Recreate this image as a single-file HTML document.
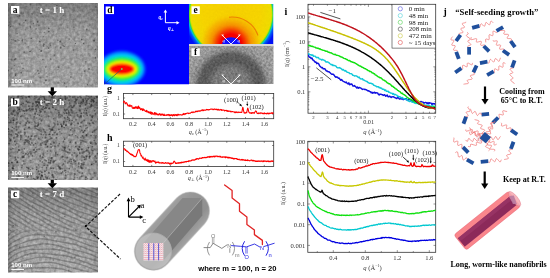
<!DOCTYPE html>
<html><head><meta charset="utf-8"><title>figure</title>
<style>html,body{margin:0;padding:0;background:#fff;width:550px;height:278px;overflow:hidden;}svg{display:block;}</style>
</head><body>
<svg width="550" height="278" viewBox="0 0 550 278" style="filter:blur(0.3px)">
<rect width="550" height="278" fill="#fff"/>
<defs>
<filter id="temA" x="0" y="0" width="100%" height="100%" color-interpolation-filters="sRGB">
 <feTurbulence type="fractalNoise" baseFrequency="0.33" numOctaves="2" seed="4"/>
 <feColorMatrix type="matrix" values="0.34 0 0 0 0.455  0.34 0 0 0 0.455  0.34 0 0 0 0.455  0 0 0 0 1"/>
</filter>
<filter id="temB" x="0" y="0" width="100%" height="100%" color-interpolation-filters="sRGB">
 <feTurbulence type="fractalNoise" baseFrequency="0.33" numOctaves="2" seed="9"/>
 <feColorMatrix type="matrix" values="0.36 0 0 0 0.42  0.36 0 0 0 0.42  0.36 0 0 0 0.42  0 0 0 0 1"/>
</filter>
<filter id="temC" x="0" y="0" width="100%" height="100%" color-interpolation-filters="sRGB">
 <feTurbulence type="fractalNoise" baseFrequency="0.33" numOctaves="2" seed="13"/>
 <feColorMatrix type="matrix" values="0.32 0 0 0 0.49  0.32 0 0 0 0.49  0.32 0 0 0 0.49  0 0 0 0 1"/>
</filter>
<filter id="temF" x="0" y="0" width="100%" height="100%" color-interpolation-filters="sRGB">
 <feTurbulence type="fractalNoise" baseFrequency="0.45" numOctaves="2" seed="21"/>
 <feColorMatrix type="matrix" values="0.35 0 0 0 0.43  0.35 0 0 0 0.43  0.35 0 0 0 0.43  0 0 0 0 1"/>
</filter>
<filter id="blur1"><feGaussianBlur stdDeviation="1.2"/></filter>
<filter id="blur2"><feGaussianBlur stdDeviation="2.5"/></filter>
<filter id="blurH" x="-20%" y="-20%" width="140%" height="140%"><feGaussianBlur stdDeviation="1.1"/></filter>
<filter id="dotblur" x="-5%" y="-5%" width="110%" height="110%"><feGaussianBlur stdDeviation="0.35"/></filter>
<filter id="blur05"><feGaussianBlur stdDeviation="0.5"/></filter>
<clipPath id="cA"><rect x="8" y="3" width="90" height="84.5"/></clipPath>
<clipPath id="cB"><rect x="8" y="95.5" width="90" height="84.5"/></clipPath>
<clipPath id="cC"><rect x="8" y="187.5" width="90" height="85"/></clipPath>
<clipPath id="cD"><rect x="104" y="4" width="85" height="80.5"/></clipPath>
<clipPath id="cE"><rect x="189" y="4" width="84.5" height="40"/></clipPath>
<clipPath id="cF"><rect x="189" y="45" width="84.5" height="39"/></clipPath>
<radialGradient id="gHeat" cx="121" cy="68" r="24" gradientUnits="userSpaceOnUse" gradientTransform="translate(121 68) scale(1 0.74) translate(-121 -68)">
 <stop offset="0" stop-color="#ff0000"/>
 <stop offset="0.42" stop-color="#ff1000"/>
 <stop offset="0.52" stop-color="#ff9000"/>
 <stop offset="0.62" stop-color="#f8f000"/>
 <stop offset="0.75" stop-color="#30e030"/>
 <stop offset="0.88" stop-color="#00c8f0"/>
 <stop offset="1" stop-color="#0000ff"/>
</radialGradient>
<radialGradient id="gE" cx="231" cy="14.3" r="47" gradientUnits="userSpaceOnUse">
 <stop offset="0" stop-color="#ffd800"/>
 <stop offset="0.6" stop-color="#ffdc00"/>
 <stop offset="0.855" stop-color="#f8e400"/>
 <stop offset="0.872" stop-color="#c8f000"/>
 <stop offset="0.892" stop-color="#30e050"/>
 <stop offset="0.912" stop-color="#00c0e8"/>
 <stop offset="0.94" stop-color="#0060ff"/>
 <stop offset="1" stop-color="#0010ff"/>
</radialGradient>
<radialGradient id="gE2" cx="231" cy="44" r="32" gradientUnits="userSpaceOnUse" gradientTransform="translate(231 44) scale(1 0.95) translate(-231 -44)">
 <stop offset="0" stop-color="#ff0000"/>
 <stop offset="0.33" stop-color="#ff0000"/>
 <stop offset="0.46" stop-color="#ff3800" stop-opacity="0.95"/>
 <stop offset="0.62" stop-color="#ff8000" stop-opacity="0.75"/>
 <stop offset="0.82" stop-color="#ffa000" stop-opacity="0.42"/>
 <stop offset="0.92" stop-color="#ffb000" stop-opacity="0.12"/>
 <stop offset="1" stop-color="#ffc000" stop-opacity="0"/>
</radialGradient>
<radialGradient id="gF" cx="231" cy="86" r="42" gradientUnits="userSpaceOnUse">
 <stop offset="0" stop-color="#000" stop-opacity="0.18"/>
 <stop offset="0.42" stop-color="#000" stop-opacity="0.22"/>
 <stop offset="0.6" stop-color="#000" stop-opacity="0.42"/>
 <stop offset="0.76" stop-color="#000" stop-opacity="0.4"/>
 <stop offset="0.88" stop-color="#000" stop-opacity="0.1"/>
 <stop offset="1" stop-color="#000" stop-opacity="0"/>
</radialGradient>
<linearGradient id="gSide" x1="0" y1="0" x2="1" y2="0">
 <stop offset="0" stop-color="#000" stop-opacity="0.2"/>
 <stop offset="0.05" stop-color="#000" stop-opacity="0.06"/>
 <stop offset="0.15" stop-color="#000" stop-opacity="0"/>
 <stop offset="0.9" stop-color="#000" stop-opacity="0"/>
 <stop offset="1" stop-color="#000" stop-opacity="0.08"/>
</linearGradient>
<linearGradient id="gAtop" x1="0" y1="0" x2="0" y2="1">
 <stop offset="0" stop-color="#000" stop-opacity="0.22"/>
 <stop offset="0.35" stop-color="#000" stop-opacity="0.05"/>
 <stop offset="1" stop-color="#000" stop-opacity="0"/>
</linearGradient>
</defs>
<g clip-path="url(#cA)">
<rect x="8" y="3" width="90" height="84.5" filter="url(#temA)"/>
<rect x="8" y="3" width="90" height="84.5" fill="url(#gAtop)"/>
<rect x="8" y="3" width="90" height="84.5" fill="url(#gSide)"/>
<g filter="url(#dotblur)">
<circle cx="37.1" cy="15.7" r="0.86" fill="#303030" fill-opacity="0.33"/>
<circle cx="56.2" cy="33.9" r="0.62" fill="#303030" fill-opacity="0.48"/>
<circle cx="11.4" cy="39.6" r="0.63" fill="#303030" fill-opacity="0.33"/>
<circle cx="46.2" cy="72.9" r="0.65" fill="#303030" fill-opacity="0.38"/>
<circle cx="64.5" cy="83.1" r="0.83" fill="#303030" fill-opacity="0.44"/>
<circle cx="95.9" cy="6.9" r="0.94" fill="#303030" fill-opacity="0.40"/>
<circle cx="21.0" cy="13.0" r="0.72" fill="#303030" fill-opacity="0.59"/>
<circle cx="24.3" cy="52.1" r="0.86" fill="#303030" fill-opacity="0.43"/>
<circle cx="57.3" cy="8.3" r="0.62" fill="#303030" fill-opacity="0.37"/>
<circle cx="69.2" cy="39.1" r="0.73" fill="#303030" fill-opacity="0.50"/>
<circle cx="48.8" cy="28.3" r="0.92" fill="#303030" fill-opacity="0.54"/>
<circle cx="30.0" cy="51.5" r="0.81" fill="#303030" fill-opacity="0.61"/>
<circle cx="73.7" cy="27.3" r="0.99" fill="#303030" fill-opacity="0.34"/>
<circle cx="45.6" cy="67.0" r="0.66" fill="#303030" fill-opacity="0.47"/>
<circle cx="11.5" cy="59.5" r="0.91" fill="#303030" fill-opacity="0.50"/>
<circle cx="86.8" cy="29.5" r="0.88" fill="#303030" fill-opacity="0.51"/>
<circle cx="60.2" cy="41.5" r="0.94" fill="#303030" fill-opacity="0.63"/>
<circle cx="50.7" cy="59.1" r="0.62" fill="#303030" fill-opacity="0.55"/>
<circle cx="66.2" cy="86.9" r="0.93" fill="#303030" fill-opacity="0.40"/>
<circle cx="42.7" cy="59.5" r="0.61" fill="#303030" fill-opacity="0.46"/>
<circle cx="23.1" cy="12.9" r="0.62" fill="#303030" fill-opacity="0.57"/>
<circle cx="19.6" cy="23.9" r="0.76" fill="#303030" fill-opacity="0.60"/>
<circle cx="15.3" cy="41.0" r="0.82" fill="#303030" fill-opacity="0.61"/>
<circle cx="81.7" cy="76.0" r="0.71" fill="#303030" fill-opacity="0.45"/>
<circle cx="40.3" cy="77.7" r="0.98" fill="#303030" fill-opacity="0.35"/>
<circle cx="23.9" cy="22.6" r="0.69" fill="#303030" fill-opacity="0.47"/>
<circle cx="61.0" cy="25.2" r="0.60" fill="#303030" fill-opacity="0.45"/>
<circle cx="41.2" cy="50.9" r="0.98" fill="#303030" fill-opacity="0.54"/>
<circle cx="54.4" cy="55.2" r="0.87" fill="#303030" fill-opacity="0.32"/>
<circle cx="89.0" cy="68.9" r="0.95" fill="#303030" fill-opacity="0.58"/>
<circle cx="43.3" cy="36.7" r="0.64" fill="#303030" fill-opacity="0.52"/>
<circle cx="13.6" cy="8.7" r="0.68" fill="#303030" fill-opacity="0.36"/>
<circle cx="38.6" cy="7.4" r="0.60" fill="#303030" fill-opacity="0.35"/>
<circle cx="17.1" cy="33.7" r="0.61" fill="#303030" fill-opacity="0.61"/>
<circle cx="63.3" cy="15.6" r="0.70" fill="#303030" fill-opacity="0.42"/>
<circle cx="40.8" cy="13.4" r="0.94" fill="#303030" fill-opacity="0.65"/>
<circle cx="49.9" cy="43.9" r="0.63" fill="#303030" fill-opacity="0.34"/>
<circle cx="38.8" cy="25.4" r="0.93" fill="#303030" fill-opacity="0.36"/>
<circle cx="10.1" cy="83.4" r="0.81" fill="#303030" fill-opacity="0.35"/>
<circle cx="56.9" cy="5.3" r="0.81" fill="#303030" fill-opacity="0.64"/>
<circle cx="85.7" cy="61.8" r="0.70" fill="#303030" fill-opacity="0.43"/>
<circle cx="23.0" cy="68.2" r="0.81" fill="#303030" fill-opacity="0.57"/>
<circle cx="37.7" cy="21.8" r="0.92" fill="#303030" fill-opacity="0.64"/>
<circle cx="84.7" cy="71.1" r="0.93" fill="#303030" fill-opacity="0.56"/>
<circle cx="28.4" cy="46.7" r="0.74" fill="#303030" fill-opacity="0.31"/>
<circle cx="10.5" cy="26.6" r="0.70" fill="#303030" fill-opacity="0.54"/>
<circle cx="94.1" cy="40.8" r="0.97" fill="#303030" fill-opacity="0.65"/>
<circle cx="94.0" cy="33.8" r="0.69" fill="#303030" fill-opacity="0.38"/>
<circle cx="25.7" cy="20.3" r="0.85" fill="#303030" fill-opacity="0.62"/>
<circle cx="83.6" cy="43.5" r="0.86" fill="#303030" fill-opacity="0.58"/>
<circle cx="15.6" cy="58.8" r="0.96" fill="#303030" fill-opacity="0.57"/>
<circle cx="75.5" cy="43.4" r="0.67" fill="#303030" fill-opacity="0.58"/>
<circle cx="37.9" cy="70.7" r="0.99" fill="#303030" fill-opacity="0.44"/>
<circle cx="44.1" cy="83.0" r="0.89" fill="#303030" fill-opacity="0.36"/>
<circle cx="19.4" cy="15.8" r="0.96" fill="#303030" fill-opacity="0.58"/>
<circle cx="21.2" cy="72.8" r="0.99" fill="#303030" fill-opacity="0.53"/>
<circle cx="39.5" cy="49.4" r="0.65" fill="#303030" fill-opacity="0.30"/>
<circle cx="95.4" cy="57.9" r="0.81" fill="#303030" fill-opacity="0.63"/>
<circle cx="47.0" cy="76.7" r="0.93" fill="#303030" fill-opacity="0.37"/>
<circle cx="30.7" cy="27.8" r="0.70" fill="#303030" fill-opacity="0.51"/>
<circle cx="31.3" cy="38.4" r="0.65" fill="#303030" fill-opacity="0.62"/>
<circle cx="39.8" cy="41.7" r="0.83" fill="#303030" fill-opacity="0.62"/>
<circle cx="45.9" cy="80.5" r="0.80" fill="#303030" fill-opacity="0.49"/>
<circle cx="55.1" cy="4.6" r="0.78" fill="#303030" fill-opacity="0.36"/>
<circle cx="8.4" cy="70.5" r="0.67" fill="#303030" fill-opacity="0.47"/>
<circle cx="73.3" cy="50.0" r="0.73" fill="#303030" fill-opacity="0.48"/>
<circle cx="58.0" cy="69.3" r="0.64" fill="#303030" fill-opacity="0.50"/>
<circle cx="30.4" cy="26.4" r="0.91" fill="#303030" fill-opacity="0.48"/>
<circle cx="58.6" cy="67.2" r="0.96" fill="#303030" fill-opacity="0.46"/>
<circle cx="63.1" cy="45.7" r="0.80" fill="#303030" fill-opacity="0.54"/>
<circle cx="48.7" cy="48.1" r="0.79" fill="#303030" fill-opacity="0.63"/>
<circle cx="70.9" cy="77.1" r="0.98" fill="#303030" fill-opacity="0.39"/>
<circle cx="58.4" cy="82.7" r="0.94" fill="#303030" fill-opacity="0.35"/>
<circle cx="18.9" cy="40.4" r="0.63" fill="#303030" fill-opacity="0.38"/>
<circle cx="14.6" cy="59.6" r="0.91" fill="#303030" fill-opacity="0.61"/>
<circle cx="21.9" cy="63.5" r="0.86" fill="#303030" fill-opacity="0.35"/>
<circle cx="87.5" cy="84.8" r="0.69" fill="#303030" fill-opacity="0.63"/>
<circle cx="43.8" cy="44.2" r="1.00" fill="#303030" fill-opacity="0.59"/>
<circle cx="22.5" cy="39.5" r="0.81" fill="#303030" fill-opacity="0.42"/>
<circle cx="25.6" cy="29.9" r="0.89" fill="#303030" fill-opacity="0.31"/>
<circle cx="57.9" cy="40.2" r="0.61" fill="#303030" fill-opacity="0.42"/>
<circle cx="64.2" cy="46.3" r="0.63" fill="#303030" fill-opacity="0.64"/>
<circle cx="79.0" cy="85.1" r="0.64" fill="#303030" fill-opacity="0.39"/>
<circle cx="11.6" cy="68.8" r="0.71" fill="#303030" fill-opacity="0.35"/>
<circle cx="46.0" cy="80.0" r="0.93" fill="#303030" fill-opacity="0.39"/>
<circle cx="21.4" cy="80.7" r="0.83" fill="#303030" fill-opacity="0.55"/>
<circle cx="16.1" cy="7.9" r="0.88" fill="#303030" fill-opacity="0.45"/>
<circle cx="14.5" cy="82.3" r="0.85" fill="#303030" fill-opacity="0.58"/>
<circle cx="15.5" cy="75.4" r="0.63" fill="#303030" fill-opacity="0.60"/>
<circle cx="48.8" cy="31.7" r="0.82" fill="#303030" fill-opacity="0.62"/>
<circle cx="32.1" cy="13.9" r="0.81" fill="#303030" fill-opacity="0.38"/>
<circle cx="17.9" cy="16.6" r="0.62" fill="#303030" fill-opacity="0.37"/>
<circle cx="36.1" cy="28.8" r="0.90" fill="#303030" fill-opacity="0.40"/>
<circle cx="53.0" cy="18.0" r="0.74" fill="#303030" fill-opacity="0.31"/>
<circle cx="30.5" cy="4.3" r="0.89" fill="#303030" fill-opacity="0.49"/>
<circle cx="25.1" cy="43.1" r="0.97" fill="#303030" fill-opacity="0.34"/>
<circle cx="81.7" cy="39.5" r="0.80" fill="#303030" fill-opacity="0.59"/>
<circle cx="43.4" cy="45.8" r="0.88" fill="#303030" fill-opacity="0.64"/>
<circle cx="38.8" cy="73.3" r="0.88" fill="#303030" fill-opacity="0.52"/>
<circle cx="44.4" cy="32.4" r="0.62" fill="#303030" fill-opacity="0.35"/>
<circle cx="14.4" cy="65.6" r="0.70" fill="#303030" fill-opacity="0.36"/>
<circle cx="15.6" cy="74.1" r="0.95" fill="#303030" fill-opacity="0.53"/>
<circle cx="33.4" cy="23.5" r="0.72" fill="#303030" fill-opacity="0.46"/>
<circle cx="22.2" cy="40.7" r="0.71" fill="#303030" fill-opacity="0.64"/>
<circle cx="95.5" cy="49.2" r="0.70" fill="#303030" fill-opacity="0.64"/>
<circle cx="35.9" cy="33.1" r="0.60" fill="#303030" fill-opacity="0.43"/>
<circle cx="50.7" cy="45.5" r="0.68" fill="#303030" fill-opacity="0.48"/>
<circle cx="8.4" cy="25.3" r="0.64" fill="#303030" fill-opacity="0.44"/>
<circle cx="11.8" cy="4.9" r="0.72" fill="#303030" fill-opacity="0.38"/>
<circle cx="60.7" cy="47.7" r="0.90" fill="#303030" fill-opacity="0.53"/>
</g>
</g>
<g clip-path="url(#cB)">
<rect x="8" y="95.5" width="90" height="84.5" filter="url(#temB)"/>
<rect x="8" y="95.5" width="90" height="84.5" fill="url(#gAtop)"/>
<rect x="8" y="95.5" width="90" height="84.5" fill="url(#gSide)"/>
<g filter="url(#dotblur)">
<circle cx="72.4" cy="167.0" r="0.84" fill="#262626" fill-opacity="0.41"/>
<circle cx="96.6" cy="102.6" r="0.95" fill="#262626" fill-opacity="0.53"/>
<circle cx="11.9" cy="162.4" r="1.01" fill="#262626" fill-opacity="0.52"/>
<circle cx="74.0" cy="160.0" r="0.75" fill="#262626" fill-opacity="0.48"/>
<circle cx="53.4" cy="162.3" r="0.98" fill="#262626" fill-opacity="0.59"/>
<circle cx="60.6" cy="168.4" r="0.94" fill="#262626" fill-opacity="0.54"/>
<circle cx="28.7" cy="96.4" r="0.75" fill="#262626" fill-opacity="0.43"/>
<circle cx="17.4" cy="162.4" r="0.90" fill="#262626" fill-opacity="0.52"/>
<circle cx="64.4" cy="146.7" r="0.87" fill="#262626" fill-opacity="0.30"/>
<circle cx="79.8" cy="153.5" r="0.88" fill="#262626" fill-opacity="0.49"/>
<circle cx="67.3" cy="98.0" r="0.96" fill="#262626" fill-opacity="0.39"/>
<circle cx="14.7" cy="110.6" r="0.96" fill="#262626" fill-opacity="0.37"/>
<circle cx="74.6" cy="177.3" r="0.87" fill="#262626" fill-opacity="0.43"/>
<circle cx="51.1" cy="147.0" r="0.97" fill="#262626" fill-opacity="0.52"/>
<circle cx="65.8" cy="98.5" r="0.75" fill="#262626" fill-opacity="0.39"/>
<circle cx="74.9" cy="113.5" r="0.90" fill="#262626" fill-opacity="0.30"/>
<circle cx="13.5" cy="110.8" r="0.94" fill="#262626" fill-opacity="0.54"/>
<circle cx="68.8" cy="112.5" r="0.88" fill="#262626" fill-opacity="0.46"/>
<circle cx="50.0" cy="100.8" r="1.01" fill="#262626" fill-opacity="0.37"/>
<circle cx="96.0" cy="173.1" r="0.71" fill="#262626" fill-opacity="0.46"/>
<circle cx="81.8" cy="176.5" r="0.86" fill="#262626" fill-opacity="0.39"/>
<circle cx="26.9" cy="174.1" r="0.77" fill="#262626" fill-opacity="0.50"/>
<circle cx="20.8" cy="132.0" r="1.03" fill="#262626" fill-opacity="0.35"/>
<circle cx="81.8" cy="130.6" r="1.01" fill="#262626" fill-opacity="0.55"/>
<circle cx="28.8" cy="168.9" r="0.87" fill="#262626" fill-opacity="0.31"/>
<circle cx="8.3" cy="129.1" r="0.86" fill="#262626" fill-opacity="0.41"/>
<circle cx="20.7" cy="116.6" r="0.81" fill="#262626" fill-opacity="0.59"/>
<circle cx="8.2" cy="153.7" r="0.99" fill="#262626" fill-opacity="0.34"/>
<circle cx="91.4" cy="149.9" r="1.02" fill="#262626" fill-opacity="0.40"/>
<circle cx="41.5" cy="120.6" r="1.05" fill="#262626" fill-opacity="0.51"/>
<circle cx="40.5" cy="123.5" r="0.80" fill="#262626" fill-opacity="0.32"/>
<circle cx="17.2" cy="162.3" r="0.80" fill="#262626" fill-opacity="0.63"/>
<circle cx="30.4" cy="110.6" r="0.88" fill="#262626" fill-opacity="0.37"/>
<circle cx="41.6" cy="175.2" r="1.01" fill="#262626" fill-opacity="0.58"/>
<circle cx="64.8" cy="170.6" r="1.03" fill="#262626" fill-opacity="0.49"/>
<circle cx="72.8" cy="97.2" r="0.96" fill="#262626" fill-opacity="0.46"/>
<circle cx="75.7" cy="143.2" r="0.80" fill="#262626" fill-opacity="0.32"/>
<circle cx="91.4" cy="101.3" r="0.87" fill="#262626" fill-opacity="0.42"/>
<circle cx="34.8" cy="152.5" r="1.04" fill="#262626" fill-opacity="0.39"/>
<circle cx="67.0" cy="113.2" r="0.90" fill="#262626" fill-opacity="0.44"/>
<circle cx="23.1" cy="103.4" r="0.77" fill="#262626" fill-opacity="0.62"/>
<circle cx="52.7" cy="107.3" r="1.02" fill="#262626" fill-opacity="0.65"/>
<circle cx="48.5" cy="102.0" r="0.77" fill="#262626" fill-opacity="0.33"/>
<circle cx="38.8" cy="99.3" r="0.78" fill="#262626" fill-opacity="0.39"/>
<circle cx="59.3" cy="167.8" r="0.96" fill="#262626" fill-opacity="0.44"/>
<circle cx="45.2" cy="132.0" r="0.83" fill="#262626" fill-opacity="0.42"/>
<circle cx="13.6" cy="111.5" r="1.04" fill="#262626" fill-opacity="0.34"/>
<circle cx="53.3" cy="141.8" r="1.00" fill="#262626" fill-opacity="0.38"/>
<circle cx="32.4" cy="109.3" r="0.84" fill="#262626" fill-opacity="0.46"/>
<circle cx="93.9" cy="163.8" r="1.01" fill="#262626" fill-opacity="0.31"/>
<circle cx="10.9" cy="149.6" r="1.01" fill="#262626" fill-opacity="0.47"/>
<circle cx="60.8" cy="95.5" r="0.84" fill="#262626" fill-opacity="0.62"/>
<circle cx="82.3" cy="164.5" r="1.04" fill="#262626" fill-opacity="0.39"/>
<circle cx="17.8" cy="102.9" r="0.88" fill="#262626" fill-opacity="0.54"/>
<circle cx="92.7" cy="150.8" r="0.93" fill="#262626" fill-opacity="0.57"/>
<circle cx="49.2" cy="134.5" r="0.71" fill="#262626" fill-opacity="0.57"/>
<circle cx="28.9" cy="171.3" r="0.93" fill="#262626" fill-opacity="0.41"/>
<circle cx="19.5" cy="109.6" r="0.92" fill="#262626" fill-opacity="0.54"/>
<circle cx="18.1" cy="98.2" r="0.88" fill="#262626" fill-opacity="0.50"/>
<circle cx="42.9" cy="107.6" r="0.91" fill="#262626" fill-opacity="0.30"/>
<circle cx="35.1" cy="126.4" r="1.04" fill="#262626" fill-opacity="0.53"/>
<circle cx="87.5" cy="127.6" r="0.78" fill="#262626" fill-opacity="0.39"/>
<circle cx="94.5" cy="149.1" r="0.81" fill="#262626" fill-opacity="0.31"/>
<circle cx="52.8" cy="146.1" r="0.85" fill="#262626" fill-opacity="0.39"/>
<circle cx="68.1" cy="171.9" r="0.78" fill="#262626" fill-opacity="0.31"/>
<circle cx="38.4" cy="122.9" r="0.94" fill="#262626" fill-opacity="0.37"/>
<circle cx="79.7" cy="152.5" r="0.88" fill="#262626" fill-opacity="0.37"/>
<circle cx="95.3" cy="114.1" r="0.99" fill="#262626" fill-opacity="0.38"/>
<circle cx="27.9" cy="154.7" r="0.80" fill="#262626" fill-opacity="0.63"/>
<circle cx="52.6" cy="105.1" r="0.78" fill="#262626" fill-opacity="0.45"/>
<circle cx="67.9" cy="174.4" r="0.75" fill="#262626" fill-opacity="0.44"/>
<circle cx="27.2" cy="177.2" r="0.75" fill="#262626" fill-opacity="0.32"/>
<circle cx="13.4" cy="120.6" r="1.01" fill="#262626" fill-opacity="0.61"/>
<circle cx="73.9" cy="179.7" r="1.03" fill="#262626" fill-opacity="0.42"/>
<circle cx="24.7" cy="173.0" r="0.96" fill="#262626" fill-opacity="0.31"/>
<circle cx="67.8" cy="119.4" r="0.83" fill="#262626" fill-opacity="0.42"/>
<circle cx="23.2" cy="95.5" r="0.80" fill="#262626" fill-opacity="0.42"/>
<circle cx="94.0" cy="101.1" r="1.04" fill="#262626" fill-opacity="0.37"/>
<circle cx="40.1" cy="160.9" r="0.99" fill="#262626" fill-opacity="0.45"/>
<circle cx="12.4" cy="127.5" r="0.83" fill="#262626" fill-opacity="0.62"/>
<circle cx="25.4" cy="118.2" r="1.01" fill="#262626" fill-opacity="0.31"/>
<circle cx="45.0" cy="159.9" r="0.97" fill="#262626" fill-opacity="0.31"/>
<circle cx="11.1" cy="97.8" r="1.02" fill="#262626" fill-opacity="0.39"/>
<circle cx="75.3" cy="169.0" r="0.82" fill="#262626" fill-opacity="0.40"/>
<circle cx="94.2" cy="140.6" r="0.79" fill="#262626" fill-opacity="0.55"/>
<circle cx="36.5" cy="111.3" r="0.70" fill="#262626" fill-opacity="0.56"/>
<circle cx="90.5" cy="142.2" r="1.03" fill="#262626" fill-opacity="0.31"/>
<circle cx="29.0" cy="127.6" r="1.03" fill="#262626" fill-opacity="0.63"/>
<circle cx="42.8" cy="109.5" r="0.85" fill="#262626" fill-opacity="0.47"/>
<circle cx="91.5" cy="104.8" r="0.98" fill="#262626" fill-opacity="0.56"/>
<circle cx="82.0" cy="155.9" r="0.91" fill="#262626" fill-opacity="0.41"/>
<circle cx="36.8" cy="118.0" r="0.97" fill="#262626" fill-opacity="0.33"/>
<circle cx="25.8" cy="153.9" r="0.79" fill="#262626" fill-opacity="0.32"/>
<circle cx="11.0" cy="134.6" r="0.81" fill="#262626" fill-opacity="0.64"/>
<circle cx="87.5" cy="178.7" r="0.79" fill="#262626" fill-opacity="0.33"/>
<circle cx="16.7" cy="129.7" r="0.95" fill="#262626" fill-opacity="0.46"/>
<circle cx="29.1" cy="122.6" r="0.92" fill="#262626" fill-opacity="0.54"/>
<circle cx="75.3" cy="163.6" r="0.93" fill="#262626" fill-opacity="0.34"/>
<circle cx="83.7" cy="112.7" r="0.90" fill="#262626" fill-opacity="0.43"/>
<circle cx="74.4" cy="105.9" r="0.79" fill="#262626" fill-opacity="0.39"/>
<circle cx="21.8" cy="167.5" r="0.90" fill="#262626" fill-opacity="0.41"/>
<circle cx="43.6" cy="179.2" r="0.88" fill="#262626" fill-opacity="0.38"/>
<circle cx="80.8" cy="144.1" r="1.05" fill="#262626" fill-opacity="0.34"/>
<circle cx="50.7" cy="160.7" r="0.99" fill="#262626" fill-opacity="0.62"/>
<circle cx="11.6" cy="112.7" r="0.74" fill="#262626" fill-opacity="0.37"/>
<circle cx="95.6" cy="137.4" r="1.03" fill="#262626" fill-opacity="0.43"/>
<circle cx="86.0" cy="125.3" r="0.79" fill="#262626" fill-opacity="0.57"/>
<circle cx="93.1" cy="100.1" r="0.91" fill="#262626" fill-opacity="0.52"/>
<circle cx="27.6" cy="118.6" r="0.75" fill="#262626" fill-opacity="0.37"/>
<circle cx="30.9" cy="138.9" r="0.93" fill="#262626" fill-opacity="0.37"/>
<circle cx="9.0" cy="115.3" r="0.94" fill="#262626" fill-opacity="0.36"/>
<circle cx="36.1" cy="106.2" r="0.98" fill="#262626" fill-opacity="0.49"/>
<circle cx="13.7" cy="99.8" r="0.84" fill="#262626" fill-opacity="0.49"/>
<circle cx="65.5" cy="99.3" r="0.76" fill="#262626" fill-opacity="0.54"/>
<circle cx="44.9" cy="111.9" r="0.81" fill="#262626" fill-opacity="0.63"/>
<circle cx="36.1" cy="135.9" r="0.83" fill="#262626" fill-opacity="0.45"/>
<circle cx="85.8" cy="179.6" r="0.83" fill="#262626" fill-opacity="0.37"/>
<circle cx="73.5" cy="106.2" r="0.70" fill="#262626" fill-opacity="0.62"/>
<circle cx="46.1" cy="160.8" r="0.84" fill="#262626" fill-opacity="0.61"/>
<circle cx="49.5" cy="103.5" r="0.71" fill="#262626" fill-opacity="0.49"/>
<circle cx="65.7" cy="170.2" r="0.73" fill="#262626" fill-opacity="0.52"/>
<circle cx="41.4" cy="130.2" r="0.75" fill="#262626" fill-opacity="0.40"/>
<circle cx="54.9" cy="171.9" r="0.74" fill="#262626" fill-opacity="0.47"/>
<circle cx="80.4" cy="176.4" r="0.77" fill="#262626" fill-opacity="0.34"/>
<circle cx="92.9" cy="177.3" r="0.87" fill="#262626" fill-opacity="0.32"/>
<circle cx="91.4" cy="120.2" r="1.02" fill="#262626" fill-opacity="0.52"/>
<circle cx="82.2" cy="103.3" r="0.98" fill="#262626" fill-opacity="0.38"/>
<circle cx="44.4" cy="163.5" r="0.99" fill="#262626" fill-opacity="0.36"/>
<circle cx="27.6" cy="121.2" r="0.88" fill="#262626" fill-opacity="0.43"/>
<circle cx="19.1" cy="109.2" r="0.95" fill="#262626" fill-opacity="0.61"/>
<circle cx="11.7" cy="135.5" r="0.97" fill="#262626" fill-opacity="0.31"/>
<circle cx="83.4" cy="100.7" r="0.91" fill="#262626" fill-opacity="0.49"/>
<circle cx="64.4" cy="113.6" r="0.85" fill="#262626" fill-opacity="0.50"/>
<circle cx="46.3" cy="144.6" r="0.86" fill="#262626" fill-opacity="0.45"/>
<circle cx="10.1" cy="140.8" r="0.87" fill="#262626" fill-opacity="0.38"/>
<circle cx="76.7" cy="156.7" r="0.86" fill="#262626" fill-opacity="0.36"/>
<circle cx="50.6" cy="100.1" r="0.74" fill="#262626" fill-opacity="0.45"/>
<circle cx="16.3" cy="124.7" r="0.88" fill="#262626" fill-opacity="0.31"/>
<circle cx="65.3" cy="98.8" r="0.96" fill="#262626" fill-opacity="0.57"/>
<circle cx="54.0" cy="97.4" r="0.88" fill="#262626" fill-opacity="0.43"/>
<circle cx="93.6" cy="101.8" r="1.00" fill="#262626" fill-opacity="0.65"/>
<circle cx="73.9" cy="160.3" r="0.77" fill="#262626" fill-opacity="0.64"/>
<circle cx="52.3" cy="175.3" r="1.02" fill="#262626" fill-opacity="0.36"/>
<circle cx="79.0" cy="172.5" r="0.72" fill="#262626" fill-opacity="0.42"/>
<circle cx="76.1" cy="103.2" r="1.01" fill="#262626" fill-opacity="0.40"/>
<circle cx="81.4" cy="102.3" r="0.88" fill="#262626" fill-opacity="0.62"/>
<circle cx="26.7" cy="110.4" r="0.88" fill="#262626" fill-opacity="0.41"/>
<circle cx="11.3" cy="104.7" r="0.76" fill="#262626" fill-opacity="0.63"/>
<circle cx="69.2" cy="168.7" r="0.76" fill="#262626" fill-opacity="0.57"/>
<circle cx="18.4" cy="132.6" r="0.92" fill="#262626" fill-opacity="0.43"/>
<circle cx="86.6" cy="134.8" r="0.90" fill="#262626" fill-opacity="0.61"/>
<circle cx="17.4" cy="179.2" r="0.92" fill="#262626" fill-opacity="0.44"/>
<circle cx="79.8" cy="110.5" r="1.05" fill="#262626" fill-opacity="0.50"/>
<circle cx="40.4" cy="155.1" r="0.85" fill="#262626" fill-opacity="0.36"/>
<circle cx="74.9" cy="97.1" r="0.99" fill="#262626" fill-opacity="0.39"/>
<circle cx="65.5" cy="178.3" r="0.91" fill="#262626" fill-opacity="0.53"/>
<circle cx="36.1" cy="95.5" r="0.71" fill="#262626" fill-opacity="0.35"/>
<circle cx="63.4" cy="123.9" r="0.88" fill="#262626" fill-opacity="0.61"/>
<circle cx="19.9" cy="107.8" r="0.93" fill="#262626" fill-opacity="0.31"/>
<circle cx="8.2" cy="117.5" r="0.74" fill="#262626" fill-opacity="0.43"/>
<circle cx="28.2" cy="137.5" r="0.91" fill="#262626" fill-opacity="0.37"/>
<circle cx="64.2" cy="127.6" r="0.75" fill="#262626" fill-opacity="0.63"/>
<circle cx="29.9" cy="102.6" r="0.73" fill="#262626" fill-opacity="0.52"/>
<circle cx="86.4" cy="156.9" r="0.84" fill="#262626" fill-opacity="0.39"/>
<circle cx="9.0" cy="143.3" r="0.90" fill="#262626" fill-opacity="0.42"/>
<circle cx="66.1" cy="124.9" r="1.03" fill="#262626" fill-opacity="0.56"/>
<circle cx="30.4" cy="169.6" r="0.72" fill="#262626" fill-opacity="0.49"/>
<circle cx="44.5" cy="108.6" r="0.72" fill="#262626" fill-opacity="0.57"/>
<circle cx="9.1" cy="134.4" r="1.03" fill="#262626" fill-opacity="0.35"/>
<circle cx="26.0" cy="139.8" r="0.88" fill="#262626" fill-opacity="0.52"/>
<circle cx="81.2" cy="104.2" r="0.81" fill="#262626" fill-opacity="0.41"/>
<circle cx="12.4" cy="168.1" r="0.97" fill="#262626" fill-opacity="0.55"/>
<circle cx="8.6" cy="163.3" r="0.96" fill="#262626" fill-opacity="0.46"/>
<circle cx="74.8" cy="125.6" r="0.78" fill="#262626" fill-opacity="0.34"/>
<circle cx="28.9" cy="96.7" r="0.82" fill="#262626" fill-opacity="0.56"/>
<circle cx="70.6" cy="163.4" r="0.95" fill="#262626" fill-opacity="0.39"/>
<circle cx="57.8" cy="124.2" r="0.98" fill="#262626" fill-opacity="0.48"/>
<circle cx="31.9" cy="143.0" r="1.04" fill="#262626" fill-opacity="0.38"/>
<circle cx="87.2" cy="95.9" r="0.79" fill="#262626" fill-opacity="0.38"/>
<circle cx="74.9" cy="174.0" r="0.96" fill="#262626" fill-opacity="0.41"/>
<circle cx="87.2" cy="115.4" r="0.78" fill="#262626" fill-opacity="0.62"/>
<circle cx="64.8" cy="147.9" r="0.93" fill="#262626" fill-opacity="0.64"/>
<circle cx="50.3" cy="162.8" r="0.94" fill="#262626" fill-opacity="0.60"/>
<circle cx="47.3" cy="151.1" r="0.90" fill="#262626" fill-opacity="0.41"/>
<circle cx="27.1" cy="141.1" r="0.73" fill="#262626" fill-opacity="0.62"/>
<circle cx="21.0" cy="96.3" r="0.74" fill="#262626" fill-opacity="0.63"/>
<circle cx="39.0" cy="102.2" r="0.71" fill="#262626" fill-opacity="0.31"/>
<circle cx="70.3" cy="142.2" r="0.94" fill="#262626" fill-opacity="0.56"/>
<circle cx="13.9" cy="138.1" r="0.83" fill="#262626" fill-opacity="0.59"/>
<circle cx="81.8" cy="168.3" r="0.72" fill="#262626" fill-opacity="0.60"/>
<circle cx="90.3" cy="173.9" r="0.74" fill="#262626" fill-opacity="0.37"/>
<circle cx="18.1" cy="96.6" r="1.00" fill="#262626" fill-opacity="0.58"/>
<circle cx="65.1" cy="161.3" r="0.92" fill="#262626" fill-opacity="0.40"/>
<circle cx="17.0" cy="99.6" r="0.97" fill="#262626" fill-opacity="0.37"/>
<circle cx="36.7" cy="123.2" r="0.71" fill="#262626" fill-opacity="0.39"/>
<circle cx="33.4" cy="150.2" r="0.83" fill="#262626" fill-opacity="0.41"/>
<circle cx="94.8" cy="130.2" r="1.00" fill="#262626" fill-opacity="0.52"/>
<circle cx="10.8" cy="122.3" r="0.85" fill="#262626" fill-opacity="0.57"/>
<circle cx="39.2" cy="149.1" r="0.89" fill="#262626" fill-opacity="0.38"/>
<circle cx="85.6" cy="99.2" r="0.99" fill="#262626" fill-opacity="0.36"/>
<circle cx="8.1" cy="106.1" r="0.97" fill="#262626" fill-opacity="0.64"/>
<circle cx="8.4" cy="129.0" r="0.87" fill="#262626" fill-opacity="0.58"/>
<circle cx="24.6" cy="129.3" r="0.82" fill="#262626" fill-opacity="0.59"/>
<circle cx="31.5" cy="173.9" r="0.80" fill="#262626" fill-opacity="0.38"/>
<circle cx="71.0" cy="129.7" r="0.74" fill="#262626" fill-opacity="0.52"/>
<circle cx="15.3" cy="157.5" r="0.94" fill="#262626" fill-opacity="0.58"/>
<circle cx="64.5" cy="117.5" r="0.84" fill="#262626" fill-opacity="0.44"/>
<circle cx="88.1" cy="99.0" r="1.01" fill="#262626" fill-opacity="0.31"/>
<circle cx="26.6" cy="110.4" r="1.02" fill="#262626" fill-opacity="0.48"/>
<circle cx="42.1" cy="167.5" r="0.78" fill="#262626" fill-opacity="0.46"/>
<circle cx="55.8" cy="154.1" r="0.96" fill="#262626" fill-opacity="0.53"/>
<circle cx="39.4" cy="115.2" r="0.75" fill="#262626" fill-opacity="0.60"/>
<circle cx="67.6" cy="152.8" r="0.76" fill="#262626" fill-opacity="0.45"/>
<circle cx="77.6" cy="137.0" r="0.74" fill="#262626" fill-opacity="0.46"/>
<circle cx="87.7" cy="108.6" r="0.77" fill="#262626" fill-opacity="0.41"/>
<circle cx="71.3" cy="163.2" r="0.75" fill="#262626" fill-opacity="0.35"/>
<circle cx="30.3" cy="115.2" r="0.88" fill="#262626" fill-opacity="0.36"/>
<circle cx="37.5" cy="105.2" r="1.04" fill="#262626" fill-opacity="0.56"/>
<circle cx="17.2" cy="175.9" r="0.74" fill="#262626" fill-opacity="0.43"/>
<circle cx="96.5" cy="158.2" r="0.96" fill="#262626" fill-opacity="0.45"/>
<circle cx="25.7" cy="142.6" r="0.74" fill="#262626" fill-opacity="0.37"/>
<circle cx="43.0" cy="96.5" r="0.84" fill="#262626" fill-opacity="0.58"/>
<circle cx="70.4" cy="129.9" r="0.92" fill="#262626" fill-opacity="0.46"/>
<circle cx="20.8" cy="139.3" r="0.84" fill="#262626" fill-opacity="0.56"/>
<circle cx="89.7" cy="123.7" r="0.90" fill="#262626" fill-opacity="0.56"/>
<circle cx="45.9" cy="107.9" r="0.95" fill="#262626" fill-opacity="0.61"/>
<circle cx="77.7" cy="148.7" r="1.00" fill="#262626" fill-opacity="0.54"/>
<circle cx="65.7" cy="125.8" r="0.81" fill="#262626" fill-opacity="0.52"/>
<circle cx="16.8" cy="122.8" r="0.97" fill="#262626" fill-opacity="0.55"/>
<circle cx="64.7" cy="109.4" r="0.85" fill="#262626" fill-opacity="0.46"/>
<circle cx="63.9" cy="122.0" r="0.94" fill="#262626" fill-opacity="0.63"/>
<circle cx="24.5" cy="144.2" r="0.97" fill="#262626" fill-opacity="0.44"/>
<circle cx="52.1" cy="177.2" r="0.71" fill="#262626" fill-opacity="0.49"/>
<circle cx="22.5" cy="156.9" r="1.03" fill="#262626" fill-opacity="0.48"/>
<circle cx="17.1" cy="136.6" r="0.89" fill="#262626" fill-opacity="0.55"/>
<circle cx="54.1" cy="142.7" r="0.99" fill="#262626" fill-opacity="0.48"/>
<circle cx="44.9" cy="174.3" r="0.77" fill="#262626" fill-opacity="0.54"/>
<circle cx="43.3" cy="154.9" r="0.74" fill="#262626" fill-opacity="0.64"/>
<circle cx="40.0" cy="97.5" r="0.80" fill="#262626" fill-opacity="0.44"/>
<circle cx="9.2" cy="122.7" r="0.85" fill="#262626" fill-opacity="0.54"/>
<circle cx="39.7" cy="110.5" r="0.78" fill="#262626" fill-opacity="0.56"/>
<circle cx="92.6" cy="132.3" r="0.78" fill="#262626" fill-opacity="0.58"/>
<circle cx="43.3" cy="106.7" r="0.75" fill="#262626" fill-opacity="0.57"/>
<circle cx="80.9" cy="142.3" r="0.86" fill="#262626" fill-opacity="0.50"/>
<circle cx="28.3" cy="176.1" r="0.82" fill="#262626" fill-opacity="0.52"/>
<circle cx="81.7" cy="160.4" r="0.86" fill="#262626" fill-opacity="0.40"/>
<circle cx="57.3" cy="101.2" r="0.99" fill="#262626" fill-opacity="0.42"/>
<circle cx="84.6" cy="110.7" r="0.83" fill="#262626" fill-opacity="0.39"/>
<circle cx="46.3" cy="105.0" r="0.70" fill="#262626" fill-opacity="0.55"/>
<circle cx="33.3" cy="109.1" r="0.81" fill="#262626" fill-opacity="0.47"/>
<circle cx="46.6" cy="142.5" r="0.93" fill="#262626" fill-opacity="0.43"/>
<circle cx="91.6" cy="164.4" r="0.72" fill="#262626" fill-opacity="0.59"/>
<circle cx="89.5" cy="157.1" r="0.75" fill="#262626" fill-opacity="0.59"/>
<circle cx="65.0" cy="95.9" r="0.70" fill="#262626" fill-opacity="0.63"/>
<circle cx="67.0" cy="109.4" r="0.74" fill="#262626" fill-opacity="0.35"/>
<circle cx="29.0" cy="156.3" r="0.82" fill="#262626" fill-opacity="0.35"/>
<circle cx="89.4" cy="157.9" r="0.76" fill="#262626" fill-opacity="0.61"/>
<circle cx="62.8" cy="156.8" r="0.93" fill="#262626" fill-opacity="0.61"/>
<circle cx="78.9" cy="162.7" r="0.77" fill="#262626" fill-opacity="0.54"/>
<circle cx="55.8" cy="152.8" r="0.85" fill="#262626" fill-opacity="0.61"/>
<circle cx="58.0" cy="110.5" r="0.78" fill="#262626" fill-opacity="0.35"/>
<circle cx="52.4" cy="97.6" r="0.86" fill="#262626" fill-opacity="0.35"/>
<circle cx="52.2" cy="129.7" r="0.89" fill="#262626" fill-opacity="0.60"/>
<circle cx="8.6" cy="162.9" r="0.86" fill="#262626" fill-opacity="0.50"/>
<circle cx="67.9" cy="162.9" r="0.83" fill="#262626" fill-opacity="0.45"/>
<circle cx="94.5" cy="98.4" r="0.92" fill="#262626" fill-opacity="0.52"/>
<circle cx="10.6" cy="139.9" r="0.94" fill="#262626" fill-opacity="0.63"/>
<circle cx="37.7" cy="178.0" r="0.88" fill="#262626" fill-opacity="0.47"/>
<circle cx="88.8" cy="96.5" r="0.95" fill="#262626" fill-opacity="0.52"/>
<circle cx="38.5" cy="165.1" r="0.83" fill="#262626" fill-opacity="0.47"/>
<circle cx="55.3" cy="155.7" r="0.77" fill="#262626" fill-opacity="0.45"/>
<circle cx="46.0" cy="134.7" r="0.99" fill="#262626" fill-opacity="0.40"/>
<circle cx="82.5" cy="121.5" r="0.88" fill="#262626" fill-opacity="0.40"/>
<circle cx="53.6" cy="177.3" r="0.93" fill="#262626" fill-opacity="0.58"/>
<circle cx="37.8" cy="114.5" r="0.80" fill="#262626" fill-opacity="0.51"/>
<circle cx="65.1" cy="157.1" r="0.71" fill="#262626" fill-opacity="0.55"/>
<circle cx="87.7" cy="133.9" r="0.72" fill="#262626" fill-opacity="0.41"/>
<circle cx="8.6" cy="105.3" r="1.02" fill="#262626" fill-opacity="0.51"/>
<circle cx="67.2" cy="157.6" r="1.02" fill="#262626" fill-opacity="0.51"/>
<circle cx="63.5" cy="141.5" r="0.94" fill="#262626" fill-opacity="0.51"/>
<circle cx="69.3" cy="106.8" r="0.93" fill="#262626" fill-opacity="0.46"/>
<circle cx="76.6" cy="99.8" r="0.76" fill="#262626" fill-opacity="0.31"/>
<circle cx="77.7" cy="170.7" r="0.93" fill="#262626" fill-opacity="0.43"/>
<circle cx="82.0" cy="157.3" r="0.90" fill="#262626" fill-opacity="0.39"/>
<circle cx="35.2" cy="123.0" r="0.81" fill="#262626" fill-opacity="0.45"/>
<circle cx="65.8" cy="172.8" r="0.72" fill="#262626" fill-opacity="0.50"/>
<circle cx="11.5" cy="100.8" r="0.98" fill="#262626" fill-opacity="0.50"/>
<circle cx="90.7" cy="125.1" r="0.70" fill="#262626" fill-opacity="0.44"/>
<circle cx="61.3" cy="173.2" r="1.04" fill="#262626" fill-opacity="0.47"/>
<circle cx="45.1" cy="99.8" r="0.93" fill="#262626" fill-opacity="0.37"/>
<circle cx="21.7" cy="95.9" r="0.70" fill="#262626" fill-opacity="0.54"/>
<circle cx="19.0" cy="176.3" r="0.73" fill="#262626" fill-opacity="0.60"/>
<circle cx="19.6" cy="95.9" r="0.95" fill="#262626" fill-opacity="0.38"/>
<circle cx="74.0" cy="105.1" r="0.72" fill="#262626" fill-opacity="0.57"/>
<circle cx="72.2" cy="164.5" r="0.96" fill="#262626" fill-opacity="0.33"/>
<circle cx="64.6" cy="149.6" r="0.86" fill="#262626" fill-opacity="0.63"/>
<circle cx="30.9" cy="176.1" r="0.95" fill="#262626" fill-opacity="0.30"/>
<circle cx="9.3" cy="143.8" r="0.99" fill="#262626" fill-opacity="0.33"/>
<circle cx="36.0" cy="151.6" r="0.76" fill="#262626" fill-opacity="0.60"/>
<circle cx="51.8" cy="97.7" r="0.83" fill="#262626" fill-opacity="0.50"/>
<circle cx="47.5" cy="146.4" r="0.75" fill="#262626" fill-opacity="0.58"/>
<circle cx="40.7" cy="143.3" r="0.92" fill="#262626" fill-opacity="0.45"/>
<circle cx="42.7" cy="157.3" r="1.03" fill="#262626" fill-opacity="0.57"/>
<circle cx="59.0" cy="112.6" r="0.72" fill="#262626" fill-opacity="0.64"/>
<circle cx="71.3" cy="161.6" r="0.82" fill="#262626" fill-opacity="0.51"/>
<circle cx="96.0" cy="162.0" r="0.91" fill="#262626" fill-opacity="0.41"/>
<circle cx="46.6" cy="167.9" r="0.83" fill="#262626" fill-opacity="0.54"/>
<circle cx="62.2" cy="168.8" r="0.98" fill="#262626" fill-opacity="0.40"/>
<circle cx="8.2" cy="110.4" r="0.85" fill="#262626" fill-opacity="0.51"/>
<circle cx="81.4" cy="167.8" r="0.71" fill="#262626" fill-opacity="0.59"/>
<circle cx="81.1" cy="165.7" r="0.90" fill="#262626" fill-opacity="0.40"/>
<circle cx="84.6" cy="159.4" r="0.94" fill="#262626" fill-opacity="0.62"/>
<circle cx="39.2" cy="98.9" r="0.89" fill="#262626" fill-opacity="0.58"/>
<circle cx="26.0" cy="153.7" r="1.03" fill="#262626" fill-opacity="0.38"/>
<circle cx="62.6" cy="146.5" r="0.86" fill="#262626" fill-opacity="0.37"/>
<circle cx="30.9" cy="153.7" r="0.98" fill="#262626" fill-opacity="0.46"/>
<circle cx="15.9" cy="159.4" r="0.97" fill="#262626" fill-opacity="0.38"/>
<circle cx="60.2" cy="168.9" r="1.01" fill="#262626" fill-opacity="0.48"/>
<circle cx="50.9" cy="138.0" r="0.77" fill="#262626" fill-opacity="0.37"/>
<circle cx="24.3" cy="148.8" r="0.83" fill="#262626" fill-opacity="0.50"/>
<circle cx="44.2" cy="131.4" r="0.75" fill="#262626" fill-opacity="0.32"/>
<circle cx="97.7" cy="119.0" r="0.74" fill="#262626" fill-opacity="0.52"/>
<circle cx="78.9" cy="103.1" r="0.91" fill="#262626" fill-opacity="0.42"/>
<circle cx="54.8" cy="96.0" r="0.71" fill="#262626" fill-opacity="0.65"/>
<circle cx="85.9" cy="128.6" r="0.90" fill="#262626" fill-opacity="0.39"/>
<circle cx="78.1" cy="123.4" r="1.03" fill="#262626" fill-opacity="0.57"/>
<circle cx="81.7" cy="176.0" r="0.79" fill="#262626" fill-opacity="0.31"/>
<circle cx="26.1" cy="104.6" r="0.73" fill="#262626" fill-opacity="0.32"/>
<circle cx="58.2" cy="166.1" r="0.86" fill="#262626" fill-opacity="0.63"/>
<circle cx="89.9" cy="97.9" r="0.91" fill="#262626" fill-opacity="0.44"/>
<circle cx="18.8" cy="175.6" r="0.79" fill="#262626" fill-opacity="0.50"/>
<circle cx="65.7" cy="175.2" r="0.93" fill="#262626" fill-opacity="0.44"/>
<circle cx="48.4" cy="103.3" r="1.04" fill="#262626" fill-opacity="0.65"/>
<circle cx="28.0" cy="96.7" r="0.79" fill="#262626" fill-opacity="0.42"/>
<circle cx="89.2" cy="169.7" r="0.99" fill="#262626" fill-opacity="0.32"/>
<circle cx="78.8" cy="149.6" r="0.93" fill="#262626" fill-opacity="0.64"/>
<circle cx="13.0" cy="102.4" r="0.96" fill="#262626" fill-opacity="0.63"/>
<circle cx="68.9" cy="113.1" r="0.91" fill="#262626" fill-opacity="0.57"/>
<circle cx="17.5" cy="115.0" r="0.79" fill="#262626" fill-opacity="0.34"/>
<circle cx="51.3" cy="103.9" r="0.78" fill="#262626" fill-opacity="0.35"/>
<circle cx="69.0" cy="95.8" r="0.95" fill="#262626" fill-opacity="0.37"/>
<circle cx="11.2" cy="172.1" r="0.78" fill="#262626" fill-opacity="0.63"/>
<circle cx="86.0" cy="168.0" r="0.75" fill="#262626" fill-opacity="0.46"/>
<circle cx="16.7" cy="172.3" r="0.99" fill="#262626" fill-opacity="0.52"/>
<circle cx="48.7" cy="116.3" r="0.99" fill="#262626" fill-opacity="0.47"/>
<circle cx="64.5" cy="102.2" r="0.78" fill="#262626" fill-opacity="0.32"/>
<circle cx="72.2" cy="134.7" r="0.75" fill="#262626" fill-opacity="0.60"/>
<circle cx="32.0" cy="122.2" r="0.75" fill="#262626" fill-opacity="0.39"/>
<circle cx="83.6" cy="115.9" r="0.76" fill="#262626" fill-opacity="0.47"/>
<circle cx="36.6" cy="169.5" r="0.74" fill="#262626" fill-opacity="0.64"/>
<circle cx="13.1" cy="168.7" r="0.93" fill="#262626" fill-opacity="0.37"/>
<circle cx="51.0" cy="112.1" r="0.79" fill="#262626" fill-opacity="0.37"/>
<circle cx="40.8" cy="179.0" r="1.05" fill="#262626" fill-opacity="0.62"/>
<circle cx="16.8" cy="112.4" r="1.01" fill="#262626" fill-opacity="0.32"/>
<circle cx="73.4" cy="112.7" r="1.04" fill="#262626" fill-opacity="0.31"/>
<circle cx="80.6" cy="116.4" r="0.75" fill="#262626" fill-opacity="0.30"/>
<circle cx="82.9" cy="132.2" r="0.77" fill="#262626" fill-opacity="0.45"/>
<circle cx="90.1" cy="107.2" r="0.90" fill="#262626" fill-opacity="0.35"/>
<circle cx="24.2" cy="155.7" r="0.95" fill="#262626" fill-opacity="0.37"/>
<circle cx="15.1" cy="99.1" r="0.91" fill="#262626" fill-opacity="0.47"/>
<circle cx="32.6" cy="106.3" r="0.91" fill="#262626" fill-opacity="0.55"/>
<circle cx="81.0" cy="137.4" r="0.77" fill="#262626" fill-opacity="0.32"/>
<circle cx="73.9" cy="121.9" r="0.95" fill="#262626" fill-opacity="0.32"/>
<circle cx="81.0" cy="115.9" r="0.99" fill="#262626" fill-opacity="0.60"/>
<circle cx="52.4" cy="95.9" r="1.02" fill="#262626" fill-opacity="0.47"/>
<circle cx="86.5" cy="110.6" r="0.77" fill="#262626" fill-opacity="0.59"/>
<circle cx="41.0" cy="103.5" r="0.83" fill="#262626" fill-opacity="0.51"/>
<circle cx="8.4" cy="131.6" r="0.86" fill="#262626" fill-opacity="0.48"/>
<circle cx="18.9" cy="150.1" r="0.99" fill="#262626" fill-opacity="0.60"/>
<circle cx="36.9" cy="149.8" r="0.83" fill="#262626" fill-opacity="0.56"/>
<circle cx="13.5" cy="166.3" r="1.03" fill="#262626" fill-opacity="0.47"/>
<circle cx="54.2" cy="132.6" r="0.89" fill="#262626" fill-opacity="0.31"/>
<circle cx="95.1" cy="107.6" r="0.76" fill="#262626" fill-opacity="0.34"/>
<circle cx="30.5" cy="160.5" r="0.71" fill="#262626" fill-opacity="0.33"/>
<circle cx="70.9" cy="105.6" r="0.71" fill="#262626" fill-opacity="0.51"/>
<circle cx="59.9" cy="131.9" r="0.95" fill="#262626" fill-opacity="0.34"/>
<circle cx="86.3" cy="150.3" r="0.72" fill="#262626" fill-opacity="0.34"/>
<circle cx="52.4" cy="129.9" r="0.80" fill="#262626" fill-opacity="0.34"/>
<circle cx="44.5" cy="101.9" r="0.91" fill="#262626" fill-opacity="0.60"/>
<circle cx="21.2" cy="136.5" r="0.96" fill="#262626" fill-opacity="0.36"/>
<circle cx="82.3" cy="173.2" r="0.84" fill="#262626" fill-opacity="0.45"/>
<circle cx="83.6" cy="132.1" r="0.84" fill="#262626" fill-opacity="0.63"/>
<circle cx="77.9" cy="116.2" r="0.78" fill="#262626" fill-opacity="0.42"/>
<circle cx="47.2" cy="177.9" r="0.98" fill="#262626" fill-opacity="0.62"/>
<circle cx="81.4" cy="163.7" r="0.72" fill="#262626" fill-opacity="0.48"/>
<circle cx="94.2" cy="172.9" r="0.79" fill="#262626" fill-opacity="0.45"/>
<circle cx="64.9" cy="118.2" r="0.89" fill="#262626" fill-opacity="0.32"/>
<circle cx="47.0" cy="130.2" r="0.71" fill="#262626" fill-opacity="0.35"/>
<circle cx="95.3" cy="156.3" r="1.03" fill="#262626" fill-opacity="0.52"/>
<circle cx="80.8" cy="167.5" r="1.01" fill="#262626" fill-opacity="0.31"/>
<circle cx="65.7" cy="110.6" r="0.94" fill="#262626" fill-opacity="0.40"/>
<circle cx="56.8" cy="171.8" r="0.92" fill="#262626" fill-opacity="0.39"/>
<circle cx="54.8" cy="124.0" r="1.03" fill="#262626" fill-opacity="0.40"/>
<circle cx="35.5" cy="143.5" r="0.74" fill="#262626" fill-opacity="0.51"/>
<circle cx="94.0" cy="131.1" r="0.79" fill="#262626" fill-opacity="0.46"/>
<circle cx="56.0" cy="102.6" r="0.74" fill="#262626" fill-opacity="0.35"/>
<circle cx="34.4" cy="121.7" r="0.80" fill="#262626" fill-opacity="0.39"/>
<circle cx="15.9" cy="134.0" r="0.99" fill="#262626" fill-opacity="0.51"/>
<circle cx="59.3" cy="143.8" r="0.77" fill="#262626" fill-opacity="0.55"/>
<circle cx="49.5" cy="134.2" r="0.91" fill="#262626" fill-opacity="0.46"/>
<circle cx="35.9" cy="108.9" r="0.78" fill="#262626" fill-opacity="0.48"/>
<circle cx="42.5" cy="137.7" r="0.70" fill="#262626" fill-opacity="0.42"/>
<circle cx="85.6" cy="108.6" r="0.89" fill="#262626" fill-opacity="0.47"/>
<circle cx="33.6" cy="178.6" r="0.80" fill="#262626" fill-opacity="0.57"/>
<circle cx="22.3" cy="98.0" r="1.00" fill="#262626" fill-opacity="0.45"/>
<circle cx="13.6" cy="120.2" r="0.85" fill="#262626" fill-opacity="0.56"/>
<circle cx="17.8" cy="107.7" r="1.04" fill="#262626" fill-opacity="0.56"/>
<circle cx="21.9" cy="116.0" r="0.82" fill="#262626" fill-opacity="0.54"/>
<circle cx="63.5" cy="163.9" r="0.99" fill="#262626" fill-opacity="0.48"/>
<circle cx="74.5" cy="153.0" r="0.97" fill="#262626" fill-opacity="0.47"/>
<circle cx="78.6" cy="149.5" r="1.02" fill="#262626" fill-opacity="0.34"/>
<circle cx="86.4" cy="95.6" r="0.97" fill="#262626" fill-opacity="0.51"/>
<circle cx="52.8" cy="175.9" r="0.90" fill="#262626" fill-opacity="0.45"/>
<circle cx="78.5" cy="166.3" r="0.91" fill="#262626" fill-opacity="0.43"/>
<circle cx="48.7" cy="126.1" r="0.95" fill="#262626" fill-opacity="0.40"/>
<circle cx="43.2" cy="134.8" r="0.83" fill="#262626" fill-opacity="0.41"/>
<circle cx="78.8" cy="163.9" r="0.87" fill="#262626" fill-opacity="0.46"/>
<circle cx="24.6" cy="113.5" r="0.75" fill="#262626" fill-opacity="0.50"/>
<circle cx="60.3" cy="99.1" r="1.02" fill="#262626" fill-opacity="0.41"/>
<circle cx="83.9" cy="162.7" r="1.04" fill="#262626" fill-opacity="0.37"/>
<circle cx="46.4" cy="170.3" r="0.70" fill="#262626" fill-opacity="0.32"/>
<circle cx="58.8" cy="129.6" r="1.02" fill="#262626" fill-opacity="0.57"/>
<circle cx="56.5" cy="179.8" r="0.88" fill="#262626" fill-opacity="0.48"/>
<circle cx="69.7" cy="120.3" r="0.83" fill="#262626" fill-opacity="0.51"/>
<circle cx="39.6" cy="174.3" r="0.94" fill="#262626" fill-opacity="0.48"/>
<circle cx="16.9" cy="119.1" r="0.84" fill="#262626" fill-opacity="0.50"/>
<circle cx="59.7" cy="167.0" r="1.04" fill="#262626" fill-opacity="0.47"/>
<circle cx="47.6" cy="141.3" r="1.05" fill="#262626" fill-opacity="0.42"/>
<circle cx="55.7" cy="160.4" r="0.76" fill="#262626" fill-opacity="0.41"/>
<circle cx="96.1" cy="161.4" r="0.88" fill="#262626" fill-opacity="0.34"/>
<circle cx="88.5" cy="147.7" r="0.99" fill="#262626" fill-opacity="0.65"/>
<circle cx="87.9" cy="122.9" r="0.75" fill="#262626" fill-opacity="0.40"/>
<circle cx="54.0" cy="130.3" r="0.77" fill="#262626" fill-opacity="0.36"/>
<circle cx="64.7" cy="139.3" r="0.82" fill="#262626" fill-opacity="0.65"/>
<circle cx="65.3" cy="96.9" r="0.84" fill="#262626" fill-opacity="0.58"/>
<circle cx="35.6" cy="147.7" r="0.70" fill="#262626" fill-opacity="0.41"/>
<circle cx="83.8" cy="137.7" r="0.93" fill="#262626" fill-opacity="0.37"/>
<circle cx="52.8" cy="134.6" r="0.79" fill="#262626" fill-opacity="0.53"/>
<circle cx="55.8" cy="179.7" r="0.90" fill="#262626" fill-opacity="0.44"/>
<circle cx="18.9" cy="103.1" r="0.97" fill="#262626" fill-opacity="0.34"/>
<circle cx="17.0" cy="104.0" r="0.88" fill="#262626" fill-opacity="0.59"/>
<circle cx="63.2" cy="159.4" r="0.72" fill="#262626" fill-opacity="0.30"/>
<circle cx="77.4" cy="114.9" r="0.95" fill="#262626" fill-opacity="0.42"/>
<circle cx="23.2" cy="110.7" r="0.73" fill="#262626" fill-opacity="0.62"/>
<circle cx="60.4" cy="117.0" r="0.86" fill="#262626" fill-opacity="0.43"/>
<circle cx="12.9" cy="168.2" r="0.90" fill="#262626" fill-opacity="0.64"/>
<circle cx="47.6" cy="140.9" r="0.79" fill="#262626" fill-opacity="0.32"/>
<circle cx="91.8" cy="164.4" r="0.81" fill="#262626" fill-opacity="0.61"/>
<circle cx="81.4" cy="113.4" r="0.91" fill="#262626" fill-opacity="0.64"/>
<circle cx="52.6" cy="174.5" r="0.79" fill="#262626" fill-opacity="0.44"/>
<circle cx="72.7" cy="107.4" r="0.81" fill="#262626" fill-opacity="0.61"/>
<circle cx="51.6" cy="158.0" r="0.79" fill="#262626" fill-opacity="0.36"/>
<circle cx="40.3" cy="105.0" r="1.04" fill="#262626" fill-opacity="0.40"/>
<circle cx="58.5" cy="100.6" r="0.89" fill="#262626" fill-opacity="0.43"/>
<circle cx="44.3" cy="97.9" r="0.74" fill="#262626" fill-opacity="0.59"/>
<circle cx="39.6" cy="109.1" r="0.77" fill="#262626" fill-opacity="0.40"/>
<circle cx="29.3" cy="96.6" r="0.93" fill="#262626" fill-opacity="0.42"/>
<circle cx="22.0" cy="149.2" r="0.73" fill="#262626" fill-opacity="0.39"/>
<circle cx="83.2" cy="101.3" r="0.86" fill="#262626" fill-opacity="0.59"/>
<circle cx="80.4" cy="103.3" r="0.82" fill="#262626" fill-opacity="0.55"/>
<circle cx="41.9" cy="175.5" r="0.77" fill="#262626" fill-opacity="0.63"/>
<circle cx="53.4" cy="107.8" r="0.86" fill="#262626" fill-opacity="0.35"/>
<circle cx="71.6" cy="110.2" r="1.01" fill="#262626" fill-opacity="0.51"/>
<circle cx="41.1" cy="109.2" r="0.91" fill="#262626" fill-opacity="0.37"/>
<circle cx="86.5" cy="101.0" r="0.88" fill="#262626" fill-opacity="0.49"/>
<circle cx="32.3" cy="155.8" r="0.83" fill="#262626" fill-opacity="0.53"/>
<circle cx="59.1" cy="114.0" r="0.84" fill="#262626" fill-opacity="0.33"/>
<circle cx="23.9" cy="164.0" r="0.81" fill="#262626" fill-opacity="0.53"/>
<circle cx="17.8" cy="135.4" r="0.83" fill="#262626" fill-opacity="0.48"/>
<circle cx="34.7" cy="98.0" r="0.81" fill="#262626" fill-opacity="0.38"/>
<circle cx="19.4" cy="150.3" r="0.80" fill="#262626" fill-opacity="0.44"/>
<circle cx="89.8" cy="156.2" r="1.01" fill="#262626" fill-opacity="0.60"/>
<circle cx="19.9" cy="111.4" r="0.71" fill="#262626" fill-opacity="0.54"/>
<circle cx="67.7" cy="117.2" r="0.84" fill="#262626" fill-opacity="0.53"/>
<circle cx="70.9" cy="109.3" r="1.00" fill="#262626" fill-opacity="0.42"/>
<circle cx="64.6" cy="104.7" r="0.74" fill="#262626" fill-opacity="0.62"/>
<circle cx="74.1" cy="149.9" r="0.71" fill="#262626" fill-opacity="0.31"/>
<circle cx="22.6" cy="105.8" r="0.81" fill="#262626" fill-opacity="0.43"/>
<circle cx="11.5" cy="114.0" r="0.92" fill="#262626" fill-opacity="0.36"/>
<circle cx="83.6" cy="136.2" r="0.95" fill="#262626" fill-opacity="0.39"/>
<circle cx="47.1" cy="147.1" r="0.82" fill="#262626" fill-opacity="0.30"/>
<circle cx="83.1" cy="156.3" r="0.80" fill="#262626" fill-opacity="0.32"/>
<circle cx="84.9" cy="139.7" r="0.72" fill="#262626" fill-opacity="0.39"/>
<circle cx="18.0" cy="157.8" r="0.77" fill="#262626" fill-opacity="0.62"/>
<circle cx="75.5" cy="99.0" r="0.94" fill="#262626" fill-opacity="0.44"/>
<circle cx="75.3" cy="161.7" r="0.80" fill="#262626" fill-opacity="0.33"/>
<circle cx="93.2" cy="123.2" r="1.03" fill="#262626" fill-opacity="0.54"/>
<circle cx="74.5" cy="161.8" r="0.92" fill="#262626" fill-opacity="0.46"/>
<circle cx="12.9" cy="148.5" r="0.85" fill="#262626" fill-opacity="0.48"/>
<circle cx="91.5" cy="101.3" r="0.97" fill="#262626" fill-opacity="0.32"/>
<circle cx="71.2" cy="159.3" r="0.79" fill="#262626" fill-opacity="0.49"/>
<circle cx="95.2" cy="142.6" r="0.89" fill="#262626" fill-opacity="0.39"/>
<circle cx="13.3" cy="117.7" r="0.84" fill="#262626" fill-opacity="0.37"/>
<circle cx="35.9" cy="101.8" r="0.95" fill="#262626" fill-opacity="0.53"/>
<circle cx="29.4" cy="108.8" r="0.88" fill="#262626" fill-opacity="0.46"/>
<circle cx="92.2" cy="117.2" r="0.80" fill="#262626" fill-opacity="0.61"/>
<circle cx="20.8" cy="135.6" r="0.82" fill="#262626" fill-opacity="0.59"/>
<circle cx="57.3" cy="154.7" r="0.76" fill="#262626" fill-opacity="0.53"/>
<circle cx="61.9" cy="126.4" r="0.97" fill="#262626" fill-opacity="0.59"/>
<circle cx="18.3" cy="112.4" r="0.83" fill="#262626" fill-opacity="0.37"/>
<circle cx="13.4" cy="111.7" r="0.77" fill="#262626" fill-opacity="0.55"/>
<circle cx="48.3" cy="100.5" r="0.81" fill="#262626" fill-opacity="0.46"/>
<circle cx="40.7" cy="103.8" r="0.73" fill="#262626" fill-opacity="0.30"/>
<circle cx="97.3" cy="153.7" r="0.73" fill="#262626" fill-opacity="0.55"/>
<circle cx="96.2" cy="135.6" r="0.74" fill="#262626" fill-opacity="0.47"/>
<circle cx="47.1" cy="105.2" r="0.89" fill="#262626" fill-opacity="0.30"/>
<circle cx="90.8" cy="143.2" r="0.92" fill="#262626" fill-opacity="0.63"/>
<circle cx="66.7" cy="109.5" r="0.79" fill="#262626" fill-opacity="0.35"/>
<circle cx="10.5" cy="156.1" r="0.99" fill="#262626" fill-opacity="0.40"/>
<circle cx="24.7" cy="142.6" r="1.00" fill="#262626" fill-opacity="0.62"/>
<circle cx="23.2" cy="157.1" r="0.99" fill="#262626" fill-opacity="0.56"/>
<circle cx="37.4" cy="104.9" r="0.99" fill="#262626" fill-opacity="0.41"/>
<circle cx="41.2" cy="134.4" r="0.83" fill="#262626" fill-opacity="0.59"/>
<circle cx="29.5" cy="96.8" r="0.90" fill="#262626" fill-opacity="0.52"/>
<circle cx="81.8" cy="149.2" r="1.02" fill="#262626" fill-opacity="0.63"/>
<circle cx="52.5" cy="129.8" r="0.76" fill="#262626" fill-opacity="0.40"/>
<circle cx="60.3" cy="98.7" r="0.94" fill="#262626" fill-opacity="0.36"/>
<circle cx="47.9" cy="176.7" r="0.73" fill="#262626" fill-opacity="0.31"/>
<circle cx="47.6" cy="105.3" r="0.95" fill="#262626" fill-opacity="0.30"/>
<circle cx="83.7" cy="164.5" r="0.98" fill="#262626" fill-opacity="0.45"/>
<circle cx="33.5" cy="144.9" r="0.88" fill="#262626" fill-opacity="0.45"/>
<circle cx="38.5" cy="124.5" r="0.93" fill="#262626" fill-opacity="0.59"/>
<circle cx="89.4" cy="103.6" r="0.80" fill="#262626" fill-opacity="0.46"/>
<circle cx="58.7" cy="116.9" r="0.77" fill="#262626" fill-opacity="0.33"/>
<circle cx="37.1" cy="126.3" r="1.04" fill="#262626" fill-opacity="0.62"/>
<circle cx="85.9" cy="177.2" r="1.04" fill="#262626" fill-opacity="0.52"/>
<circle cx="81.0" cy="97.7" r="0.94" fill="#262626" fill-opacity="0.51"/>
<circle cx="34.7" cy="136.3" r="1.03" fill="#262626" fill-opacity="0.47"/>
<circle cx="66.3" cy="113.1" r="0.82" fill="#262626" fill-opacity="0.61"/>
<circle cx="10.5" cy="105.2" r="0.94" fill="#262626" fill-opacity="0.46"/>
<circle cx="15.7" cy="144.8" r="0.83" fill="#262626" fill-opacity="0.50"/>
<circle cx="45.5" cy="132.5" r="0.90" fill="#262626" fill-opacity="0.44"/>
<circle cx="18.3" cy="104.6" r="1.01" fill="#262626" fill-opacity="0.49"/>
<circle cx="18.1" cy="165.2" r="0.79" fill="#262626" fill-opacity="0.33"/>
<circle cx="55.8" cy="109.5" r="0.87" fill="#262626" fill-opacity="0.49"/>
<circle cx="28.4" cy="136.4" r="0.74" fill="#262626" fill-opacity="0.48"/>
<circle cx="61.0" cy="98.7" r="0.84" fill="#262626" fill-opacity="0.33"/>
<circle cx="47.6" cy="165.3" r="0.89" fill="#262626" fill-opacity="0.55"/>
<circle cx="76.1" cy="100.6" r="1.05" fill="#262626" fill-opacity="0.55"/>
<circle cx="17.2" cy="161.8" r="0.84" fill="#262626" fill-opacity="0.36"/>
<circle cx="94.4" cy="135.5" r="0.97" fill="#262626" fill-opacity="0.35"/>
<circle cx="77.9" cy="97.6" r="0.78" fill="#262626" fill-opacity="0.43"/>
<circle cx="9.4" cy="138.5" r="0.77" fill="#262626" fill-opacity="0.40"/>
<circle cx="71.7" cy="123.4" r="1.01" fill="#262626" fill-opacity="0.52"/>
<circle cx="86.5" cy="135.5" r="1.02" fill="#262626" fill-opacity="0.60"/>
<circle cx="23.1" cy="153.2" r="0.82" fill="#262626" fill-opacity="0.57"/>
<circle cx="69.2" cy="161.4" r="0.74" fill="#262626" fill-opacity="0.43"/>
<circle cx="74.4" cy="174.3" r="0.95" fill="#262626" fill-opacity="0.32"/>
<circle cx="62.3" cy="99.7" r="0.89" fill="#262626" fill-opacity="0.58"/>
<circle cx="18.2" cy="171.9" r="0.94" fill="#262626" fill-opacity="0.39"/>
<circle cx="25.4" cy="125.1" r="0.99" fill="#262626" fill-opacity="0.50"/>
<circle cx="18.2" cy="96.1" r="0.74" fill="#262626" fill-opacity="0.58"/>
<circle cx="24.7" cy="134.7" r="0.80" fill="#262626" fill-opacity="0.54"/>
<circle cx="42.3" cy="102.3" r="1.01" fill="#262626" fill-opacity="0.49"/>
<circle cx="70.1" cy="159.6" r="1.03" fill="#262626" fill-opacity="0.30"/>
<circle cx="38.8" cy="102.7" r="0.88" fill="#262626" fill-opacity="0.61"/>
<circle cx="80.0" cy="96.6" r="0.76" fill="#262626" fill-opacity="0.59"/>
<circle cx="69.2" cy="120.6" r="0.87" fill="#262626" fill-opacity="0.36"/>
<circle cx="84.1" cy="120.6" r="1.01" fill="#262626" fill-opacity="0.51"/>
<circle cx="14.8" cy="115.4" r="0.78" fill="#262626" fill-opacity="0.61"/>
<circle cx="61.0" cy="96.9" r="0.76" fill="#262626" fill-opacity="0.43"/>
<circle cx="50.1" cy="136.8" r="0.84" fill="#262626" fill-opacity="0.42"/>
<circle cx="8.5" cy="137.0" r="0.82" fill="#262626" fill-opacity="0.31"/>
<circle cx="49.3" cy="178.5" r="0.72" fill="#262626" fill-opacity="0.35"/>
<circle cx="68.4" cy="111.1" r="0.80" fill="#262626" fill-opacity="0.48"/>
<circle cx="31.6" cy="136.1" r="0.88" fill="#262626" fill-opacity="0.63"/>
<circle cx="97.3" cy="96.5" r="0.90" fill="#262626" fill-opacity="0.57"/>
<circle cx="86.5" cy="156.1" r="0.92" fill="#262626" fill-opacity="0.52"/>
<circle cx="40.7" cy="111.8" r="0.98" fill="#262626" fill-opacity="0.61"/>
<circle cx="92.5" cy="146.8" r="0.81" fill="#262626" fill-opacity="0.57"/>
<circle cx="74.6" cy="130.6" r="0.92" fill="#262626" fill-opacity="0.42"/>
<circle cx="57.6" cy="121.7" r="0.72" fill="#262626" fill-opacity="0.42"/>
<circle cx="37.1" cy="178.7" r="0.87" fill="#262626" fill-opacity="0.43"/>
<circle cx="29.9" cy="108.3" r="0.82" fill="#262626" fill-opacity="0.35"/>
<circle cx="8.7" cy="166.1" r="0.86" fill="#262626" fill-opacity="0.46"/>
<circle cx="59.2" cy="113.3" r="0.76" fill="#262626" fill-opacity="0.32"/>
<circle cx="35.1" cy="113.8" r="0.95" fill="#262626" fill-opacity="0.49"/>
<circle cx="92.4" cy="116.3" r="1.02" fill="#262626" fill-opacity="0.50"/>
<circle cx="15.2" cy="104.5" r="0.90" fill="#262626" fill-opacity="0.65"/>
<circle cx="40.1" cy="156.1" r="0.85" fill="#262626" fill-opacity="0.60"/>
<circle cx="14.1" cy="128.4" r="1.01" fill="#262626" fill-opacity="0.40"/>
<circle cx="31.2" cy="96.1" r="0.76" fill="#262626" fill-opacity="0.39"/>
<circle cx="71.4" cy="107.2" r="0.84" fill="#262626" fill-opacity="0.37"/>
<circle cx="62.3" cy="165.4" r="0.93" fill="#262626" fill-opacity="0.37"/>
<circle cx="74.1" cy="176.0" r="0.91" fill="#262626" fill-opacity="0.33"/>
<circle cx="80.9" cy="166.6" r="0.82" fill="#262626" fill-opacity="0.35"/>
<circle cx="24.9" cy="133.1" r="1.01" fill="#262626" fill-opacity="0.52"/>
<circle cx="91.1" cy="106.8" r="0.81" fill="#262626" fill-opacity="0.56"/>
<circle cx="66.4" cy="121.6" r="0.94" fill="#262626" fill-opacity="0.42"/>
<circle cx="13.2" cy="122.4" r="0.72" fill="#262626" fill-opacity="0.52"/>
<circle cx="38.1" cy="129.3" r="0.91" fill="#262626" fill-opacity="0.39"/>
<circle cx="49.7" cy="95.8" r="1.02" fill="#262626" fill-opacity="0.50"/>
<circle cx="96.9" cy="97.5" r="0.91" fill="#262626" fill-opacity="0.55"/>
<circle cx="37.6" cy="99.4" r="0.75" fill="#262626" fill-opacity="0.35"/>
<circle cx="77.0" cy="99.2" r="0.98" fill="#262626" fill-opacity="0.45"/>
<circle cx="56.5" cy="137.9" r="0.89" fill="#262626" fill-opacity="0.53"/>
<circle cx="62.1" cy="115.6" r="0.96" fill="#262626" fill-opacity="0.39"/>
<circle cx="72.0" cy="155.0" r="0.97" fill="#262626" fill-opacity="0.41"/>
<circle cx="77.5" cy="177.5" r="0.86" fill="#262626" fill-opacity="0.40"/>
<circle cx="55.1" cy="173.6" r="0.75" fill="#262626" fill-opacity="0.30"/>
<circle cx="50.8" cy="144.3" r="0.97" fill="#262626" fill-opacity="0.43"/>
<circle cx="97.1" cy="107.9" r="0.96" fill="#262626" fill-opacity="0.33"/>
<circle cx="10.5" cy="101.7" r="0.72" fill="#262626" fill-opacity="0.48"/>
<circle cx="58.0" cy="104.7" r="1.03" fill="#262626" fill-opacity="0.43"/>
<circle cx="21.4" cy="104.4" r="0.96" fill="#262626" fill-opacity="0.62"/>
<circle cx="22.6" cy="96.3" r="0.97" fill="#262626" fill-opacity="0.38"/>
<circle cx="96.4" cy="129.7" r="0.92" fill="#262626" fill-opacity="0.42"/>
<circle cx="80.0" cy="126.3" r="0.81" fill="#262626" fill-opacity="0.62"/>
<circle cx="17.7" cy="152.0" r="0.72" fill="#262626" fill-opacity="0.53"/>
<circle cx="44.2" cy="165.4" r="0.72" fill="#262626" fill-opacity="0.50"/>
<circle cx="44.9" cy="171.2" r="1.03" fill="#262626" fill-opacity="0.52"/>
<circle cx="28.2" cy="109.6" r="0.79" fill="#262626" fill-opacity="0.45"/>
<circle cx="28.8" cy="106.1" r="0.97" fill="#262626" fill-opacity="0.52"/>
<circle cx="34.9" cy="179.4" r="0.78" fill="#262626" fill-opacity="0.50"/>
<circle cx="22.1" cy="165.3" r="1.00" fill="#262626" fill-opacity="0.39"/>
<circle cx="75.6" cy="161.1" r="0.80" fill="#262626" fill-opacity="0.42"/>
<circle cx="51.7" cy="168.2" r="0.76" fill="#262626" fill-opacity="0.54"/>
<circle cx="61.8" cy="125.7" r="0.90" fill="#262626" fill-opacity="0.61"/>
<circle cx="26.9" cy="167.4" r="0.83" fill="#262626" fill-opacity="0.57"/>
<circle cx="85.7" cy="104.7" r="1.00" fill="#262626" fill-opacity="0.65"/>
<circle cx="34.8" cy="96.2" r="0.74" fill="#262626" fill-opacity="0.64"/>
<circle cx="8.8" cy="170.4" r="0.75" fill="#262626" fill-opacity="0.56"/>
<circle cx="16.8" cy="103.9" r="0.94" fill="#262626" fill-opacity="0.33"/>
<circle cx="38.6" cy="171.2" r="0.95" fill="#262626" fill-opacity="0.61"/>
<circle cx="96.2" cy="96.5" r="0.78" fill="#262626" fill-opacity="0.58"/>
<circle cx="70.1" cy="96.7" r="0.88" fill="#262626" fill-opacity="0.38"/>
<circle cx="46.7" cy="100.0" r="0.71" fill="#262626" fill-opacity="0.65"/>
<circle cx="36.5" cy="166.9" r="0.74" fill="#262626" fill-opacity="0.47"/>
<circle cx="20.2" cy="123.6" r="0.76" fill="#262626" fill-opacity="0.54"/>
<circle cx="21.3" cy="152.4" r="0.88" fill="#262626" fill-opacity="0.34"/>
<circle cx="39.8" cy="129.5" r="1.02" fill="#262626" fill-opacity="0.42"/>
<circle cx="27.4" cy="176.4" r="1.01" fill="#262626" fill-opacity="0.56"/>
<circle cx="32.6" cy="104.4" r="0.79" fill="#262626" fill-opacity="0.32"/>
<circle cx="11.9" cy="130.6" r="0.84" fill="#262626" fill-opacity="0.49"/>
<circle cx="40.6" cy="95.7" r="0.94" fill="#262626" fill-opacity="0.53"/>
<circle cx="57.0" cy="134.2" r="0.94" fill="#262626" fill-opacity="0.64"/>
<circle cx="86.7" cy="150.4" r="0.84" fill="#262626" fill-opacity="0.41"/>
<circle cx="45.7" cy="177.0" r="0.84" fill="#262626" fill-opacity="0.43"/>
<circle cx="44.9" cy="102.2" r="1.05" fill="#262626" fill-opacity="0.30"/>
<circle cx="62.7" cy="172.0" r="0.79" fill="#262626" fill-opacity="0.51"/>
<circle cx="41.9" cy="108.8" r="0.77" fill="#262626" fill-opacity="0.34"/>
<circle cx="83.9" cy="157.1" r="1.02" fill="#262626" fill-opacity="0.32"/>
<circle cx="70.5" cy="115.1" r="0.93" fill="#262626" fill-opacity="0.49"/>
<circle cx="36.4" cy="176.9" r="0.70" fill="#262626" fill-opacity="0.56"/>
<circle cx="84.8" cy="130.7" r="0.91" fill="#262626" fill-opacity="0.65"/>
<circle cx="29.1" cy="141.8" r="0.96" fill="#262626" fill-opacity="0.43"/>
<circle cx="72.1" cy="120.6" r="0.88" fill="#262626" fill-opacity="0.51"/>
<circle cx="68.9" cy="114.9" r="0.92" fill="#262626" fill-opacity="0.49"/>
<circle cx="28.1" cy="140.2" r="0.79" fill="#262626" fill-opacity="0.62"/>
<circle cx="50.6" cy="150.8" r="0.88" fill="#262626" fill-opacity="0.47"/>
<circle cx="27.9" cy="102.2" r="1.02" fill="#262626" fill-opacity="0.49"/>
<circle cx="55.2" cy="132.3" r="0.98" fill="#262626" fill-opacity="0.38"/>
<circle cx="23.5" cy="161.0" r="0.86" fill="#262626" fill-opacity="0.52"/>
<circle cx="82.5" cy="168.5" r="1.00" fill="#262626" fill-opacity="0.32"/>
<circle cx="42.3" cy="162.0" r="0.99" fill="#262626" fill-opacity="0.34"/>
<circle cx="21.8" cy="109.5" r="0.74" fill="#262626" fill-opacity="0.42"/>
<circle cx="80.3" cy="131.7" r="0.86" fill="#262626" fill-opacity="0.33"/>
<circle cx="43.6" cy="179.7" r="0.94" fill="#262626" fill-opacity="0.46"/>
<circle cx="51.1" cy="158.5" r="0.97" fill="#262626" fill-opacity="0.35"/>
<circle cx="69.2" cy="118.5" r="0.88" fill="#262626" fill-opacity="0.38"/>
<circle cx="41.4" cy="116.3" r="0.83" fill="#262626" fill-opacity="0.31"/>
<circle cx="26.1" cy="136.2" r="0.72" fill="#262626" fill-opacity="0.36"/>
<circle cx="72.6" cy="111.2" r="0.81" fill="#262626" fill-opacity="0.38"/>
<circle cx="83.1" cy="99.3" r="0.92" fill="#262626" fill-opacity="0.60"/>
<circle cx="26.2" cy="123.1" r="0.98" fill="#262626" fill-opacity="0.52"/>
<circle cx="41.4" cy="97.0" r="0.85" fill="#262626" fill-opacity="0.43"/>
<circle cx="72.1" cy="112.8" r="0.84" fill="#262626" fill-opacity="0.53"/>
<circle cx="81.0" cy="117.3" r="0.83" fill="#262626" fill-opacity="0.50"/>
<circle cx="91.2" cy="105.4" r="1.04" fill="#262626" fill-opacity="0.55"/>
<circle cx="41.5" cy="145.3" r="0.82" fill="#262626" fill-opacity="0.32"/>
<circle cx="76.0" cy="119.5" r="0.88" fill="#262626" fill-opacity="0.47"/>
<circle cx="89.1" cy="154.3" r="0.71" fill="#262626" fill-opacity="0.51"/>
<circle cx="49.6" cy="126.5" r="0.99" fill="#262626" fill-opacity="0.45"/>
<circle cx="50.6" cy="168.2" r="0.85" fill="#262626" fill-opacity="0.47"/>
<circle cx="54.1" cy="161.3" r="0.93" fill="#262626" fill-opacity="0.56"/>
<circle cx="44.2" cy="96.8" r="0.94" fill="#262626" fill-opacity="0.49"/>
<circle cx="77.2" cy="155.6" r="0.74" fill="#262626" fill-opacity="0.38"/>
<circle cx="14.9" cy="160.5" r="0.74" fill="#262626" fill-opacity="0.33"/>
<circle cx="75.8" cy="135.7" r="0.72" fill="#262626" fill-opacity="0.54"/>
<circle cx="72.0" cy="128.3" r="0.72" fill="#262626" fill-opacity="0.54"/>
<circle cx="45.6" cy="137.5" r="1.05" fill="#262626" fill-opacity="0.59"/>
<circle cx="86.5" cy="102.4" r="0.82" fill="#262626" fill-opacity="0.48"/>
<circle cx="8.5" cy="178.8" r="0.80" fill="#262626" fill-opacity="0.39"/>
<circle cx="36.2" cy="109.8" r="1.00" fill="#262626" fill-opacity="0.49"/>
<circle cx="54.0" cy="122.9" r="0.72" fill="#262626" fill-opacity="0.41"/>
<circle cx="86.0" cy="158.9" r="1.00" fill="#262626" fill-opacity="0.39"/>
<circle cx="26.2" cy="97.3" r="0.89" fill="#262626" fill-opacity="0.43"/>
<circle cx="49.8" cy="128.8" r="0.90" fill="#262626" fill-opacity="0.43"/>
<circle cx="80.1" cy="105.9" r="1.02" fill="#262626" fill-opacity="0.49"/>
<circle cx="12.6" cy="114.3" r="0.89" fill="#262626" fill-opacity="0.44"/>
<circle cx="58.8" cy="115.0" r="0.80" fill="#262626" fill-opacity="0.58"/>
<circle cx="34.2" cy="149.7" r="0.98" fill="#262626" fill-opacity="0.51"/>
<circle cx="48.9" cy="172.9" r="0.86" fill="#262626" fill-opacity="0.61"/>
<circle cx="13.2" cy="124.0" r="0.92" fill="#262626" fill-opacity="0.32"/>
<circle cx="85.6" cy="98.3" r="0.91" fill="#262626" fill-opacity="0.36"/>
<circle cx="91.0" cy="135.4" r="0.98" fill="#262626" fill-opacity="0.47"/>
<circle cx="68.6" cy="146.2" r="0.80" fill="#262626" fill-opacity="0.37"/>
<circle cx="83.4" cy="102.4" r="1.02" fill="#262626" fill-opacity="0.37"/>
<circle cx="17.1" cy="99.5" r="0.97" fill="#262626" fill-opacity="0.63"/>
<circle cx="45.3" cy="144.6" r="0.79" fill="#262626" fill-opacity="0.62"/>
<circle cx="69.7" cy="103.0" r="0.72" fill="#262626" fill-opacity="0.54"/>
<circle cx="11.8" cy="162.5" r="0.80" fill="#262626" fill-opacity="0.38"/>
<circle cx="60.4" cy="114.6" r="0.90" fill="#262626" fill-opacity="0.35"/>
<circle cx="90.1" cy="115.1" r="0.99" fill="#262626" fill-opacity="0.35"/>
<circle cx="79.9" cy="177.8" r="0.84" fill="#262626" fill-opacity="0.31"/>
<circle cx="42.2" cy="142.9" r="0.78" fill="#262626" fill-opacity="0.49"/>
<circle cx="16.4" cy="126.7" r="0.95" fill="#262626" fill-opacity="0.45"/>
<circle cx="69.1" cy="100.5" r="0.99" fill="#262626" fill-opacity="0.34"/>
<circle cx="91.1" cy="179.6" r="1.03" fill="#262626" fill-opacity="0.48"/>
<circle cx="34.2" cy="116.9" r="0.96" fill="#262626" fill-opacity="0.47"/>
<circle cx="91.7" cy="99.4" r="0.87" fill="#262626" fill-opacity="0.60"/>
<circle cx="61.8" cy="133.5" r="0.73" fill="#262626" fill-opacity="0.35"/>
<circle cx="32.4" cy="168.4" r="1.00" fill="#262626" fill-opacity="0.38"/>
<circle cx="91.2" cy="96.5" r="0.91" fill="#262626" fill-opacity="0.64"/>
<circle cx="39.0" cy="173.9" r="0.93" fill="#262626" fill-opacity="0.32"/>
<circle cx="38.0" cy="125.4" r="0.79" fill="#262626" fill-opacity="0.56"/>
<circle cx="24.1" cy="157.5" r="0.80" fill="#262626" fill-opacity="0.32"/>
<circle cx="58.3" cy="99.5" r="0.89" fill="#262626" fill-opacity="0.58"/>
<circle cx="61.6" cy="126.4" r="0.71" fill="#262626" fill-opacity="0.48"/>
<circle cx="16.8" cy="143.5" r="0.75" fill="#262626" fill-opacity="0.50"/>
<circle cx="39.8" cy="119.1" r="0.93" fill="#262626" fill-opacity="0.36"/>
<circle cx="23.3" cy="173.6" r="0.82" fill="#262626" fill-opacity="0.59"/>
<circle cx="86.6" cy="128.1" r="0.75" fill="#262626" fill-opacity="0.33"/>
<circle cx="87.1" cy="100.7" r="0.87" fill="#262626" fill-opacity="0.49"/>
<circle cx="18.6" cy="127.0" r="0.76" fill="#262626" fill-opacity="0.49"/>
<circle cx="53.6" cy="118.4" r="0.77" fill="#262626" fill-opacity="0.44"/>
<circle cx="26.3" cy="101.3" r="0.78" fill="#262626" fill-opacity="0.61"/>
<circle cx="53.2" cy="168.2" r="0.71" fill="#262626" fill-opacity="0.63"/>
<circle cx="52.0" cy="157.8" r="0.90" fill="#262626" fill-opacity="0.54"/>
<circle cx="28.6" cy="153.6" r="0.75" fill="#262626" fill-opacity="0.39"/>
<circle cx="10.8" cy="120.6" r="0.88" fill="#262626" fill-opacity="0.40"/>
<circle cx="88.1" cy="98.9" r="0.90" fill="#262626" fill-opacity="0.38"/>
<circle cx="61.6" cy="157.1" r="0.95" fill="#262626" fill-opacity="0.32"/>
<circle cx="30.1" cy="138.9" r="1.04" fill="#262626" fill-opacity="0.31"/>
<circle cx="63.6" cy="147.8" r="0.99" fill="#262626" fill-opacity="0.42"/>
<circle cx="80.9" cy="126.4" r="1.02" fill="#262626" fill-opacity="0.30"/>
<circle cx="92.6" cy="122.2" r="0.84" fill="#262626" fill-opacity="0.33"/>
<circle cx="30.0" cy="152.0" r="0.94" fill="#262626" fill-opacity="0.35"/>
<circle cx="39.0" cy="102.1" r="0.77" fill="#262626" fill-opacity="0.38"/>
<circle cx="37.8" cy="177.4" r="1.05" fill="#262626" fill-opacity="0.58"/>
<circle cx="51.2" cy="129.6" r="0.97" fill="#262626" fill-opacity="0.62"/>
<circle cx="75.6" cy="142.5" r="0.77" fill="#262626" fill-opacity="0.52"/>
<circle cx="84.1" cy="157.4" r="0.73" fill="#262626" fill-opacity="0.55"/>
<circle cx="39.4" cy="103.4" r="1.04" fill="#262626" fill-opacity="0.54"/>
<circle cx="75.1" cy="101.8" r="0.99" fill="#262626" fill-opacity="0.63"/>
<circle cx="89.4" cy="153.1" r="0.99" fill="#262626" fill-opacity="0.58"/>
<circle cx="61.1" cy="124.2" r="0.99" fill="#262626" fill-opacity="0.57"/>
<circle cx="86.4" cy="113.1" r="1.04" fill="#262626" fill-opacity="0.49"/>
<circle cx="93.1" cy="100.6" r="1.04" fill="#262626" fill-opacity="0.58"/>
<circle cx="30.7" cy="162.7" r="0.78" fill="#262626" fill-opacity="0.37"/>
<circle cx="49.2" cy="108.5" r="0.87" fill="#262626" fill-opacity="0.62"/>
<circle cx="69.7" cy="149.7" r="0.84" fill="#262626" fill-opacity="0.57"/>
<circle cx="79.4" cy="147.0" r="1.03" fill="#262626" fill-opacity="0.59"/>
<circle cx="44.6" cy="99.0" r="0.93" fill="#262626" fill-opacity="0.59"/>
<circle cx="38.6" cy="138.5" r="0.99" fill="#262626" fill-opacity="0.58"/>
<circle cx="8.4" cy="128.8" r="0.71" fill="#262626" fill-opacity="0.34"/>
<circle cx="81.1" cy="122.7" r="0.91" fill="#262626" fill-opacity="0.46"/>
<circle cx="38.2" cy="106.9" r="0.82" fill="#262626" fill-opacity="0.60"/>
<circle cx="63.7" cy="112.6" r="0.73" fill="#262626" fill-opacity="0.39"/>
<circle cx="71.1" cy="124.7" r="0.93" fill="#262626" fill-opacity="0.58"/>
<circle cx="18.9" cy="147.0" r="0.71" fill="#262626" fill-opacity="0.59"/>
<circle cx="24.6" cy="111.0" r="1.04" fill="#262626" fill-opacity="0.43"/>
<circle cx="28.2" cy="168.1" r="0.91" fill="#262626" fill-opacity="0.61"/>
<circle cx="43.5" cy="129.8" r="1.03" fill="#262626" fill-opacity="0.48"/>
<circle cx="97.0" cy="105.2" r="0.99" fill="#262626" fill-opacity="0.36"/>
<circle cx="55.4" cy="95.5" r="0.76" fill="#262626" fill-opacity="0.63"/>
<circle cx="48.9" cy="159.7" r="0.79" fill="#262626" fill-opacity="0.42"/>
<circle cx="17.1" cy="134.6" r="1.00" fill="#262626" fill-opacity="0.48"/>
<circle cx="41.9" cy="172.2" r="1.01" fill="#262626" fill-opacity="0.53"/>
<circle cx="14.8" cy="141.3" r="0.86" fill="#262626" fill-opacity="0.64"/>
<circle cx="40.6" cy="144.8" r="0.92" fill="#262626" fill-opacity="0.43"/>
<circle cx="55.0" cy="146.3" r="1.02" fill="#262626" fill-opacity="0.47"/>
<circle cx="40.7" cy="177.4" r="0.72" fill="#262626" fill-opacity="0.59"/>
<circle cx="69.5" cy="135.0" r="0.86" fill="#262626" fill-opacity="0.56"/>
<circle cx="88.2" cy="151.5" r="0.96" fill="#262626" fill-opacity="0.31"/>
<circle cx="37.3" cy="101.9" r="1.03" fill="#262626" fill-opacity="0.61"/>
<circle cx="21.0" cy="137.8" r="0.90" fill="#262626" fill-opacity="0.32"/>
<circle cx="43.3" cy="153.4" r="0.92" fill="#262626" fill-opacity="0.40"/>
<circle cx="76.6" cy="112.5" r="0.89" fill="#262626" fill-opacity="0.45"/>
<circle cx="96.0" cy="143.7" r="0.98" fill="#262626" fill-opacity="0.54"/>
<circle cx="42.2" cy="176.0" r="0.95" fill="#262626" fill-opacity="0.54"/>
<circle cx="33.0" cy="103.4" r="0.90" fill="#262626" fill-opacity="0.59"/>
<circle cx="79.4" cy="116.9" r="0.75" fill="#262626" fill-opacity="0.48"/>
<circle cx="87.0" cy="103.4" r="0.96" fill="#262626" fill-opacity="0.36"/>
<circle cx="36.1" cy="97.4" r="0.80" fill="#262626" fill-opacity="0.43"/>
<circle cx="95.0" cy="175.9" r="0.77" fill="#262626" fill-opacity="0.41"/>
<circle cx="92.9" cy="105.7" r="0.81" fill="#262626" fill-opacity="0.45"/>
<circle cx="17.8" cy="110.2" r="0.84" fill="#262626" fill-opacity="0.43"/>
<circle cx="94.7" cy="110.7" r="0.77" fill="#262626" fill-opacity="0.62"/>
<circle cx="48.5" cy="162.6" r="0.92" fill="#262626" fill-opacity="0.57"/>
<circle cx="36.3" cy="102.8" r="0.96" fill="#262626" fill-opacity="0.46"/>
<circle cx="58.3" cy="145.8" r="0.96" fill="#262626" fill-opacity="0.40"/>
<circle cx="40.6" cy="171.1" r="0.89" fill="#262626" fill-opacity="0.40"/>
<circle cx="64.7" cy="110.1" r="0.97" fill="#262626" fill-opacity="0.31"/>
<circle cx="82.4" cy="135.9" r="0.82" fill="#262626" fill-opacity="0.63"/>
<circle cx="31.9" cy="109.0" r="0.72" fill="#262626" fill-opacity="0.49"/>
<circle cx="75.8" cy="146.5" r="0.84" fill="#262626" fill-opacity="0.58"/>
<circle cx="18.0" cy="113.7" r="0.93" fill="#262626" fill-opacity="0.64"/>
<circle cx="65.1" cy="147.9" r="0.97" fill="#262626" fill-opacity="0.44"/>
<circle cx="92.6" cy="152.9" r="0.82" fill="#262626" fill-opacity="0.44"/>
</g>
</g>
<g clip-path="url(#cB)" stroke="#404040" stroke-opacity="0.55" stroke-linecap="round" stroke-width="1.4" fill="none">
<line x1="35" y1="128" x2="42" y2="132"/>
<line x1="44" y1="142" x2="52" y2="138"/>
<line x1="50" y1="132" x2="55" y2="125"/>
<line x1="80" y1="140" x2="86" y2="142"/>
<line x1="82" y1="153" x2="88" y2="150"/>
<line x1="62" y1="150" x2="70" y2="153"/>
<line x1="25" y1="140" x2="31" y2="145"/>
</g>
<g clip-path="url(#cC)">
<rect x="8" y="187.5" width="90" height="85" filter="url(#temC)"/>
<rect x="8" y="187.5" width="90" height="85" fill="url(#gAtop)"/>
<rect x="8" y="187.5" width="90" height="85" fill="url(#gSide)"/>
<g filter="url(#dotblur)">
<circle cx="80.5" cy="217.2" r="0.57" fill="#404040" fill-opacity="0.61"/>
<circle cx="55.9" cy="231.8" r="0.77" fill="#404040" fill-opacity="0.62"/>
<circle cx="20.0" cy="216.3" r="0.53" fill="#404040" fill-opacity="0.44"/>
<circle cx="53.2" cy="259.9" r="0.77" fill="#404040" fill-opacity="0.50"/>
<circle cx="44.3" cy="236.3" r="0.61" fill="#404040" fill-opacity="0.60"/>
<circle cx="79.0" cy="258.8" r="0.56" fill="#404040" fill-opacity="0.54"/>
<circle cx="75.9" cy="230.0" r="0.86" fill="#404040" fill-opacity="0.61"/>
<circle cx="74.9" cy="257.3" r="0.76" fill="#404040" fill-opacity="0.61"/>
<circle cx="19.8" cy="247.3" r="0.78" fill="#404040" fill-opacity="0.51"/>
<circle cx="32.8" cy="193.2" r="0.74" fill="#404040" fill-opacity="0.59"/>
<circle cx="32.6" cy="205.6" r="0.59" fill="#404040" fill-opacity="0.33"/>
<circle cx="68.8" cy="270.4" r="0.82" fill="#404040" fill-opacity="0.43"/>
<circle cx="70.9" cy="193.6" r="0.84" fill="#404040" fill-opacity="0.41"/>
<circle cx="8.3" cy="241.0" r="0.56" fill="#404040" fill-opacity="0.40"/>
<circle cx="13.3" cy="225.4" r="0.72" fill="#404040" fill-opacity="0.58"/>
<circle cx="11.6" cy="257.8" r="0.54" fill="#404040" fill-opacity="0.38"/>
<circle cx="64.7" cy="216.4" r="0.63" fill="#404040" fill-opacity="0.50"/>
<circle cx="27.6" cy="254.9" r="0.58" fill="#404040" fill-opacity="0.59"/>
<circle cx="80.8" cy="233.2" r="0.51" fill="#404040" fill-opacity="0.57"/>
<circle cx="10.6" cy="230.4" r="0.67" fill="#404040" fill-opacity="0.32"/>
</g>
</g>
<defs><linearGradient id="gmU" x1="0" y1="187" x2="0" y2="273" gradientUnits="userSpaceOnUse"><stop offset="0.4" stop-color="#fff"/><stop offset="0.6" stop-color="#000"/></linearGradient><linearGradient id="gmL" x1="0" y1="187" x2="0" y2="273" gradientUnits="userSpaceOnUse"><stop offset="0.4" stop-color="#000"/><stop offset="0.6" stop-color="#fff"/></linearGradient><mask id="mU" maskUnits="userSpaceOnUse" x="0" y="180" width="110" height="100"><rect x="0" y="180" width="110" height="100" fill="url(#gmU)"/></mask><mask id="mL" maskUnits="userSpaceOnUse" x="0" y="180" width="110" height="100"><rect x="0" y="180" width="110" height="100" fill="url(#gmL)"/></mask></defs>
<g clip-path="url(#cC)"><g mask="url(#mU)" stroke="#2a2a2a" stroke-opacity="0.3" stroke-width="1.4" fill="none">
<path d="M8 120.3 L10 121.7 L12 123.1 L14 124.4 L16 125.6 L18 126.8 L20 127.9 L22 129 L24 130.1 L26 131.1 L28 132.2 L30 133.2 L32 134.4 L34 135.5 L36 136.7 L38 138 L40 139.2 L42 140.5 L44 141.7 L46 142.9 L48 144.1 L50 145.2 L52 146.2 L54 147.2 L56 148.1 L58 149 L60 149.8 L62 150.6 L64 151.4 L66 152.2 L68 153 L70 153.9 L72 154.8 L74 155.7 L76 156.7 L78 157.7 L80 158.7 L82 159.7 L84 160.7 L86 161.6 L88 162.4 L90 163.2 L92 163.9 L94 164.5 L96 165.1 L98 165.7 L100 166.2"/>
<path d="M8 124.4 L10 125.8 L12 127.3 L14 128.7 L16 130.2 L18 131.6 L20 132.9 L22 134.2 L24 135.4 L26 136.5 L28 137.6 L30 138.7 L32 139.7 L34 140.6 L36 141.6 L38 142.6 L40 143.7 L42 144.8 L44 145.9 L46 147 L48 148.2 L50 149.4 L52 150.6 L54 151.8 L56 152.9 L58 154 L60 155 L62 155.9 L64 156.8 L66 157.6 L68 158.4 L70 159.2 L72 159.9 L74 160.6 L76 161.4 L78 162.2 L80 163 L82 163.9 L84 164.8 L86 165.7 L88 166.6 L90 167.6 L92 168.5 L94 169.4 L96 170.2 L98 170.9 L100 171.6"/>
<path d="M8 129.3 L10 130.5 L12 131.7 L14 133 L16 134.4 L18 135.7 L20 137.1 L22 138.5 L24 139.9 L26 141.3 L28 142.6 L30 143.8 L32 145 L34 146.1 L36 147.1 L38 148.1 L40 149.1 L42 150 L44 150.9 L46 151.9 L48 152.8 L50 153.8 L52 154.9 L54 156 L56 157.1 L58 158.2 L60 159.4 L62 160.5 L64 161.6 L66 162.6 L68 163.6 L70 164.5 L72 165.3 L74 166.1 L76 166.8 L78 167.5 L80 168.2 L82 168.9 L84 169.6 L86 170.3 L88 171 L90 171.8 L92 172.7 L94 173.5 L96 174.4 L98 175.3 L100 176.2"/>
<path d="M8 134.7 L10 135.9 L12 137 L14 138.1 L16 139.2 L18 140.4 L20 141.6 L22 142.8 L24 144 L26 145.3 L28 146.6 L30 148 L32 149.3 L34 150.6 L36 151.9 L38 153.1 L40 154.2 L42 155.3 L44 156.3 L46 157.3 L48 158.2 L50 159.1 L52 160 L54 160.8 L56 161.7 L58 162.6 L60 163.6 L62 164.6 L64 165.6 L66 166.7 L68 167.8 L70 168.8 L72 169.9 L74 170.9 L76 171.8 L78 172.7 L80 173.6 L82 174.3 L84 175 L86 175.6 L88 176.3 L90 176.9 L92 177.5 L94 178.1 L96 178.8 L98 179.5 L100 180.2"/>
<path d="M8 139.4 L10 140.8 L12 142.1 L14 143.4 L16 144.6 L18 145.8 L20 146.9 L22 147.9 L24 149 L26 150 L28 151.1 L30 152.2 L32 153.4 L34 154.6 L36 155.8 L38 157 L40 158.3 L42 159.6 L44 160.8 L46 162 L48 163.1 L50 164.2 L52 165.2 L54 166.2 L56 167.1 L58 167.9 L60 168.7 L62 169.5 L64 170.3 L66 171.1 L68 172 L70 172.9 L72 173.8 L74 174.8 L76 175.8 L78 176.8 L80 177.8 L82 178.8 L84 179.7 L86 180.6 L88 181.4 L90 182.2 L92 182.9 L94 183.5 L96 184.1 L98 184.6 L100 185.1"/>
<path d="M8 143.4 L10 144.8 L12 146.3 L14 147.7 L16 149.1 L18 150.5 L20 151.9 L22 153.1 L24 154.3 L26 155.4 L28 156.5 L30 157.5 L32 158.5 L34 159.5 L36 160.5 L38 161.5 L40 162.6 L42 163.7 L44 164.8 L46 166 L48 167.2 L50 168.4 L52 169.6 L54 170.7 L56 171.9 L58 172.9 L60 173.9 L62 174.9 L64 175.7 L66 176.5 L68 177.3 L70 178 L72 178.8 L74 179.5 L76 180.3 L78 181.1 L80 181.9 L82 182.8 L84 183.7 L86 184.7 L88 185.6 L90 186.5 L92 187.5 L94 188.3 L96 189.1 L98 189.8 L100 190.5"/>
<path d="M8 148.1 L10 149.3 L12 150.6 L14 151.9 L16 153.2 L18 154.6 L20 156 L22 157.4 L24 158.8 L26 160.1 L28 161.4 L30 162.6 L32 163.8 L34 164.9 L36 166 L38 167 L40 167.9 L42 168.8 L44 169.8 L46 170.7 L48 171.7 L50 172.7 L52 173.7 L54 174.8 L56 175.9 L58 177.1 L60 178.2 L62 179.3 L64 180.4 L66 181.5 L68 182.4 L70 183.3 L72 184.2 L74 185 L76 185.7 L78 186.4 L80 187.1 L82 187.7 L84 188.4 L86 189.1 L88 189.9 L90 190.7 L92 191.5 L94 192.4 L96 193.3 L98 194.1 L100 195"/>
<path d="M8 153.4 L10 154.6 L12 155.7 L14 156.9 L16 158 L18 159.1 L20 160.2 L22 161.4 L24 162.6 L26 163.9 L28 165.2 L30 166.5 L32 167.8 L34 169.1 L36 170.4 L38 171.7 L40 172.9 L42 174 L44 175 L46 176 L48 176.9 L50 177.8 L52 178.7 L54 179.5 L56 180.4 L58 181.3 L60 182.2 L62 183.2 L64 184.2 L66 185.2 L68 186.3 L70 187.4 L72 188.4 L74 189.5 L76 190.4 L78 191.4 L80 192.2 L82 193 L84 193.7 L86 194.4 L88 195 L90 195.6 L92 196.2 L94 196.8 L96 197.5 L98 198.1 L100 198.8"/>
<path d="M8 158.3 L10 159.7 L12 161 L14 162.3 L16 163.5 L18 164.6 L20 165.7 L22 166.8 L24 167.9 L26 168.9 L28 170 L30 171.1 L32 172.3 L34 173.5 L36 174.7 L38 176 L40 177.2 L42 178.5 L44 179.7 L46 180.9 L48 182.1 L50 183.1 L52 184.1 L54 185.1 L56 186 L58 186.8 L60 187.6 L62 188.4 L64 189.2 L66 190 L68 190.9 L70 191.8 L72 192.8 L74 193.7 L76 194.7 L78 195.8 L80 196.8 L82 197.7 L84 198.7 L86 199.5 L88 200.3 L90 201.1 L92 201.7 L94 202.4 L96 202.9 L98 203.5 L100 204"/>
<path d="M8 162.7 L10 164.2 L12 165.6 L14 167.1 L16 168.5 L18 169.8 L20 171.1 L22 172.3 L24 173.4 L26 174.5 L28 175.6 L30 176.6 L32 177.6 L34 178.6 L36 179.6 L38 180.7 L40 181.8 L42 183 L44 184.1 L46 185.4 L48 186.6 L50 187.8 L52 189 L54 190.1 L56 191.2 L58 192.2 L60 193.1 L62 194 L64 194.8 L66 195.6 L68 196.3 L70 197.1 L72 197.8 L74 198.6 L76 199.4 L78 200.3 L80 201.2 L82 202.1 L84 203.1 L86 204 L88 205 L90 205.9 L92 206.8 L94 207.6 L96 208.3 L98 209 L100 209.6"/>
<path d="M8 167.3 L10 168.6 L12 170 L14 171.3 L16 172.7 L18 174.1 L20 175.6 L22 176.9 L24 178.3 L26 179.6 L28 180.8 L30 182 L32 183.1 L34 184.1 L36 185.1 L38 186.1 L40 187 L42 188 L44 188.9 L46 189.9 L48 191 L50 192.1 L52 193.2 L54 194.3 L56 195.5 L58 196.7 L60 197.8 L62 198.9 L64 199.9 L66 200.9 L68 201.8 L70 202.6 L72 203.4 L74 204.1 L76 204.8 L78 205.5 L80 206.2 L82 206.9 L84 207.6 L86 208.4 L88 209.3 L90 210.2 L92 211 L94 211.9 L96 212.8 L98 213.7 L100 214.5"/>
<path d="M8 172.8 L10 173.9 L12 175.1 L14 176.3 L16 177.5 L18 178.7 L20 180 L22 181.3 L24 182.7 L26 184 L28 185.4 L30 186.7 L32 188 L34 189.3 L36 190.4 L38 191.5 L40 192.6 L42 193.5 L44 194.5 L46 195.4 L48 196.3 L50 197.2 L52 198.1 L54 199 L56 200 L58 201.1 L60 202.2 L62 203.2 L64 204.4 L66 205.5 L68 206.5 L70 207.6 L72 208.5 L74 209.4 L76 210.3 L78 211 L80 211.8 L82 212.4 L84 213.1 L86 213.7 L88 214.4 L90 215 L92 215.7 L94 216.5 L96 217.3 L98 218.1 L100 218.9"/>
<path d="M8 177.9 L10 179.2 L12 180.4 L14 181.6 L16 182.7 L18 183.8 L20 184.9 L22 186 L24 187.1 L26 188.2 L28 189.4 L30 190.6 L32 191.9 L34 193.1 L36 194.4 L38 195.7 L40 197 L42 198.2 L44 199.4 L46 200.5 L48 201.5 L50 202.5 L52 203.4 L54 204.3 L56 205.1 L58 206 L60 206.8 L62 207.6 L64 208.5 L66 209.4 L68 210.4 L70 211.4 L72 212.4 L74 213.5 L76 214.5 L78 215.5 L80 216.5 L82 217.4 L84 218.2 L86 219 L88 219.7 L90 220.3 L92 220.9 L94 221.5 L96 222.1 L98 222.7 L100 223.3"/>
<path d="M8 182.4 L10 183.9 L12 185.3 L14 186.7 L16 188 L18 189.3 L20 190.5 L22 191.6 L24 192.6 L26 193.7 L28 194.7 L30 195.7 L32 196.8 L34 197.9 L36 199 L38 200.2 L40 201.4 L42 202.6 L44 203.9 L46 205.1 L48 206.3 L50 207.5 L52 208.6 L54 209.6 L56 210.6 L58 211.5 L60 212.4 L62 213.2 L64 214 L66 214.7 L68 215.5 L70 216.3 L72 217.2 L74 218 L76 218.9 L78 219.9 L80 220.9 L82 221.9 L84 222.8 L86 223.8 L88 224.7 L90 225.5 L92 226.3 L94 227 L96 227.7 L98 228.3 L100 228.8"/>
<path d="M8 186.3 L10 187.6 L12 189 L14 190.4 L16 191.8 L18 193.2 L20 194.6 L22 196 L24 197.3 L26 198.6 L28 199.8 L30 201 L32 202 L34 203.1 L36 204 L38 205 L40 205.9 L42 206.9 L44 207.9 L46 208.9 L48 210 L50 211.1 L52 212.3 L54 213.4 L56 214.6 L58 215.7 L60 216.9 L62 217.9 L64 218.9 L66 219.9 L68 220.7 L70 221.5 L72 222.3 L74 223 L76 223.7 L78 224.4 L80 225.1 L82 225.9 L84 226.7 L86 227.5 L88 228.3 L90 229.2 L92 230.1 L94 231 L96 231.9 L98 232.8 L100 233.6"/>
<path d="M8 191.6 L10 192.7 L12 193.9 L14 195 L16 196.2 L18 197.4 L20 198.7 L22 200 L24 201.3 L26 202.7 L28 204 L30 205.4 L32 206.7 L34 207.9 L36 209.1 L38 210.3 L40 211.3 L42 212.3 L44 213.3 L46 214.2 L48 215.1 L50 215.9 L52 216.9 L54 217.8 L56 218.8 L58 219.8 L60 220.8 L62 221.9 L64 223 L66 224.1 L68 225.2 L70 226.2 L72 227.2 L74 228.1 L76 229 L78 229.8 L80 230.5 L82 231.2 L84 231.9 L86 232.5 L88 233.1 L90 233.8 L92 234.5 L94 235.2 L96 235.9 L98 236.8 L100 237.6"/>
<path d="M8 196.4 L10 197.8 L12 199.1 L14 200.3 L16 201.4 L18 202.5 L20 203.6 L22 204.7 L24 205.8 L26 206.9 L28 208 L30 209.2 L32 210.4 L34 211.6 L36 212.9 L38 214.2 L40 215.5 L42 216.7 L44 217.9 L46 219.1 L48 220.2 L50 221.2 L52 222.1 L54 223 L56 223.9 L58 224.7 L60 225.5 L62 226.3 L64 227.2 L66 228 L68 229 L70 229.9 L72 230.9 L74 232 L76 233 L78 234 L80 235 L82 235.9 L84 236.8 L86 237.6 L88 238.4 L90 239 L92 239.7 L94 240.3 L96 240.8 L98 241.4 L100 241.9"/>
<path d="M8 200.4 L10 201.9 L12 203.4 L14 204.8 L16 206.2 L18 207.6 L20 208.8 L22 210 L24 211.2 L26 212.2 L28 213.3 L30 214.3 L32 215.3 L34 216.3 L36 217.3 L38 218.4 L40 219.5 L42 220.7 L44 221.9 L46 223.1 L48 224.3 L50 225.5 L52 226.7 L54 227.8 L56 228.9 L58 229.9 L60 230.8 L62 231.7 L64 232.5 L66 233.3 L68 234 L70 234.8 L72 235.6 L74 236.3 L76 237.2 L78 238 L80 238.9 L82 239.9 L84 240.8 L86 241.8 L88 242.7 L90 243.7 L92 244.5 L94 245.3 L96 246.1 L98 246.7 L100 247.3"/>
<path d="M8 205 L10 206.3 L12 207.6 L14 209 L16 210.4 L18 211.8 L20 213.2 L22 214.6 L24 215.9 L26 217.2 L28 218.5 L30 219.6 L32 220.7 L34 221.8 L36 222.8 L38 223.7 L40 224.7 L42 225.6 L44 226.6 L46 227.6 L48 228.6 L50 229.7 L52 230.8 L54 232 L56 233.1 L58 234.3 L60 235.4 L62 236.5 L64 237.5 L66 238.5 L68 239.4 L70 240.3 L72 241 L74 241.8 L76 242.5 L78 243.2 L80 243.8 L82 244.6 L84 245.3 L86 246.1 L88 246.9 L90 247.8 L92 248.7 L94 249.6 L96 250.5 L98 251.3 L100 252.2"/>
<path d="M8 210.4 L10 211.5 L12 212.7 L14 213.8 L16 215 L18 216.2 L20 217.5 L22 218.8 L24 220.1 L26 221.4 L28 222.8 L30 224.1 L32 225.4 L34 226.7 L36 227.9 L38 229.1 L40 230.1 L42 231.1 L44 232.1 L46 233 L48 233.9 L50 234.8 L52 235.7 L54 236.6 L56 237.5 L58 238.6 L60 239.6 L62 240.7 L64 241.8 L66 242.9 L68 243.9 L70 245 L72 246 L74 246.9 L76 247.8 L78 248.6 L80 249.3 L82 250 L84 250.7 L86 251.3 L88 251.9 L90 252.6 L92 253.3 L94 254 L96 254.7 L98 255.5 L100 256.3"/>
<path d="M8 215.4 L10 216.8 L12 218 L14 219.2 L16 220.4 L18 221.5 L20 222.5 L22 223.6 L24 224.7 L26 225.8 L28 227 L30 228.2 L32 229.4 L34 230.7 L36 232 L38 233.2 L40 234.5 L42 235.8 L44 236.9 L46 238.1 L48 239.1 L50 240.1 L52 241.1 L54 241.9 L56 242.8 L58 243.6 L60 244.4 L62 245.2 L64 246.1 L66 247 L68 248 L70 248.9 L72 250 L74 251 L76 252 L78 253 L80 254 L82 254.9 L84 255.8 L86 256.6 L88 257.3 L90 258 L92 258.6 L94 259.2 L96 259.7 L98 260.3 L100 260.9"/>
<path d="M8 219.4 L10 220.9 L12 222.3 L14 223.8 L16 225.1 L18 226.5 L20 227.7 L22 228.9 L24 230.1 L26 231.1 L28 232.2 L30 233.2 L32 234.2 L34 235.2 L36 236.2 L38 237.3 L40 238.5 L42 239.6 L44 240.8 L46 242 L48 243.3 L50 244.5 L52 245.6 L54 246.8 L56 247.8 L58 248.8 L60 249.7 L62 250.6 L64 251.4 L66 252.2 L68 252.9 L70 253.7 L72 254.4 L74 255.2 L76 256.1 L78 257 L80 257.9 L82 258.8 L84 259.8 L86 260.7 L88 261.7 L90 262.6 L92 263.4 L94 264.2 L96 265 L98 265.6 L100 266.2"/>
<path d="M8 223.6 L10 224.9 L12 226.2 L14 227.5 L16 228.9 L18 230.3 L20 231.7 L22 233.1 L24 234.5 L26 235.8 L28 237.1 L30 238.3 L32 239.4 L34 240.5 L36 241.5 L38 242.5 L40 243.4 L42 244.4 L44 245.3 L46 246.3 L48 247.3 L50 248.3 L52 249.4 L54 250.5 L56 251.6 L58 252.8 L60 253.9 L62 255 L64 256.1 L66 257.1 L68 258.1 L70 258.9 L72 259.7 L74 260.5 L76 261.2 L78 261.9 L80 262.6 L82 263.3 L84 264 L86 264.7 L88 265.5 L90 266.3 L92 267.2 L94 268.1 L96 269 L98 269.9 L100 270.7"/>
<path d="M8 229 L10 230.2 L12 231.3 L14 232.4 L16 233.6 L18 234.7 L20 235.9 L22 237.1 L24 238.4 L26 239.7 L28 241 L30 242.4 L32 243.7 L34 245 L36 246.3 L38 247.5 L40 248.6 L42 249.7 L44 250.7 L46 251.6 L48 252.5 L50 253.4 L52 254.3 L54 255.1 L56 256 L58 257 L60 257.9 L62 259 L64 260 L66 261.1 L68 262.2 L70 263.2 L72 264.3 L74 265.3 L76 266.2 L78 267.1 L80 267.9 L82 268.6 L84 269.3 L86 269.9 L88 270.6 L90 271.2 L92 271.8 L94 272.4 L96 273.1 L98 273.9 L100 274.6"/>
<path d="M8 233.6 L10 235.1 L12 236.4 L14 237.7 L16 238.9 L18 240 L20 241.1 L22 242.2 L24 243.2 L26 244.3 L28 245.4 L30 246.5 L32 247.6 L34 248.8 L36 250.1 L38 251.3 L40 252.6 L42 253.9 L44 255.1 L46 256.3 L48 257.4 L50 258.5 L52 259.5 L54 260.5 L56 261.3 L58 262.2 L60 263 L62 263.8 L64 264.6 L66 265.4 L68 266.3 L70 267.2 L72 268.1 L74 269.1 L76 270.1 L78 271.1 L80 272.1 L82 273.1 L84 274 L86 274.9 L88 275.7 L90 276.4 L92 277.1 L94 277.7 L96 278.3 L98 278.9 L100 279.4"/>
<path d="M8 237.4 L10 238.8 L12 240.3 L14 241.7 L16 243.2 L18 244.6 L20 245.9 L22 247.2 L24 248.4 L26 249.6 L28 250.7 L30 251.7 L32 252.7 L34 253.7 L36 254.7 L38 255.7 L40 256.7 L42 257.8 L44 258.9 L46 260 L48 261.2 L50 262.4 L52 263.6 L54 264.8 L56 265.9 L58 267 L60 268 L62 269 L64 269.9 L66 270.7 L68 271.5 L70 272.2 L72 272.9 L74 273.7 L76 274.4 L78 275.2 L80 276 L82 276.9 L84 277.8 L86 278.7 L88 279.6 L90 280.6 L92 281.5 L94 282.4 L96 283.2 L98 283.9 L100 284.6"/>
<path d="M8 242.3 L10 243.5 L12 244.8 L14 246.1 L16 247.4 L18 248.7 L20 250.1 L22 251.5 L24 252.9 L26 254.3 L28 255.6 L30 256.8 L32 258 L34 259.1 L36 260.2 L38 261.2 L40 262.1 L42 263.1 L44 264 L46 264.9 L48 265.9 L50 266.9 L52 267.9 L54 269 L56 270.1 L58 271.2 L60 272.4 L62 273.5 L64 274.6 L66 275.6 L68 276.6 L70 277.5 L72 278.4 L74 279.2 L76 279.9 L78 280.6 L80 281.3 L82 281.9 L84 282.6 L86 283.3 L88 284.1 L90 284.9 L92 285.7 L94 286.5 L96 287.4 L98 288.3 L100 289.2"/>
<path d="M8 247.7 L10 248.9 L12 250 L14 251.2 L16 252.3 L18 253.4 L20 254.6 L22 255.8 L24 257 L26 258.3 L28 259.6 L30 260.9 L32 262.2 L34 263.5 L36 264.8 L38 266.1 L40 267.2 L42 268.3 L44 269.4 L46 270.3 L48 271.3 L50 272.1 L52 273 L54 273.9 L56 274.7 L58 275.6 L60 276.6 L62 277.6 L64 278.6 L66 279.6 L68 280.7 L70 281.8 L72 282.8 L74 283.8 L76 284.8 L78 285.7 L80 286.6 L82 287.3 L84 288 L86 288.7 L88 289.3 L90 289.9 L92 290.5 L94 291.1 L96 291.8 L98 292.5 L100 293.2"/>
<path d="M8 252.3 L10 253.8 L12 255.1 L14 256.4 L16 257.6 L18 258.8 L20 259.9 L22 261 L24 262 L26 263.1 L28 264.2 L30 265.2 L32 266.4 L34 267.6 L36 268.8 L38 270 L40 271.3 L42 272.5 L44 273.8 L46 275 L48 276.1 L50 277.2 L52 278.3 L54 279.2 L56 280.1 L58 281 L60 281.8 L62 282.6 L64 283.4 L66 284.2 L68 285 L70 285.9 L72 286.8 L74 287.8 L76 288.8 L78 289.8 L80 290.8 L82 291.8 L84 292.7 L86 293.6 L88 294.4 L90 295.2 L92 295.9 L94 296.5 L96 297.1 L98 297.7 L100 298.2"/>
<path d="M8 256.1 L10 257.5 L12 259 L14 260.4 L16 261.8 L18 263.2 L20 264.6 L22 265.9 L24 267.2 L26 268.3 L28 269.4 L30 270.5 L32 271.5 L34 272.5 L36 273.5 L38 274.5 L40 275.5 L42 276.5 L44 277.6 L46 278.7 L48 279.9 L50 281.1 L52 282.3 L54 283.5 L56 284.6 L58 285.7 L60 286.7 L62 287.7 L64 288.6 L66 289.5 L68 290.3 L70 291 L72 291.7 L74 292.5 L76 293.2 L78 293.9 L80 294.7 L82 295.6 L84 296.5 L86 297.4 L88 298.3 L90 299.2 L92 300.2 L94 301 L96 301.9 L98 302.7 L100 303.4"/>
<path d="M8 261.1 L10 262.3 L12 263.5 L14 264.8 L16 266.1 L18 267.4 L20 268.8 L22 270.2 L24 271.5 L26 272.9 L28 274.2 L30 275.5 L32 276.7 L34 277.9 L36 278.9 L38 279.9 L40 280.9 L42 281.8 L44 282.8 L46 283.7 L48 284.6 L50 285.6 L52 286.6 L54 287.7 L56 288.8 L58 289.9 L60 291 L62 292.1 L64 293.2 L66 294.3 L68 295.3 L70 296.2 L72 297.1 L74 297.9 L76 298.7 L78 299.4 L80 300 L82 300.7 L84 301.4 L86 302.1 L88 302.8 L90 303.6 L92 304.4 L94 305.2 L96 306.1 L98 306.9 L100 307.8"/>
</g><g mask="url(#mL)" stroke="#2a2a2a" stroke-opacity="0.3" stroke-width="1.4" fill="none">
<path d="M8 211.5 L10 209.4 L12 208.1 L14 207 L16 206.1 L18 205.4 L20 204.8 L22 204.2 L24 203.7 L26 203.2 L28 202.7 L30 202.2 L32 201.8 L34 201.4 L36 201 L38 200.7 L40 200.5 L42 200.3 L44 200.2 L46 200.3 L48 200.4 L50 200.7 L52 201 L54 201.4 L56 201.9 L58 202.4 L60 202.9 L62 203.4 L64 203.9 L66 204.4 L68 204.8 L70 205.3 L72 205.7 L74 206.1 L76 206.5 L78 206.9 L80 207.4 L82 208 L84 208.6 L86 209.3 L88 210.1 L90 210.9 L92 211.7 L94 212.5 L96 213.4 L98 214.2 L100 214.9"/>
<path d="M8 216.7 L10 214.4 L12 212.8 L14 211.5 L16 210.4 L18 209.4 L20 208.6 L22 208 L24 207.5 L26 207.1 L28 206.7 L30 206.5 L32 206.3 L34 206.2 L36 206 L38 205.9 L40 205.8 L42 205.6 L44 205.5 L46 205.4 L48 205.4 L50 205.4 L52 205.5 L54 205.7 L56 205.9 L58 206.3 L60 206.7 L62 207.2 L64 207.8 L66 208.5 L68 209.1 L70 209.8 L72 210.5 L74 211.1 L76 211.7 L78 212.2 L80 212.8 L82 213.3 L84 213.7 L86 214.2 L88 214.7 L90 215.3 L92 215.9 L94 216.5 L96 217.2 L98 218 L100 218.7"/>
<path d="M8 221.8 L10 219.7 L12 218.2 L14 217 L16 215.8 L18 214.7 L20 213.7 L22 212.9 L24 212.1 L26 211.5 L28 211 L30 210.6 L32 210.4 L34 210.2 L36 210.2 L38 210.2 L40 210.2 L42 210.3 L44 210.5 L46 210.6 L48 210.7 L50 210.8 L52 210.9 L54 211 L56 211.2 L58 211.4 L60 211.6 L62 211.9 L64 212.2 L66 212.7 L68 213.2 L70 213.8 L72 214.5 L74 215.2 L76 216 L78 216.8 L80 217.5 L82 218.2 L84 218.9 L86 219.6 L88 220.2 L90 220.7 L92 221.2 L94 221.7 L96 222.3 L98 222.8 L100 223.3"/>
<path d="M8 226.1 L10 224.1 L12 222.9 L14 221.8 L16 220.9 L18 220 L20 219.2 L22 218.4 L24 217.6 L26 216.9 L28 216.3 L30 215.7 L32 215.2 L34 214.8 L36 214.6 L38 214.4 L40 214.4 L42 214.5 L44 214.7 L46 214.9 L48 215.2 L50 215.5 L52 215.8 L54 216.2 L56 216.5 L58 216.8 L60 217.1 L62 217.3 L64 217.6 L66 217.9 L68 218.3 L70 218.7 L72 219.1 L74 219.7 L76 220.3 L78 220.9 L80 221.7 L82 222.5 L84 223.3 L86 224.1 L88 224.9 L90 225.7 L92 226.4 L94 227.1 L96 227.7 L98 228.3 L100 228.8"/>
<path d="M8 230.6 L10 228.5 L12 227.3 L14 226.2 L16 225.4 L18 224.6 L20 224 L22 223.4 L24 222.8 L26 222.3 L28 221.8 L30 221.3 L32 220.8 L34 220.4 L36 220 L38 219.7 L40 219.5 L42 219.3 L44 219.3 L46 219.4 L48 219.6 L50 219.9 L52 220.2 L54 220.7 L56 221.1 L58 221.6 L60 222.1 L62 222.6 L64 223 L66 223.4 L68 223.9 L70 224.2 L72 224.6 L74 225 L76 225.5 L78 226 L80 226.5 L82 227.1 L84 227.8 L86 228.5 L88 229.3 L90 230.1 L92 230.9 L94 231.7 L96 232.6 L98 233.3 L100 234.1"/>
<path d="M8 235.8 L10 233.5 L12 232 L14 230.8 L16 229.7 L18 228.9 L20 228.2 L22 227.6 L24 227.1 L26 226.7 L28 226.4 L30 226.1 L32 225.9 L34 225.6 L36 225.4 L38 225.2 L40 225 L42 224.8 L44 224.6 L46 224.6 L48 224.5 L50 224.6 L52 224.8 L54 225 L56 225.4 L58 225.8 L60 226.3 L62 226.9 L64 227.5 L66 228.1 L68 228.7 L70 229.3 L72 229.9 L74 230.5 L76 231 L78 231.5 L80 231.9 L82 232.4 L84 232.9 L86 233.4 L88 234 L90 234.6 L92 235.2 L94 236 L96 236.8 L98 237.6 L100 238.4"/>
<path d="M8 241.3 L10 239.1 L12 237.6 L14 236.2 L16 235 L18 234 L20 233.1 L22 232.3 L24 231.6 L26 231.1 L28 230.8 L30 230.5 L32 230.3 L34 230.2 L36 230.1 L38 230.1 L40 230.1 L42 230.1 L44 230.1 L46 230.1 L48 230.1 L50 230.1 L52 230.2 L54 230.3 L56 230.4 L58 230.7 L60 231 L62 231.4 L64 231.9 L66 232.5 L68 233.1 L70 233.8 L72 234.5 L74 235.2 L76 235.9 L78 236.6 L80 237.3 L82 237.9 L84 238.4 L86 239 L88 239.5 L90 240 L92 240.5 L94 241 L96 241.6 L98 242.2 L100 242.9"/>
<path d="M8 246.2 L10 244.2 L12 242.9 L14 241.7 L16 240.6 L18 239.6 L20 238.6 L22 237.7 L24 236.9 L26 236.2 L28 235.6 L30 235.2 L32 234.8 L34 234.6 L36 234.5 L38 234.5 L40 234.5 L42 234.7 L44 234.8 L46 235 L48 235.3 L50 235.5 L52 235.6 L54 235.8 L56 236 L58 236.2 L60 236.4 L62 236.7 L64 237 L66 237.3 L68 237.8 L70 238.3 L72 238.9 L74 239.6 L76 240.3 L78 241.1 L80 241.9 L82 242.6 L84 243.4 L86 244.1 L88 244.8 L90 245.5 L92 246 L94 246.6 L96 247.1 L98 247.6 L100 248.1"/>
<path d="M8 250.4 L10 248.4 L12 247.2 L14 246.2 L16 245.3 L18 244.5 L20 243.8 L22 243.1 L24 242.4 L26 241.7 L28 241.1 L30 240.5 L32 240 L34 239.6 L36 239.3 L38 239.1 L40 238.9 L42 238.9 L44 239 L46 239.2 L48 239.5 L50 239.8 L52 240.2 L54 240.6 L56 241 L58 241.4 L60 241.8 L62 242.1 L64 242.5 L66 242.8 L68 243.1 L70 243.5 L72 243.9 L74 244.3 L76 244.9 L78 245.4 L80 246.1 L82 246.8 L84 247.6 L86 248.4 L88 249.2 L90 250 L92 250.9 L94 251.6 L96 252.3 L98 253 L100 253.6"/>
<path d="M8 255.1 L10 252.9 L12 251.5 L14 250.4 L16 249.5 L18 248.7 L20 248.1 L22 247.5 L24 247 L26 246.6 L28 246.2 L30 245.8 L32 245.5 L34 245.1 L36 244.8 L38 244.5 L40 244.2 L42 244 L44 243.9 L46 243.9 L48 244 L50 244.1 L52 244.4 L54 244.8 L56 245.2 L58 245.7 L60 246.3 L62 246.8 L64 247.4 L66 247.9 L68 248.4 L70 248.9 L72 249.4 L74 249.8 L76 250.2 L78 250.7 L80 251.2 L82 251.7 L84 252.2 L86 252.8 L88 253.5 L90 254.2 L92 255 L94 255.8 L96 256.7 L98 257.5 L100 258.3"/>
<path d="M8 260.3 L10 258.1 L12 256.5 L14 255.2 L16 254 L18 253 L20 252.1 L22 251.3 L24 250.7 L26 250.2 L28 249.9 L30 249.6 L32 249.5 L34 249.4 L36 249.3 L38 249.2 L40 249.2 L42 249.2 L44 249.1 L46 249.1 L48 249.1 L50 249.1 L52 249.1 L54 249.2 L56 249.4 L58 249.7 L60 250 L62 250.5 L64 251 L66 251.6 L68 252.3 L70 253 L72 253.7 L74 254.4 L76 255.1 L78 255.7 L80 256.3 L82 256.9 L84 257.4 L86 257.9 L88 258.4 L90 258.9 L92 259.5 L94 260 L96 260.6 L98 261.3 L100 262"/>
<path d="M8 264.8 L10 262.8 L12 261.5 L14 260.3 L16 259.2 L18 258.3 L20 257.3 L22 256.5 L24 255.7 L26 254.9 L28 254.3 L30 253.8 L32 253.4 L34 253.2 L36 253 L38 253 L40 253.1 L42 253.2 L44 253.4 L46 253.6 L48 253.8 L50 254.1 L52 254.3 L54 254.5 L56 254.7 L58 254.9 L60 255.1 L62 255.4 L64 255.7 L66 256 L68 256.4 L70 256.9 L72 257.5 L74 258.1 L76 258.8 L78 259.6 L80 260.4 L82 261.2 L84 262 L86 262.7 L88 263.4 L90 264.1 L92 264.7 L94 265.3 L96 265.8 L98 266.3 L100 266.8"/>
<path d="M8 268.4 L10 266.4 L12 265.1 L14 264.1 L16 263.2 L18 262.5 L20 261.8 L22 261.2 L24 260.6 L26 260.1 L28 259.5 L30 259 L32 258.6 L34 258.1 L36 257.7 L38 257.4 L40 257.2 L42 257.1 L44 257.1 L46 257.2 L48 257.4 L50 257.7 L52 258.1 L54 258.5 L56 259 L58 259.5 L60 259.9 L62 260.4 L64 260.8 L66 261.2 L68 261.6 L70 262 L72 262.4 L74 262.8 L76 263.2 L78 263.7 L80 264.3 L82 264.9 L84 265.6 L86 266.3 L88 267.1 L90 267.9 L92 268.8 L94 269.6 L96 270.4 L98 271.2 L100 271.9"/>
<path d="M8 273.6 L10 271.3 L12 269.8 L14 268.6 L16 267.6 L18 266.8 L20 266.1 L22 265.5 L24 265.1 L26 264.7 L28 264.3 L30 264 L32 263.8 L34 263.5 L36 263.2 L38 263 L40 262.8 L42 262.6 L44 262.4 L46 262.4 L48 262.4 L50 262.4 L52 262.6 L54 262.9 L56 263.3 L58 263.7 L60 264.3 L62 264.8 L64 265.4 L66 266.1 L68 266.7 L70 267.2 L72 267.8 L74 268.3 L76 268.8 L78 269.2 L80 269.7 L82 270.2 L84 270.7 L86 271.2 L88 271.8 L90 272.4 L92 273.1 L94 273.9 L96 274.7 L98 275.5 L100 276.4"/>
<path d="M8 279.1 L10 276.8 L12 275.3 L14 273.9 L16 272.8 L18 271.7 L20 270.8 L22 270 L24 269.4 L26 268.9 L28 268.5 L30 268.2 L32 268.1 L34 268 L36 267.9 L38 267.9 L40 267.9 L42 267.9 L44 267.8 L46 267.8 L48 267.8 L50 267.9 L52 267.9 L54 268 L56 268.2 L58 268.4 L60 268.7 L62 269.1 L64 269.6 L66 270.2 L68 270.9 L70 271.6 L72 272.3 L74 273 L76 273.7 L78 274.4 L80 275 L82 275.6 L84 276.2 L86 276.7 L88 277.2 L90 277.7 L92 278.2 L94 278.7 L96 279.3 L98 280 L100 280.6"/>
<path d="M8 283.8 L10 281.7 L12 280.4 L14 279.2 L16 278.2 L18 277.2 L20 276.2 L22 275.3 L24 274.6 L26 273.8 L28 273.2 L30 272.8 L32 272.4 L34 272.1 L36 272 L38 272 L40 272 L42 272.2 L44 272.4 L46 272.6 L48 272.8 L50 273 L52 273.2 L54 273.4 L56 273.6 L58 273.8 L60 274 L62 274.3 L64 274.6 L66 274.9 L68 275.4 L70 275.9 L72 276.4 L74 277.1 L76 277.8 L78 278.6 L80 279.3 L82 280.1 L84 280.9 L86 281.7 L88 282.4 L90 283 L92 283.6 L94 284.2 L96 284.7 L98 285.2 L100 285.7"/>
<path d="M8 287.6 L10 285.6 L12 284.3 L14 283.3 L16 282.4 L18 281.7 L20 281 L22 280.3 L24 279.7 L26 279.1 L28 278.6 L30 278 L32 277.5 L34 277.1 L36 276.7 L38 276.4 L40 276.3 L42 276.2 L44 276.2 L46 276.4 L48 276.6 L50 276.9 L52 277.3 L54 277.7 L56 278.2 L58 278.6 L60 279.1 L62 279.5 L64 279.9 L66 280.2 L68 280.6 L70 281 L72 281.4 L74 281.8 L76 282.2 L78 282.8 L80 283.3 L82 284 L84 284.7 L86 285.5 L88 286.3 L90 287.1 L92 288 L94 288.8 L96 289.6 L98 290.3 L100 291"/>
<path d="M8 292.4 L10 290.1 L12 288.6 L14 287.4 L16 286.4 L18 285.6 L20 284.9 L22 284.3 L24 283.8 L26 283.4 L28 283.1 L30 282.8 L32 282.5 L34 282.3 L36 282 L38 281.8 L40 281.6 L42 281.4 L44 281.2 L46 281.2 L48 281.2 L50 281.2 L52 281.4 L54 281.7 L56 282 L58 282.5 L60 283 L62 283.6 L64 284.2 L66 284.8 L68 285.4 L70 286 L72 286.6 L74 287.1 L76 287.6 L78 288.1 L80 288.5 L82 289 L84 289.5 L86 290 L88 290.6 L90 291.2 L92 291.9 L94 292.7 L96 293.5 L98 294.3 L100 295.1"/>
<path d="M8 297.6 L10 295.4 L12 293.9 L14 292.6 L16 291.4 L18 290.3 L20 289.4 L22 288.5 L24 287.8 L26 287.3 L28 286.8 L30 286.5 L32 286.3 L34 286.2 L36 286.2 L38 286.2 L40 286.2 L42 286.3 L44 286.3 L46 286.4 L48 286.4 L50 286.5 L52 286.6 L54 286.6 L56 286.8 L58 287 L60 287.2 L62 287.6 L64 288 L66 288.6 L68 289.1 L70 289.8 L72 290.5 L74 291.3 L76 292 L78 292.7 L80 293.4 L82 294.1 L84 294.7 L86 295.3 L88 295.8 L90 296.3 L92 296.8 L94 297.4 L96 297.9 L98 298.5 L100 299.1"/>
</g></g>
<rect x="11" y="6" width="8.3" height="7.8" fill="#fff"/>
<text x="15.2" y="12.8" font-family="'Liberation Serif', 'DejaVu Serif', serif" font-weight="bold" font-size="9.5" text-anchor="middle" fill="#000">a</text>
<text x="52" y="12.6" font-family="'Liberation Serif', 'DejaVu Serif', serif" font-weight="bold" font-size="9" text-anchor="middle" fill="#fff">t = 1 h</text>
<text x="11.2" y="82.8" font-family="'Liberation Sans', 'DejaVu Sans', sans-serif" font-weight="bold" font-size="6.1" fill="#fff">100 nm</text>
<rect x="11.3" y="84.5" width="12.7" height="1" fill="#fff" fill-opacity="0.9"/>
<rect x="11" y="98.5" width="8.3" height="7.8" fill="#fff"/>
<text x="15.2" y="105.3" font-family="'Liberation Serif', 'DejaVu Serif', serif" font-weight="bold" font-size="9.5" text-anchor="middle" fill="#000">b</text>
<text x="52" y="105.1" font-family="'Liberation Serif', 'DejaVu Serif', serif" font-weight="bold" font-size="9" text-anchor="middle" fill="#fff">t = 2 h</text>
<text x="11.2" y="175.3" font-family="'Liberation Sans', 'DejaVu Sans', sans-serif" font-weight="bold" font-size="6.1" fill="#fff">100 nm</text>
<rect x="11.3" y="177" width="12.7" height="1" fill="#fff" fill-opacity="0.9"/>
<rect x="11" y="190.5" width="8.3" height="7.8" fill="#fff"/>
<text x="15.2" y="197.3" font-family="'Liberation Serif', 'DejaVu Serif', serif" font-weight="bold" font-size="9.5" text-anchor="middle" fill="#000">c</text>
<text x="52" y="197.1" font-family="'Liberation Serif', 'DejaVu Serif', serif" font-weight="bold" font-size="9" text-anchor="middle" fill="#fff">t = 7 d</text>
<text x="11.2" y="267.3" font-family="'Liberation Sans', 'DejaVu Sans', sans-serif" font-weight="bold" font-size="6.1" fill="#fff">100 nm</text>
<rect x="11.3" y="269" width="12.7" height="1" fill="#fff" fill-opacity="0.9"/>
<rect x="50.7" y="87.3" width="3.2" height="4.4" fill="#000"/>
<path d="M47.6 91.2 L57 91.2 L52.3 96.2 Z" fill="#000"/>
<rect x="50.7" y="179.8" width="3.2" height="3.9" fill="#000"/>
<path d="M47.6 183.2 L57 183.2 L52.3 188.2 Z" fill="#000"/>
<g stroke="#111" stroke-width="1.15" stroke-dasharray="3 1.5" fill="none"><path d="M120 194 L85.5 226.5 L120.5 259"/></g>
<circle cx="85.8" cy="226" r="1.1" fill="#000"/>
<g clip-path="url(#cD)">
<rect x="104" y="4" width="85" height="80.5" fill="#0000fe"/>
<g filter="url(#blurH)">
<ellipse cx="121.8" cy="69" rx="24" ry="18.5" fill="#0050ff"/>
<ellipse cx="121.8" cy="69" rx="22" ry="16.5" fill="#0098ff"/>
<ellipse cx="121.8" cy="69" rx="20.5" ry="14.5" fill="#00d0f0"/>
<ellipse cx="121.8" cy="69" rx="19" ry="12.5" fill="#00e890"/>
<ellipse cx="121.8" cy="69" rx="17.5" ry="10.8" fill="#30f020"/>
<ellipse cx="121.8" cy="69" rx="15.8" ry="9.0" fill="#a0f800"/>
<ellipse cx="121.8" cy="69" rx="14.5" ry="7.6" fill="#ffff00"/>
<ellipse cx="121.8" cy="69" rx="13.3" ry="6.4" fill="#ffb000"/>
<ellipse cx="121.8" cy="69" rx="12.2" ry="5.3" fill="#ff2000"/>
<ellipse cx="121.8" cy="69" rx="11.2" ry="4.6" fill="#ff0000"/>
</g>
<line x1="121.8" y1="69" x2="104" y2="84.5" stroke="#206868" stroke-width="0.7"/>
<circle cx="121.8" cy="69" r="0.9" fill="#70d070"/>
</g>
<rect x="105.7" y="6.5" width="8.3" height="7.6" fill="#fff"/>
<text x="109.9" y="13.1" font-family="'Liberation Serif', 'DejaVu Serif', serif" font-weight="bold" font-size="9.5" text-anchor="middle" fill="#000">d</text>
<g stroke="#fff" stroke-width="1" fill="#fff">
<line x1="165.4" y1="12" x2="165.4" y2="22.7"/><line x1="165.4" y1="22.7" x2="177" y2="22.7"/>
<path d="M163.6 12.5 L165.4 9.5 L167.2 12.5 Z" stroke="none"/>
<path d="M176.5 20.9 L179.5 22.7 L176.5 24.5 Z" stroke="none"/>
</g>
<text x="160.5" y="19" font-family="'Liberation Serif', 'DejaVu Serif', serif" font-style="italic" font-weight="bold" font-size="5.5" fill="#fff" text-anchor="middle">q<tspan font-size="3.5" dy="1">z</tspan></text>
<text x="171" y="29.5" font-family="'Liberation Serif', 'DejaVu Serif', serif" font-style="italic" font-weight="bold" font-size="5.5" fill="#fff" text-anchor="middle">q<tspan font-size="3.5" dy="1">⊥</tspan></text>
<g clip-path="url(#cE)">
<rect x="189" y="4" width="84.5" height="40" fill="url(#gE)"/>
<circle cx="231" cy="44" r="32" fill="url(#gE2)"/>
<rect x="189" y="4" width="84.5" height="40" filter="url(#temF)" opacity="0.10" style="mix-blend-mode:multiply"/>
<path d="M229 17.2 A 27.5 27 0 0 1 258 35.5" stroke="#e85000" stroke-opacity="0.6" stroke-width="1.1" fill="none" filter="url(#blur05)"/>
<ellipse cx="231.2" cy="44" rx="9.2" ry="6.8" fill="#1010ff"/>
</g>
<rect x="191.5" y="6.3" width="8.3" height="7.8" fill="#fff"/>
<text x="195.7" y="13.1" font-family="'Liberation Serif', 'DejaVu Serif', serif" font-weight="bold" font-size="9.5" text-anchor="middle" fill="#000">e</text>
<g stroke="#fff" stroke-width="0.9" fill="none"><path d="M222.5 35.5 L231 44 L239.5 35.5"/></g>
<path d="M221.3 34.4 l2.8 0.3 l-1.6 1.6 Z M240.7 34.4 l-2.8 0.3 l1.6 1.6 Z" fill="#fff"/>
<text x="222.6" y="42" font-family="'Liberation Serif', 'DejaVu Serif', serif" font-style="italic" font-size="4.5" fill="#fff">q</text>
<text x="237.6" y="42" font-family="'Liberation Serif', 'DejaVu Serif', serif" font-style="italic" font-size="4.5" fill="#fff">q</text>
<rect x="189" y="44" width="84.5" height="2" fill="#d8d8d8"/>
<g clip-path="url(#cF)">
<rect x="189" y="46" width="84.5" height="38" filter="url(#temF)"/>
<circle cx="231" cy="86" r="42" fill="url(#gF)"/>
</g>
<rect x="191.5" y="48.3" width="8.3" height="7.8" fill="#fff"/>
<text x="195.7" y="55.1" font-family="'Liberation Serif', 'DejaVu Serif', serif" font-weight="bold" font-size="9.5" text-anchor="middle" fill="#000">f</text>
<g stroke="#fff" stroke-width="0.9" fill="none"><path d="M222.5 75.5 L231 84 L239.5 75.5"/></g>
<path d="M221.3 74.4 l2.8 0.3 l-1.6 1.6 Z M240.7 74.4 l-2.8 0.3 l1.6 1.6 Z" fill="#fff"/>
<text x="222.6" y="82" font-family="'Liberation Serif', 'DejaVu Serif', serif" font-style="italic" font-size="4.5" fill="#fff">q</text>
<text x="237.6" y="82" font-family="'Liberation Serif', 'DejaVu Serif', serif" font-style="italic" font-size="4.5" fill="#fff">q</text>
<rect x="123.5" y="93.5" width="150.2" height="25.2" fill="none" stroke="#333" stroke-width="0.8"/>
<text x="132.9" y="126.3" font-family="'Liberation Serif', 'DejaVu Serif', serif" font-size="6.2" text-anchor="middle" fill="#333">0.2</text>
<text x="151.7" y="126.3" font-family="'Liberation Serif', 'DejaVu Serif', serif" font-size="6.2" text-anchor="middle" fill="#333">0.4</text>
<text x="170.4" y="126.3" font-family="'Liberation Serif', 'DejaVu Serif', serif" font-size="6.2" text-anchor="middle" fill="#333">0.6</text>
<text x="189.2" y="126.3" font-family="'Liberation Serif', 'DejaVu Serif', serif" font-size="6.2" text-anchor="middle" fill="#333">0.8</text>
<text x="208" y="126.3" font-family="'Liberation Serif', 'DejaVu Serif', serif" font-size="6.2" text-anchor="middle" fill="#333">1.0</text>
<text x="226.8" y="126.3" font-family="'Liberation Serif', 'DejaVu Serif', serif" font-size="6.2" text-anchor="middle" fill="#333">1.2</text>
<text x="245.5" y="126.3" font-family="'Liberation Serif', 'DejaVu Serif', serif" font-size="6.2" text-anchor="middle" fill="#333">1.4</text>
<text x="264.3" y="126.3" font-family="'Liberation Serif', 'DejaVu Serif', serif" font-size="6.2" text-anchor="middle" fill="#333">1.6</text>
<path d="M132.9 118.7 v-1.6 M132.9 93.5 v1.6 M151.7 118.7 v-1.6 M151.7 93.5 v1.6 M170.4 118.7 v-1.6 M170.4 93.5 v1.6 M189.2 118.7 v-1.6 M189.2 93.5 v1.6 M208 118.7 v-1.6 M208 93.5 v1.6 M226.8 118.7 v-1.6 M226.8 93.5 v1.6 M245.5 118.7 v-1.6 M245.5 93.5 v1.6 M264.3 118.7 v-1.6 M264.3 93.5 v1.6 M123.5 98 h1.6 M273.7 98 h-1.6 M123.5 114 h1.6 M273.7 114 h-1.6" stroke="#333" stroke-width="0.6" fill="none"/>
<text x="119.8" y="99.6" font-family="'Liberation Serif', 'DejaVu Serif', serif" font-size="5.4" text-anchor="end" fill="#333">1</text>
<text x="119.8" y="115.6" font-family="'Liberation Serif', 'DejaVu Serif', serif" font-size="5.4" text-anchor="end" fill="#333">0.1</text>
<text transform="translate(107.3 106.1) rotate(-90)" font-family="'Liberation Serif', 'DejaVu Serif', serif" font-size="5.2" text-anchor="middle" fill="#333">I(<tspan font-style="italic">q</tspan>) (a.u.)</text>
<text x="198.5" y="133.5" font-family="'Liberation Serif', 'DejaVu Serif', serif" font-size="6.2" text-anchor="middle" fill="#333"><tspan font-style="italic">q</tspan><tspan font-size="4" dy="1">z</tspan><tspan dy="-1"> (Å</tspan><tspan font-size="4" dy="-2.5">−1</tspan><tspan dy="2.5">)</tspan></text>
<path d="M123.5 102.8 L123.8 101.4 L124.2 101 L124.5 101.6 L124.9 102.2 L125.2 103.8 L125.6 103.8 L125.9 103.2 L126.3 102.6 L126.6 102.9 L127 103.2 L127.3 105 L127.7 104.5 L128 105.9 L128.4 106 L128.7 106 L129.1 105.4 L129.4 106.4 L129.8 104.9 L130.1 105 L130.5 106.3 L130.8 106.3 L131.2 105.8 L131.5 106 L131.9 105.7 L132.2 108 L132.6 107.7 L132.9 108.4 L133.3 108.5 L133.6 107.3 L134 108.1 L134.3 107.3 L134.7 108.4 L135 108.5 L135.4 106.9 L135.7 106.7 L136.1 107.2 L136.4 108.2 L136.8 107.7 L137.1 106.7 L137.5 108.6 L137.8 108.2 L138.2 107.2 L138.5 106.1 L138.9 108.4 L139.2 107.9 L139.6 107.2 L139.9 108.1 L140.3 109 L140.6 109.8 L141 108.9 L141.3 109.4 L141.7 108.6 L142 108.8 L142.4 110.6 L142.7 109.5 L143.1 108.9 L143.4 110.3 L143.8 109.3 L144.1 109.6 L144.5 110.4 L144.8 110.9 L145.2 111.1 L145.5 111.5 L145.9 111 L146.2 110.2 L146.6 112 L146.9 110.5 L147.3 111.6 L147.6 111.6 L148 112.4 L148.3 112.6 L148.7 111.6 L149 112.7 L149.4 112.9 L149.7 112.5 L150.1 111.8 L150.4 113.8 L150.8 113.1 L151.1 112 L151.5 112.5 L151.8 114.4 L152.2 112.6 L152.5 113.1 L152.9 114.1 L153.2 114.2 L153.6 113.8 L153.9 114.2 L154.3 112.5 L154.6 112.7 L155 114.9 L155.3 114.5 L155.7 112.8 L156 112.9 L156.4 113.6 L156.7 114.7 L157.1 113.7 L157.4 114.4 L157.8 114.9 L158.1 114.5 L158.5 115 L158.8 114 L159.2 113.8 L159.5 113.6 L159.9 114.9 L160.2 113.9 L160.6 115.3 L160.9 114.9 L161.3 114.1 L161.6 115.1 L162 114.1 L162.3 114.7 L162.7 114.1 L163 115.2 L163.4 115.4 L163.7 115.5 L164.1 114 L164.4 115.4 L164.8 115 L165.1 115.4 L165.5 115 L165.8 115.2 L166.2 115.2 L166.5 115.5 L166.9 114.4 L167.2 114.4 L167.6 115.2 L167.9 114.8 L168.3 115 L168.6 114.4 L169 115.6 L169.3 114.5 L169.7 115.8 L170 115.8 L170.4 115.2 L170.7 114.7 L171.1 115.5 L171.4 114.8 L171.8 115.1 L172.1 114.6 L172.5 116 L172.8 115.3 L173.2 114.9 L173.5 114.5 L173.9 115.5 L174.2 115.7 L174.6 115.7 L174.9 114.4 L175.3 114.9 L175.6 114.7 L176 115.5 L176.3 114.5 L176.7 115.2 L177 115.8 L177.4 115.4 L177.7 114.2 L178.1 114.3 L178.4 114.3 L178.8 115.2 L179.1 115 L179.5 114.8 L179.8 114.7 L180.2 114.5 L180.5 114.8 L180.9 114.8 L181.2 115.2 L181.6 114.8 L181.9 114.8 L182.3 115 L182.6 114.8 L183 114.5 L183.3 113.4 L183.7 114.4 L184 114.6 L184.4 113.8 L184.7 114.3 L185.1 113.5 L185.4 114.2 L185.8 113.6 L186.1 113.8 L186.5 113.3 L186.8 113.3 L187.2 113.3 L187.5 113.2 L187.9 112.9 L188.2 113.1 L188.6 113.6 L188.9 113.2 L189.3 113.4 L189.6 113.2 L190 113.2 L190.3 113.3 L190.7 112.9 L191 112.4 L191.4 112.3 L191.7 112.4 L192.1 111.9 L192.4 112 L192.8 112.6 L193.1 112.6 L193.5 111.9 L193.8 112.3 L194.2 112.2 L194.5 112.3 L194.9 112.1 L195.2 111.7 L195.6 111.2 L195.9 111.9 L196.3 111.3 L196.6 111.5 L197 111.2 L197.3 111.3 L197.7 111.7 L198 110.8 L198.4 111.1 L198.7 111.1 L199.1 110.9 L199.4 111.3 L199.8 110.7 L200.1 111.1 L200.5 110.8 L200.8 111 L201.2 110.1 L201.5 110.2 L201.9 110.2 L202.2 110.8 L202.6 109.8 L202.9 110 L203.3 110.4 L203.6 110.7 L204 109.8 L204.3 110 L204.7 110.2 L205 110.2 L205.4 110.2 L205.7 110.2 L206.1 109.6 L206.4 109.6 L206.8 109.3 L207.1 109.9 L207.5 109.4 L207.8 109.4 L208.2 110.1 L208.5 109.7 L208.9 109.6 L209.2 109.7 L209.6 109.6 L209.9 109.7 L210.3 109.3 L210.6 109 L211 109 L211.3 109 L211.7 109.3 L212 109.1 L212.4 109 L212.7 109.4 L213.1 109.8 L213.4 109.5 L213.8 109.1 L214.1 109.6 L214.5 109 L214.8 108.9 L215.2 109.2 L215.5 109.3 L215.9 109.6 L216.2 109.4 L216.6 109.7 L216.9 109.1 L217.3 110 L217.6 109.4 L218 110 L218.3 109.2 L218.7 110 L219 109.4 L219.4 110.1 L219.7 110.1 L220.1 110 L220.4 109.6 L220.8 109.4 L221.1 109.6 L221.5 110.4 L221.8 109.6 L222.2 110.2 L222.5 110.2 L222.9 110.3 L223.2 109.9 L223.6 109.9 L223.9 109.9 L224.3 110.9 L224.6 110.4 L225 110.7 L225.3 110.7 L225.7 110.4 L226 110.3 L226.4 110.3 L226.7 111.2 L227.1 110.5 L227.4 111.4 L227.8 110.9 L228.1 111.3 L228.5 110.8 L228.8 111.5 L229.2 111 L229.5 111.2 L229.9 111.4 L230.2 111.1 L230.6 111.3 L230.9 111.9 L231.3 111.4 L231.6 111.6 L232 112 L232.3 111.5 L232.7 111.5 L233 111.6 L233.4 111.8 L233.7 111.9 L234.1 112.2 L234.4 112.1 L234.8 112.6 L235.1 111.8 L235.5 112.5 L235.8 112.7 L236.2 112.1 L236.5 111.9 L236.9 112.4 L237.2 112.1 L237.6 112.4 L237.9 112.7 L238.3 112.1 L238.6 112.1 L239 112.5 L239.3 112.2 L239.7 112.3 L240 112.5 L240.4 112.2 L240.7 112.2 L241.1 112.5 L241.4 112.5 L241.8 112.5 L242.1 110.8 L242.5 108.4 L242.8 107.2 L243.2 108.5 L243.5 110.3 L243.9 112.2 L244.2 113 L244.6 113.1 L244.9 112.4 L245.3 113.2 L245.6 112.8 L246 112.6 L246.3 112.4 L246.7 112.8 L247 111.2 L247.4 109.3 L247.7 108 L248.1 108.9 L248.4 110.2 L248.8 112.1 L249.1 112.3 L249.5 112.9 L249.8 112.8 L250.2 112.7 L250.5 113.2 L250.9 112.9 L251.2 112.6 L251.6 113.5 L251.9 113 L252.3 112.7 L252.6 112.6 L253 113.2 L253.3 113.1 L253.7 112.6 L254 113 L254.4 113.2 L254.7 112.6 L255.1 111.7 L255.4 111.2 L255.8 110.9 L256.1 111.2 L256.5 111.4 L256.8 112.8 L257.2 113.4 L257.5 113.4 L257.9 113.6 L258.2 113.1 L258.6 113.6 L258.9 112.9 L259.3 113 L259.6 113.4 L260 113.7 L260.3 112.9 L260.7 113 L261 112.8 L261.4 113.3 L261.7 113 L262.1 113 L262.4 113.6 L262.8 113.4 L263.1 113.8 L263.5 113.3 L263.8 113.6 L264.2 112.9 L264.5 113.8 L264.9 113.1 L265.2 113.4 L265.6 113.4 L265.9 113.8 L266.3 113.4 L266.6 113.9 L267 113.5 L267.3 113.1 L267.7 113.7 L268 113.1 L268.4 113.9 L268.7 113.3 L269.1 113.1 L269.4 113.8 L269.8 113.2 L270.1 113.2 L270.5 113.2 L270.8 113.5 L271.2 112.8 L271.5 113.2 L271.9 113 L272.2 113.6 L272.6 112.8 L272.9 113.4 L273.3 113.1 L273.6 113.3" stroke="#f00" stroke-width="1.05" fill="none" stroke-linejoin="round"/>
<text x="107" y="92" font-family="'Liberation Serif', 'DejaVu Serif', serif" font-weight="bold" font-size="10" fill="#000">g</text>
<rect x="123.5" y="141.2" width="150.2" height="25.3" fill="none" stroke="#333" stroke-width="0.8"/>
<text x="132.9" y="174.1" font-family="'Liberation Serif', 'DejaVu Serif', serif" font-size="6.2" text-anchor="middle" fill="#333">0.2</text>
<text x="151.7" y="174.1" font-family="'Liberation Serif', 'DejaVu Serif', serif" font-size="6.2" text-anchor="middle" fill="#333">0.4</text>
<text x="170.4" y="174.1" font-family="'Liberation Serif', 'DejaVu Serif', serif" font-size="6.2" text-anchor="middle" fill="#333">0.6</text>
<text x="189.2" y="174.1" font-family="'Liberation Serif', 'DejaVu Serif', serif" font-size="6.2" text-anchor="middle" fill="#333">0.8</text>
<text x="208" y="174.1" font-family="'Liberation Serif', 'DejaVu Serif', serif" font-size="6.2" text-anchor="middle" fill="#333">1.0</text>
<text x="226.8" y="174.1" font-family="'Liberation Serif', 'DejaVu Serif', serif" font-size="6.2" text-anchor="middle" fill="#333">1.2</text>
<text x="245.5" y="174.1" font-family="'Liberation Serif', 'DejaVu Serif', serif" font-size="6.2" text-anchor="middle" fill="#333">1.4</text>
<text x="264.3" y="174.1" font-family="'Liberation Serif', 'DejaVu Serif', serif" font-size="6.2" text-anchor="middle" fill="#333">1.6</text>
<path d="M132.9 166.5 v-1.6 M132.9 141.2 v1.6 M151.7 166.5 v-1.6 M151.7 141.2 v1.6 M170.4 166.5 v-1.6 M170.4 141.2 v1.6 M189.2 166.5 v-1.6 M189.2 141.2 v1.6 M208 166.5 v-1.6 M208 141.2 v1.6 M226.8 166.5 v-1.6 M226.8 141.2 v1.6 M245.5 166.5 v-1.6 M245.5 141.2 v1.6 M264.3 166.5 v-1.6 M264.3 141.2 v1.6 M123.5 145.5 h1.6 M273.7 145.5 h-1.6 M123.5 161.5 h1.6 M273.7 161.5 h-1.6" stroke="#333" stroke-width="0.6" fill="none"/>
<text x="119.8" y="147.1" font-family="'Liberation Serif', 'DejaVu Serif', serif" font-size="5.4" text-anchor="end" fill="#333">1</text>
<text x="119.8" y="163.1" font-family="'Liberation Serif', 'DejaVu Serif', serif" font-size="5.4" text-anchor="end" fill="#333">0.1</text>
<text transform="translate(107.3 153.8) rotate(-90)" font-family="'Liberation Serif', 'DejaVu Serif', serif" font-size="5.2" text-anchor="middle" fill="#333">I(<tspan font-style="italic">q</tspan>) (a.u.)</text>
<text x="198.5" y="180" font-family="'Liberation Serif', 'DejaVu Serif', serif" font-size="6.2" text-anchor="middle" fill="#333"><tspan font-style="italic">q</tspan><tspan font-size="4" dy="1">⊥</tspan><tspan dy="-1"> (Å</tspan><tspan font-size="4" dy="-2.5">−1</tspan><tspan dy="2.5">)</tspan></text>
<path d="M123.5 148.6 L123.8 149 L124.2 148.6 L124.5 149 L124.9 149.1 L125.2 150.4 L125.6 149.7 L125.9 150 L126.3 150.7 L126.6 151 L127 151.7 L127.3 151 L127.7 151.4 L128 151.6 L128.4 152.4 L128.7 152.5 L129.1 152.7 L129.4 153.5 L129.8 153.5 L130.1 154 L130.5 154.4 L130.8 153.8 L131.2 154.8 L131.5 154.5 L131.9 154.3 L132.2 155.6 L132.6 154.8 L132.9 155 L133.3 155.6 L133.6 155.8 L134 156.8 L134.3 156.7 L134.7 156.3 L135 156.4 L135.4 156.8 L135.7 156.6 L136.1 156.1 L136.4 155.3 L136.8 154 L137.1 153.1 L137.5 152.3 L137.8 150.9 L138.2 150.1 L138.5 149.6 L138.9 149.8 L139.2 149.5 L139.6 150.4 L139.9 152.7 L140.3 153.6 L140.6 153.7 L141 155.9 L141.3 155.3 L141.7 155.9 L142 156.7 L142.4 157.5 L142.7 158.2 L143.1 157 L143.4 159 L143.8 159 L144.1 158.9 L144.5 159.6 L144.8 160.1 L145.2 158.1 L145.5 159.5 L145.9 160.1 L146.2 160.4 L146.6 160.3 L146.9 159.3 L147.3 161.4 L147.6 161.1 L148 159.8 L148.3 160.5 L148.7 162 L149 160.2 L149.4 160.8 L149.7 162.4 L150.1 162.3 L150.4 160.6 L150.8 162 L151.1 161.1 L151.5 161.9 L151.8 162.2 L152.2 160.6 L152.5 160.9 L152.9 161 L153.2 161.2 L153.6 160.6 L153.9 161 L154.3 161.7 L154.6 161.8 L155 161 L155.3 162.3 L155.7 163.3 L156 162.4 L156.4 162.1 L156.7 162.6 L157.1 162.3 L157.4 162 L157.8 162.4 L158.1 161.9 L158.5 162.7 L158.8 162.1 L159.2 162.4 L159.5 163.1 L159.9 162.9 L160.2 163 L160.6 162.8 L160.9 162.8 L161.3 162.9 L161.6 163.3 L162 162.4 L162.3 163.1 L162.7 162.6 L163 162.6 L163.4 163.2 L163.7 163 L164.1 163.3 L164.4 163.4 L164.8 163.1 L165.1 162.7 L165.5 162.5 L165.8 163.1 L166.2 163.4 L166.5 162.9 L166.9 162.8 L167.2 162.7 L167.6 162.9 L167.9 163.6 L168.3 162.8 L168.6 163.1 L169 163.2 L169.3 163.7 L169.7 164.1 L170 163 L170.4 163.2 L170.7 164.1 L171.1 164.1 L171.4 163.1 L171.8 163.3 L172.1 163.5 L172.5 163.2 L172.8 163.2 L173.2 163 L173.5 162.2 L173.9 161.3 L174.2 161.1 L174.6 161.5 L174.9 162.1 L175.3 163.1 L175.6 163.4 L176 162.9 L176.3 163.5 L176.7 163.4 L177 163 L177.4 163.1 L177.7 162.7 L178.1 163.5 L178.4 163.1 L178.8 162.5 L179.1 162.6 L179.5 163.1 L179.8 162.7 L180.2 163 L180.5 162.4 L180.9 163 L181.2 163 L181.6 162.1 L181.9 162.6 L182.3 162.1 L182.6 162.6 L183 162.7 L183.3 162.6 L183.7 161.9 L184 161.7 L184.4 162.3 L184.7 162.1 L185.1 161.6 L185.4 161.6 L185.8 162 L186.1 161.4 L186.5 161.9 L186.8 161.4 L187.2 161.3 L187.5 161.4 L187.9 161.4 L188.2 161.6 L188.6 160.7 L188.9 161.4 L189.3 160.7 L189.6 160.7 L190 161 L190.3 161 L190.7 160.8 L191 161 L191.4 160.1 L191.7 160.2 L192.1 160.5 L192.4 159.9 L192.8 159.7 L193.1 159.7 L193.5 160.2 L193.8 160.2 L194.2 160 L194.5 160.2 L194.9 159.9 L195.2 159.3 L195.6 159.2 L195.9 159.6 L196.3 158.8 L196.6 159.3 L197 158.6 L197.3 158.5 L197.7 158.9 L198 158.5 L198.4 159.2 L198.7 159.1 L199.1 158.6 L199.4 158.2 L199.8 158 L200.1 158.4 L200.5 158.3 L200.8 158.1 L201.2 158.4 L201.5 158.1 L201.9 158.4 L202.2 157.6 L202.6 157.5 L202.9 157.7 L203.3 157.8 L203.6 157.5 L204 157.9 L204.3 157.3 L204.7 157.4 L205 157.5 L205.4 157.7 L205.7 157.7 L206.1 157.2 L206.4 157.2 L206.8 157.7 L207.1 157.6 L207.5 157.2 L207.8 156.6 L208.2 156.9 L208.5 157.1 L208.9 156.7 L209.2 156.4 L209.6 157.4 L209.9 157.3 L210.3 156.4 L210.6 156.8 L211 156.9 L211.3 156.6 L211.7 156.3 L212 157 L212.4 157 L212.7 156.6 L213.1 156.2 L213.4 156.5 L213.8 156.2 L214.1 157.1 L214.5 156.1 L214.8 156.3 L215.2 156.8 L215.5 156.1 L215.9 156.1 L216.2 156 L216.6 156.1 L216.9 156.5 L217.3 156.8 L217.6 156.1 L218 156.1 L218.3 156.8 L218.7 156.4 L219 156.4 L219.4 156.2 L219.7 156.3 L220.1 157.2 L220.4 156.3 L220.8 156.5 L221.1 157 L221.5 157.2 L221.8 157.3 L222.2 156.8 L222.5 157.4 L222.9 157 L223.2 156.7 L223.6 157 L223.9 157.3 L224.3 157.3 L224.6 156.7 L225 156.8 L225.3 157.7 L225.7 156.8 L226 157.6 L226.4 157.1 L226.7 157 L227.1 157.1 L227.4 157.4 L227.8 158 L228.1 157.1 L228.5 158 L228.8 157.4 L229.2 157.3 L229.5 158 L229.9 157.6 L230.2 157.5 L230.6 157.8 L230.9 158.3 L231.3 158.4 L231.6 158.2 L232 157.6 L232.3 158.5 L232.7 158.4 L233 158.8 L233.4 158.9 L233.7 158.3 L234.1 158.9 L234.4 158.9 L234.8 158.4 L235.1 158.5 L235.5 158.6 L235.8 158.6 L236.2 158.7 L236.5 158.5 L236.9 158.7 L237.2 159.5 L237.6 159 L237.9 159.3 L238.3 159.6 L238.6 159.5 L239 159 L239.3 159.8 L239.7 159.7 L240 160 L240.4 159.8 L240.7 159.9 L241.1 160 L241.4 159.4 L241.8 159.9 L242.1 159.6 L242.5 160.1 L242.8 159.4 L243.2 159.9 L243.5 159.7 L243.9 160.2 L244.2 159.7 L244.6 160.3 L244.9 160.4 L245.3 160.4 L245.6 159.7 L246 160.6 L246.3 160.4 L246.7 160.3 L247 160.4 L247.4 159.7 L247.7 160.7 L248.1 160.3 L248.4 160.3 L248.8 160.2 L249.1 160.7 L249.5 160.7 L249.8 160.9 L250.2 160.2 L250.5 160.3 L250.9 160.3 L251.2 160.1 L251.6 160.4 L251.9 160.1 L252.3 161 L252.6 160.4 L253 160.3 L253.3 160.3 L253.7 161.1 L254 160.5 L254.4 160.8 L254.7 160.8 L255.1 161.3 L255.4 161.5 L255.8 160.8 L256.1 161.2 L256.5 161.5 L256.8 161.1 L257.2 161.5 L257.5 161.4 L257.9 160.9 L258.2 161.5 L258.6 161.2 L258.9 160.7 L259.3 161.2 L259.6 161.5 L260 161.2 L260.3 161.1 L260.7 161.1 L261 161.6 L261.4 161.3 L261.7 160.8 L262.1 161 L262.4 161 L262.8 161.7 L263.1 161.4 L263.5 160.8 L263.8 161.6 L264.2 160.7 L264.5 161.3 L264.9 161.1 L265.2 161.4 L265.6 161.1 L265.9 160.8 L266.3 161.2 L266.6 161.6 L267 161.5 L267.3 161.1 L267.7 160.9 L268 161.5 L268.4 161.6 L268.7 160.9 L269.1 161.7 L269.4 161.8 L269.8 161.2 L270.1 161.1 L270.5 161.5 L270.8 161.7 L271.2 160.9 L271.5 161.1 L271.9 161.1 L272.2 161.5 L272.6 160.9 L272.9 161.3 L273.3 161.3 L273.6 161.5" stroke="#f00" stroke-width="1.05" fill="none" stroke-linejoin="round"/>
<text x="107" y="140.5" font-family="'Liberation Serif', 'DejaVu Serif', serif" font-weight="bold" font-size="10" fill="#000">h</text>
<text x="224" y="101.6" font-family="'Liberation Serif', 'DejaVu Serif', serif" font-size="6.6" text-anchor="start" fill="#222">(100)</text>
<text x="241.5" y="100.2" font-family="'Liberation Serif', 'DejaVu Serif', serif" font-size="6.6" text-anchor="start" fill="#222">(101)</text>
<text x="249.5" y="109" font-family="'Liberation Serif', 'DejaVu Serif', serif" font-size="6.6" text-anchor="start" fill="#222">(102)</text>
<path d="M236.5 101 L241 105.5 M247.3 101.5 L247.3 105" stroke="#000" stroke-width="0.6"/>
<path d="M242 106.6 L239.2 105.3 L240.9 103.8 Z M247.3 106.3 L246.3 104 L248.3 104 Z" fill="#000"/>
<text x="133" y="147.2" font-family="'Liberation Serif', 'DejaVu Serif', serif" font-size="6.6" text-anchor="start" fill="#222">(001)</text>
<g stroke="#000" stroke-width="1.1" fill="none"><path d="M128.5 217.1 V200.5 M128.5 217.1 L138.6 207 M128.5 217.1 H140.5"/></g>
<path d="M126.6 201.2 L128.5 197.6 L130.4 201.2 Z M136.9 205.6 L140.8 204.8 L140 208.7 Z M139.8 215.2 L143.4 217.1 L139.8 219 Z" fill="#000"/>
<text x="130.4" y="201.6" font-family="'Liberation Serif', 'DejaVu Serif', serif" font-size="8.6" fill="#000">b</text>
<text x="140.6" y="208.4" font-family="'Liberation Serif', 'DejaVu Serif', serif" font-size="8.6" fill="#000">a</text>
<text x="142.3" y="223.4" font-family="'Liberation Serif', 'DejaVu Serif', serif" font-size="8.6" fill="#000">c</text>
<defs><linearGradient id="gCyl" x1="0" y1="0" x2="0" y2="1"><stop offset="0" stop-color="#9a9a9a"/><stop offset="0.2" stop-color="#909090"/><stop offset="0.75" stop-color="#868686"/><stop offset="1" stop-color="#9c9c9c"/></linearGradient><filter id="soft" x="-10%" y="-10%" width="120%" height="120%"><feGaussianBlur stdDeviation="0.7"/></filter></defs>
<g filter="url(#soft)">
<g transform="translate(153.4 251.2) rotate(-47.30)">
<rect x="-19" y="-19" width="92.7" height="38" rx="19" ry="19" fill="url(#gCyl)"/>
</g>
<path d="M143.5 243 L163.3 243 L202.3 198 L182.5 198 Z" fill="#7c7c7c"/>
<path d="M163.3 243 L163.3 260.5 L202.3 215.5 L202.3 198 Z" fill="#6c6c6c"/>
<path d="M163.3 243 L202.3 198" stroke="#b8b8b8" stroke-width="0.6"/>
<g transform="translate(153.4 251.2) rotate(-47.30)">
<rect x="-19" y="-19" width="92.7" height="38" rx="19" ry="19" fill="#c8c8c8" fill-opacity="0.15" stroke="#c4c4c4" stroke-opacity="0.5" stroke-width="1.2"/>
</g>
<circle cx="153.4" cy="251.2" r="18.2" fill="#d0d0d0" fill-opacity="0.6" stroke="#adadad" stroke-width="0.8"/>
</g>
<rect x="143.5" y="243" width="19.8" height="17.5" fill="#f4eef2"/>
<path d="M143.5 243.3 L144.5 244.5 L145.5 243.3 L146.5 244.5 L147.5 243.3 L148.4 244.5 L149.4 243.3 L150.4 244.5 L151.4 243.3 L152.4 244.5 L153.4 243.3 L154.4 244.5 L155.4 243.3 L156.4 244.5 L157.4 243.3 L158.3 244.5 L159.3 243.3 L160.3 244.5 L161.3 243.3 L162.3 244.5 L163.3 243.3" stroke="#e87080" stroke-width="0.55" fill="none" opacity="0.85"/>
<path d="M143.5 245.3 L144.5 246.4 L145.5 245.3 L146.5 246.4 L147.5 245.3 L148.4 246.4 L149.4 245.3 L150.4 246.4 L151.4 245.3 L152.4 246.4 L153.4 245.3 L154.4 246.4 L155.4 245.3 L156.4 246.4 L157.4 245.3 L158.3 246.4 L159.3 245.3 L160.3 246.4 L161.3 245.3 L162.3 246.4 L163.3 245.3" stroke="#e87080" stroke-width="0.55" fill="none" opacity="0.85"/>
<path d="M143.5 247.2 L144.5 248.4 L145.5 247.2 L146.5 248.4 L147.5 247.2 L148.4 248.4 L149.4 247.2 L150.4 248.4 L151.4 247.2 L152.4 248.4 L153.4 247.2 L154.4 248.4 L155.4 247.2 L156.4 248.4 L157.4 247.2 L158.3 248.4 L159.3 247.2 L160.3 248.4 L161.3 247.2 L162.3 248.4 L163.3 247.2" stroke="#e87080" stroke-width="0.55" fill="none" opacity="0.85"/>
<path d="M143.5 249.2 L144.5 250.3 L145.5 249.2 L146.5 250.3 L147.5 249.2 L148.4 250.3 L149.4 249.2 L150.4 250.3 L151.4 249.2 L152.4 250.3 L153.4 249.2 L154.4 250.3 L155.4 249.2 L156.4 250.3 L157.4 249.2 L158.3 250.3 L159.3 249.2 L160.3 250.3 L161.3 249.2 L162.3 250.3 L163.3 249.2" stroke="#e87080" stroke-width="0.55" fill="none" opacity="0.85"/>
<path d="M143.5 251.2 L144.5 252.3 L145.5 251.2 L146.5 252.3 L147.5 251.2 L148.4 252.3 L149.4 251.2 L150.4 252.3 L151.4 251.2 L152.4 252.3 L153.4 251.2 L154.4 252.3 L155.4 251.2 L156.4 252.3 L157.4 251.2 L158.3 252.3 L159.3 251.2 L160.3 252.3 L161.3 251.2 L162.3 252.3 L163.3 251.2" stroke="#e87080" stroke-width="0.55" fill="none" opacity="0.85"/>
<path d="M143.5 253.1 L144.5 254.2 L145.5 253.1 L146.5 254.2 L147.5 253.1 L148.4 254.2 L149.4 253.1 L150.4 254.2 L151.4 253.1 L152.4 254.2 L153.4 253.1 L154.4 254.2 L155.4 253.1 L156.4 254.2 L157.4 253.1 L158.3 254.2 L159.3 253.1 L160.3 254.2 L161.3 253.1 L162.3 254.2 L163.3 253.1" stroke="#e87080" stroke-width="0.55" fill="none" opacity="0.85"/>
<path d="M143.5 255 L144.5 256.1 L145.5 255 L146.5 256.1 L147.5 255 L148.4 256.1 L149.4 255 L150.4 256.1 L151.4 255 L152.4 256.1 L153.4 255 L154.4 256.1 L155.4 255 L156.4 256.1 L157.4 255 L158.3 256.1 L159.3 255 L160.3 256.1 L161.3 255 L162.3 256.1 L163.3 255" stroke="#e87080" stroke-width="0.55" fill="none" opacity="0.85"/>
<path d="M143.5 257 L144.5 258.1 L145.5 257 L146.5 258.1 L147.5 257 L148.4 258.1 L149.4 257 L150.4 258.1 L151.4 257 L152.4 258.1 L153.4 257 L154.4 258.1 L155.4 257 L156.4 258.1 L157.4 257 L158.3 258.1 L159.3 257 L160.3 258.1 L161.3 257 L162.3 258.1 L163.3 257" stroke="#e87080" stroke-width="0.55" fill="none" opacity="0.85"/>
<path d="M143.5 258.9 L144.5 260.1 L145.5 258.9 L146.5 260.1 L147.5 258.9 L148.4 260.1 L149.4 258.9 L150.4 260.1 L151.4 258.9 L152.4 260.1 L153.4 258.9 L154.4 260.1 L155.4 258.9 L156.4 260.1 L157.4 258.9 L158.3 260.1 L159.3 258.9 L160.3 260.1 L161.3 258.9 L162.3 260.1 L163.3 258.9" stroke="#e87080" stroke-width="0.55" fill="none" opacity="0.85"/>
<rect x="148.2" y="243.3" width="1.1" height="17" fill="#5050d0" opacity="0.85"/>
<rect x="153.2" y="243.3" width="1.1" height="17" fill="#5050d0" opacity="0.85"/>
<rect x="158.0" y="243.3" width="1.1" height="17" fill="#5050d0" opacity="0.85"/>
<g fill="none" stroke-width="0.9" stroke-linecap="round" stroke-linejoin="round">
<path d="M204 247.6 L210.2 247.6 L213.1 243.3 L221.8 248.4 L227 244.9" stroke="#7c7c7c"/>
<path d="M212.4 243.5 V238 M213.9 243.5 V238" stroke="#7c7c7c" stroke-width="0.6"/>
<path d="M209.3 242.3 Q205.2 248.6 209.3 255" stroke="#7c7c7c" stroke-width="0.8"/>
<path d="M229.8 248.6 V252.4" stroke="#7c7c7c" stroke-width="0.8"/>
<path d="M232.6 242.3 Q236.7 248.6 232.6 255" stroke="#7c7c7c" stroke-width="0.8"/>
<path d="M231.5 245.6 L240.7 246.3 L246.5 246.9 L254.5 244 L259.8 247" stroke="#2424e0"/>
<path d="M245.8 247.3 V253.2 M247.2 247.3 V253.2" stroke="#2424e0" stroke-width="0.6"/>
<path d="M244.4 241.6 Q239.8 248.4 244.4 255.4" stroke="#2424e0" stroke-width="1"/>
<path d="M266.2 241.6 Q270.8 248.4 266.2 255.4" stroke="#2424e0" stroke-width="1"/>
<path d="M264.3 246.4 L274.2 243.3" stroke="#2424e0"/>
<path d="M224.6 185 L232.1 190.6 L232.1 198.1 L239.5 203.8 L239.5 211.3 L246.9 216.9 L246.9 224.4 L254.4 230 L254.4 234.6 L262.4 240.4 L262.4 244.6" stroke="#e02424" stroke-width="1.3"/>
</g>
<text x="213.1" y="238" font-family="'Liberation Sans', 'DejaVu Sans', sans-serif" font-size="5.6" text-anchor="middle" fill="#7c7c7c">O</text>
<text x="229.2" y="247.6" font-family="'Liberation Sans', 'DejaVu Sans', sans-serif" font-size="5.6" text-anchor="middle" fill="#7c7c7c">N</text>
<text x="237.2" y="257.4" font-family="'Liberation Sans', 'DejaVu Sans', sans-serif" font-size="5.8" text-anchor="middle" fill="#7c7c7c">m</text>
<text x="246.6" y="259.4" font-family="'Liberation Sans', 'DejaVu Sans', sans-serif" font-size="5.6" text-anchor="middle" fill="#2424e0">O</text>
<text x="262" y="250.4" font-family="'Liberation Sans', 'DejaVu Sans', sans-serif" font-size="5.6" text-anchor="middle" fill="#2424e0">N</text>
<text x="270" y="257.4" font-family="'Liberation Sans', 'DejaVu Sans', sans-serif" font-size="5.8" text-anchor="middle" fill="#2424e0">n</text>
<text x="198.3" y="271" font-family="'Liberation Sans', 'DejaVu Sans', sans-serif" font-weight="bold" font-size="7.6" fill="#000">where m = 100, n = 20</text>
<rect x="308" y="4.3" width="127.7" height="108.9" fill="none" stroke="#333" stroke-width="0.8"/>
<path d="M313.5 113.2 v-1.5 M313.5 4.3 v1.5 M327.4 113.2 v-1.5 M327.4 4.3 v1.5 M337.2 113.2 v-1.5 M337.2 4.3 v1.5 M344.8 113.2 v-1.5 M344.8 4.3 v1.5 M351 113.2 v-1.5 M351 4.3 v1.5 M356.2 113.2 v-1.5 M356.2 4.3 v1.5 M360.8 113.2 v-1.5 M360.8 4.3 v1.5 M364.8 113.2 v-1.5 M364.8 4.3 v1.5 M368.4 113.2 v-2.6 M368.4 4.3 v2.6 M392 113.2 v-1.5 M392 4.3 v1.5 M405.9 113.2 v-1.5 M405.9 4.3 v1.5 M415.7 113.2 v-1.5 M415.7 4.3 v1.5 M423.3 113.2 v-1.5 M423.3 4.3 v1.5 M429.5 113.2 v-1.5 M429.5 4.3 v1.5 M434.7 113.2 v-1.5 M434.7 4.3 v1.5 M308 16.9 h2.4 M435.7 16.9 h-2.4 M308 41.8 h2.4 M435.7 41.8 h-2.4 M308 66.8 h2.4 M435.7 66.8 h-2.4 M308 91.8 h2.4 M435.7 91.8 h-2.4 M308 109.3 h1.3 M435.7 109.3 h-1.3 M308 104.9 h1.3 M435.7 104.9 h-1.3 M308 101.7 h1.3 M435.7 101.7 h-1.3 M308 99.3 h1.3 M435.7 99.3 h-1.3 M308 97.3 h1.3 M435.7 97.3 h-1.3 M308 95.7 h1.3 M435.7 95.7 h-1.3 M308 94.2 h1.3 M435.7 94.2 h-1.3 M308 92.9 h1.3 M435.7 92.9 h-1.3 M308 84.3 h1.3 M435.7 84.3 h-1.3 M308 79.9 h1.3 M435.7 79.9 h-1.3 M308 76.7 h1.3 M435.7 76.7 h-1.3 M308 74.3 h1.3 M435.7 74.3 h-1.3 M308 72.3 h1.3 M435.7 72.3 h-1.3 M308 70.7 h1.3 M435.7 70.7 h-1.3 M308 69.2 h1.3 M435.7 69.2 h-1.3 M308 67.9 h1.3 M435.7 67.9 h-1.3 M308 59.3 h1.3 M435.7 59.3 h-1.3 M308 54.9 h1.3 M435.7 54.9 h-1.3 M308 51.7 h1.3 M435.7 51.7 h-1.3 M308 49.3 h1.3 M435.7 49.3 h-1.3 M308 47.3 h1.3 M435.7 47.3 h-1.3 M308 45.7 h1.3 M435.7 45.7 h-1.3 M308 44.2 h1.3 M435.7 44.2 h-1.3 M308 42.9 h1.3 M435.7 42.9 h-1.3 M308 34.3 h1.3 M435.7 34.3 h-1.3 M308 29.9 h1.3 M435.7 29.9 h-1.3 M308 26.7 h1.3 M435.7 26.7 h-1.3 M308 24.3 h1.3 M435.7 24.3 h-1.3 M308 22.3 h1.3 M435.7 22.3 h-1.3 M308 20.7 h1.3 M435.7 20.7 h-1.3 M308 19.2 h1.3 M435.7 19.2 h-1.3 M308 17.9 h1.3 M435.7 17.9 h-1.3 M308 9.3 h1.3 M435.7 9.3 h-1.3 M308 4.9 h1.3 M435.7 4.9 h-1.3" stroke="#333" stroke-width="0.5" fill="none"/>
<text x="313.5" y="119.2" font-family="'Liberation Serif', 'DejaVu Serif', serif" font-size="4.8" text-anchor="middle" fill="#333">2</text>
<text x="327.4" y="119.2" font-family="'Liberation Serif', 'DejaVu Serif', serif" font-size="4.8" text-anchor="middle" fill="#333">3</text>
<text x="337.2" y="119.2" font-family="'Liberation Serif', 'DejaVu Serif', serif" font-size="4.8" text-anchor="middle" fill="#333">4</text>
<text x="344.8" y="119.2" font-family="'Liberation Serif', 'DejaVu Serif', serif" font-size="4.8" text-anchor="middle" fill="#333">5</text>
<text x="351" y="119.2" font-family="'Liberation Serif', 'DejaVu Serif', serif" font-size="4.8" text-anchor="middle" fill="#333">6</text>
<text x="356.2" y="119.2" font-family="'Liberation Serif', 'DejaVu Serif', serif" font-size="4.8" text-anchor="middle" fill="#333">7</text>
<text x="360.8" y="119.2" font-family="'Liberation Serif', 'DejaVu Serif', serif" font-size="4.8" text-anchor="middle" fill="#333">8</text>
<text x="364.8" y="119.2" font-family="'Liberation Serif', 'DejaVu Serif', serif" font-size="4.8" text-anchor="middle" fill="#333">9</text>
<text x="392" y="119.2" font-family="'Liberation Serif', 'DejaVu Serif', serif" font-size="4.8" text-anchor="middle" fill="#333">2</text>
<text x="405.9" y="119.2" font-family="'Liberation Serif', 'DejaVu Serif', serif" font-size="4.8" text-anchor="middle" fill="#333">3</text>
<text x="415.7" y="119.2" font-family="'Liberation Serif', 'DejaVu Serif', serif" font-size="4.8" text-anchor="middle" fill="#333">4</text>
<text x="423.3" y="119.2" font-family="'Liberation Serif', 'DejaVu Serif', serif" font-size="4.8" text-anchor="middle" fill="#333">5</text>
<text x="429.5" y="119.2" font-family="'Liberation Serif', 'DejaVu Serif', serif" font-size="4.8" text-anchor="middle" fill="#333">6</text>
<text x="434.7" y="119.2" font-family="'Liberation Serif', 'DejaVu Serif', serif" font-size="4.8" text-anchor="middle" fill="#333">7</text>
<text x="368.6" y="124.2" font-family="'Liberation Serif', 'DejaVu Serif', serif" font-size="6.2" text-anchor="middle" fill="#333">0.01</text>
<text x="372.5" y="134.2" font-family="'Liberation Serif', 'DejaVu Serif', serif" font-size="6.6" text-anchor="middle" fill="#333"><tspan font-style="italic">q</tspan> (Å<tspan font-size="4" dy="-2.5">−1</tspan><tspan dy="2.5">)</tspan></text>
<text x="305.4" y="19.1" font-family="'Liberation Serif', 'DejaVu Serif', serif" font-size="6.6" text-anchor="end" fill="#333">100</text>
<text x="305.4" y="44" font-family="'Liberation Serif', 'DejaVu Serif', serif" font-size="6.6" text-anchor="end" fill="#333">10</text>
<text x="305.4" y="69" font-family="'Liberation Serif', 'DejaVu Serif', serif" font-size="6.6" text-anchor="end" fill="#333">1</text>
<text x="305.4" y="94" font-family="'Liberation Serif', 'DejaVu Serif', serif" font-size="6.6" text-anchor="end" fill="#333">0.1</text>
<text transform="translate(288.6 54) rotate(-90)" font-family="'Liberation Serif', 'DejaVu Serif', serif" font-size="6" text-anchor="middle" fill="#333">I(<tspan font-style="italic">q</tspan>) (cm<tspan font-size="4" dy="-2.2">−1</tspan><tspan dy="2.2">)</tspan></text>
<text x="284.5" y="14.5" font-family="'Liberation Serif', 'DejaVu Serif', serif" font-weight="bold" font-size="10" fill="#000">i</text>
<g fill="none" stroke-width="1.45" stroke-linejoin="round" clip-path="url(#cI1)">
<defs><clipPath id="cI1"><rect x="308" y="4.3" width="127.69999999999999" height="108.9"/></clipPath></defs>
<path d="M308 54.2 L308.8 56.4 L309.6 57.3 L310.4 57.3 L311.2 58.5 L312 58.1 L312.8 60.1 L313.6 60.2 L314.4 61.3 L315.2 62.2 L316 62 L316.8 63.7 L317.6 63.1 L318.4 63.4 L319.2 65 L320 66.3 L320.8 67 L321.6 67.7 L322.4 67.5 L323.2 68.9 L324 68.8 L324.8 68.7 L325.6 70.1 L326.4 71 L327.2 70.9 L328 71.8 L328.8 71.7 L329.6 72.3 L330.4 73.1 L331.2 73.8 L332 74.3 L332.8 74.1 L333.6 74.5 L334.4 75.6 L335.2 76.7 L336 77.3 L336.8 76.8 L337.6 77.3 L338.4 78.3 L339.2 78.1 L340 79.3 L340.8 80.3 L341.6 79.5 L342.4 80.6 L343.2 81.3 L344 81.7 L344.8 82.1 L345.6 82.5 L346.4 82.1 L347.2 83.5 L348 84 L348.8 82.8 L349.6 84.8 L350.4 84.3 L351.2 84 L352 84.3 L352.8 86 L353.6 86.1 L354.4 85.5 L355.2 86.4 L356 87 L356.8 88 L357.6 87.1 L358.4 88.2 L359.2 87.5 L360 87.8 L360.8 88 L361.6 88.7 L362.4 89.4 L363.2 89.1 L364 89.1 L364.8 89.5 L365.6 89.5 L366.4 89.9 L367.2 90.4 L368 91 L368.8 90.7 L369.6 91.5 L370.4 91.6 L371.2 92.8 L372 92.2 L372.8 93.2 L373.6 92.6 L374.4 92.3 L375.2 93.2 L376 92.6 L376.8 92.9 L377.6 92.9 L378.4 94.3 L379.2 94.9 L380 94.1 L380.8 94.2 L381.6 94.5 L382.4 94.6 L383.2 95.4 L384 95 L384.8 94.8 L385.6 96.2 L386.4 95.9 L387.2 95 L388 96.7 L388.8 96.7 L389.6 96.2 L390.4 96.8 L391.2 97.5 L392 96.7 L392.8 96.9 L393.6 96.8 L394.4 97.4 L395.2 97.8 L396 98.1 L396.8 98.6 L397.6 97.3 L398.4 97.8 L399.2 98.9 L400 98.9 L400.8 98.7 L401.6 99 L402.4 98.5 L403.2 99.7 L404 99.2 L404.8 99 L405.6 98.8 L406.4 98.8 L407.2 100.3 L408 100.3 L408.8 99 L409.6 99.7 L410.4 100.1 L411.2 100.3 L412 100.2 L412.8 101.3 L413.6 100.4 L414.4 100.9 L415.2 101.7 L416 101.3 L416.8 101.2 L417.6 101.1 L418.4 101.3 L419.2 101.8 L420 102.3 L420.8 101.5 L421.6 101.8 L422.4 102 L423.2 102.1 L424 103.2 L424.8 102.7 L425.6 102.4 L426.4 102.6 L427.2 103.7 L428 102.6 L428.8 103.7 L429.6 102.7 L430.4 103.1 L431.2 103.1 L432 104.6 L432.8 103.5 L433.6 103.9 L434.4 103.7 L435.2 104.3" stroke="#1010e0"/>
<path d="M308 53.4 L308.8 53.8 L309.6 54.4 L310.4 54.8 L311.2 54.7 L312 55.5 L312.8 54.9 L313.6 56.3 L314.4 56.1 L315.2 56.1 L316 57.2 L316.8 57.7 L317.6 57.5 L318.4 57.5 L319.2 58.9 L320 59.1 L320.8 59.3 L321.6 60.1 L322.4 59.4 L323.2 59.8 L324 60.2 L324.8 60.5 L325.6 61.7 L326.4 62 L327.2 61.8 L328 62.2 L328.8 62.6 L329.6 63.5 L330.4 64 L331.2 64.7 L332 64.4 L332.8 65.5 L333.6 65.2 L334.4 65.6 L335.2 65.8 L336 66.2 L336.8 67.4 L337.6 67.8 L338.4 67.9 L339.2 67.6 L340 68 L340.8 68.4 L341.6 69 L342.4 69.9 L343.2 69.4 L344 70.4 L344.8 71 L345.6 70.6 L346.4 71.4 L347.2 72.3 L348 72.4 L348.8 72.6 L349.6 73.5 L350.4 73.6 L351.2 73.7 L352 74.1 L352.8 75.2 L353.6 75.4 L354.4 75.9 L355.2 75.9 L356 75.8 L356.8 76.2 L357.6 76.8 L358.4 77.6 L359.2 77.1 L360 78.5 L360.8 78.9 L361.6 78.9 L362.4 78.7 L363.2 80 L364 80 L364.8 80.6 L365.6 80.9 L366.4 81.5 L367.2 81.5 L368 82.5 L368.8 82.9 L369.6 83.3 L370.4 83.3 L371.2 83.3 L372 83.8 L372.8 84 L373.6 85.2 L374.4 85.4 L375.2 85.8 L376 86.2 L376.8 86.8 L377.6 86.8 L378.4 86.7 L379.2 87.7 L380 87.4 L380.8 88.2 L381.6 88.1 L382.4 89.3 L383.2 89.2 L384 89.3 L384.8 90.5 L385.6 89.9 L386.4 91.3 L387.2 91.4 L388 91.1 L388.8 92.2 L389.6 92.3 L390.4 93.1 L391.2 93.1 L392 93.3 L392.8 94.2 L393.6 93.6 L394.4 94.8 L395.2 94.4 L396 94.9 L396.8 95.1 L397.6 96.4 L398.4 96.2 L399.2 96.9 L400 96.7 L400.8 97.6 L401.6 97.8 L402.4 97.5 L403.2 98.3 L404 98.9 L404.8 98.7 L405.6 99.5 L406.4 99.4 L407.2 99.8 L408 100.8 L408.8 101.1 L409.6 101.5 L410.4 101.1 L411.2 101.5 L412 102.1 L412.8 102.3 L413.6 102.2 L414.4 103 L415.2 102.7 L416 103.6 L416.8 103.2 L417.6 103 L418.4 104 L419.2 103.5 L420 104.4 L420.8 103.8 L421.6 105.1 L422.4 104.8 L423.2 105.2 L424 104.6 L424.8 105.4 L425.6 105.2 L426.4 105.2 L427.2 106 L428 105.2 L428.8 105.8 L429.6 105.4 L430.4 106.4 L431.2 106.6 L432 105.6 L432.8 106.1 L433.6 106.2 L434.4 106.5 L435.2 106.5" stroke="#10c8d8"/>
<path d="M308 45.1 L308.8 45.8 L309.6 45.5 L310.4 45.7 L311.2 46.4 L312 46.2 L312.8 46.5 L313.6 46.9 L314.4 47.1 L315.2 47.2 L316 48 L316.8 47.9 L317.6 48.4 L318.4 48.3 L319.2 49 L320 48.8 L320.8 49.5 L321.6 49.6 L322.4 50.1 L323.2 50.3 L324 50.4 L324.8 50.7 L325.6 51.2 L326.4 51.2 L327.2 51.2 L328 52.1 L328.8 52.3 L329.6 52.5 L330.4 52.9 L331.2 52.8 L332 53.3 L332.8 53.8 L333.6 54.2 L334.4 54.5 L335.2 54.3 L336 55 L336.8 55.2 L337.6 55.4 L338.4 55.6 L339.2 55.9 L340 56.5 L340.8 56.8 L341.6 57 L342.4 57.4 L343.2 57.9 L344 58.4 L344.8 58.6 L345.6 58.7 L346.4 59.5 L347.2 59.5 L348 60.3 L348.8 60.7 L349.6 60.5 L350.4 61.2 L351.2 61.8 L352 61.8 L352.8 62.3 L353.6 62.5 L354.4 62.7 L355.2 63.2 L356 63.6 L356.8 64.1 L357.6 64.8 L358.4 65.1 L359.2 65.8 L360 66 L360.8 66.2 L361.6 67.1 L362.4 67.3 L363.2 67.6 L364 68.3 L364.8 68.6 L365.6 68.8 L366.4 69.5 L367.2 69.7 L368 70.6 L368.8 70.6 L369.6 71.5 L370.4 71.4 L371.2 71.8 L372 72.7 L372.8 72.9 L373.6 73.6 L374.4 73.8 L375.2 74.8 L376 75.2 L376.8 75.7 L377.6 76.4 L378.4 76.9 L379.2 77.2 L380 77.8 L380.8 77.8 L381.6 78.4 L382.4 79.2 L383.2 80.1 L384 80.1 L384.8 80.9 L385.6 81 L386.4 81.9 L387.2 82.8 L388 83.1 L388.8 83.8 L389.6 83.8 L390.4 84.6 L391.2 85.1 L392 86.2 L392.8 86.2 L393.6 87.4 L394.4 87.5 L395.2 88.6 L396 88.9 L396.8 89.4 L397.6 90.4 L398.4 90.6 L399.2 91.4 L400 91.6 L400.8 92.7 L401.6 93.4 L402.4 93.3 L403.2 94.4 L404 94.6 L404.8 95.1 L405.6 95.8 L406.4 96.6 L407.2 97.3 L408 97.9 L408.8 98.4 L409.6 98.7 L410.4 99.2 L411.2 99.4 L412 100.2 L412.8 100.6 L413.6 100.9 L414.4 101.8 L415.2 101.8 L416 102.1 L416.8 102.5 L417.6 102.9 L418.4 103.6 L419.2 104.1 L420 104 L420.8 104.6 L421.6 105 L422.4 105.3 L423.2 105.5 L424 105.8 L424.8 105.7 L425.6 105.9 L426.4 106.4 L427.2 106.4 L428 106.9 L428.8 106.7 L429.6 107.2 L430.4 106.9 L431.2 106.9 L432 107.2 L432.8 107.1 L433.6 107 L434.4 107.3 L435.2 106.9" stroke="#10e010"/>
<path d="M308 32.8 L308.8 33.1 L309.6 33.3 L310.4 33.5 L311.2 33.8 L312 34 L312.8 34.2 L313.6 34.4 L314.4 34.7 L315.2 34.9 L316 35.1 L316.8 35.3 L317.6 35.6 L318.4 35.8 L319.2 36 L320 36.2 L320.8 36.5 L321.6 36.7 L322.4 36.9 L323.2 37.1 L324 37.4 L324.8 37.6 L325.6 37.8 L326.4 38 L327.2 38.3 L328 38.5 L328.8 38.7 L329.6 39 L330.4 39.2 L331.2 39.5 L332 39.7 L332.8 39.9 L333.6 40.2 L334.4 40.4 L335.2 40.7 L336 41 L336.8 41.2 L337.6 41.5 L338.4 41.8 L339.2 42 L340 42.3 L340.8 42.6 L341.6 42.9 L342.4 43.2 L343.2 43.5 L344 43.8 L344.8 44.1 L345.6 44.4 L346.4 44.7 L347.2 45 L348 45.3 L348.8 45.7 L349.6 46 L350.4 46.3 L351.2 46.7 L352 47 L352.8 47.4 L353.6 47.8 L354.4 48.1 L355.2 48.5 L356 48.9 L356.8 49.3 L357.6 49.7 L358.4 50.1 L359.2 50.5 L360 50.9 L360.8 51.4 L361.6 51.8 L362.4 52.3 L363.2 52.7 L364 53.2 L364.8 53.6 L365.6 54.1 L366.4 54.6 L367.2 55.1 L368 55.6 L368.8 56.1 L369.6 56.7 L370.4 57.2 L371.2 57.7 L372 58.3 L372.8 58.9 L373.6 59.4 L374.4 60 L375.2 60.6 L376 61.2 L376.8 61.9 L377.6 62.5 L378.4 63.1 L379.2 63.8 L380 64.4 L380.8 65.1 L381.6 65.8 L382.4 66.5 L383.2 67.2 L384 67.9 L384.8 68.7 L385.6 69.4 L386.4 70.2 L387.2 71 L388 71.8 L388.8 72.6 L389.6 73.4 L390.4 74.2 L391.2 75 L392 75.9 L392.8 76.7 L393.6 77.6 L394.4 78.5 L395.2 79.4 L396 80.3 L396.8 81.2 L397.6 82.1 L398.4 83 L399.2 83.9 L400 84.8 L400.8 85.7 L401.6 86.6 L402.4 87.5 L403.2 88.4 L404 89.3 L404.8 90.2 L405.6 91 L406.4 91.9 L407.2 92.8 L408 93.6 L408.8 94.4 L409.6 95.3 L410.4 96.1 L411.2 96.9 L412 97.6 L412.8 98.4 L413.6 99.1 L414.4 99.8 L415.2 100.5 L416 101.2 L416.8 101.9 L417.6 102.5 L418.4 103.1 L419.2 103.6 L420 104.2 L420.8 104.7 L421.6 105.2 L422.4 105.6 L423.2 106 L424 106.4 L424.8 106.8 L425.6 107.1 L426.4 107.4 L427.2 107.6 L428 107.8 L428.8 108 L429.6 108.1 L430.4 108.1 L431.2 108.2 L432 108.2 L432.8 108.1 L433.6 108 L434.4 107.8 L435.2 107.6" stroke="#000000"/>
<path d="M308 22.7 L308.8 23 L309.6 23.2 L310.4 23.5 L311.2 23.8 L312 24 L312.8 24.3 L313.6 24.6 L314.4 24.8 L315.2 25.1 L316 25.4 L316.8 25.6 L317.6 25.9 L318.4 26.2 L319.2 26.4 L320 26.7 L320.8 27 L321.6 27.2 L322.4 27.5 L323.2 27.8 L324 28 L324.8 28.3 L325.6 28.6 L326.4 28.8 L327.2 29.1 L328 29.4 L328.8 29.6 L329.6 29.9 L330.4 30.2 L331.2 30.5 L332 30.7 L332.8 31 L333.6 31.3 L334.4 31.6 L335.2 31.8 L336 32.1 L336.8 32.4 L337.6 32.7 L338.4 33 L339.2 33.2 L340 33.5 L340.8 33.8 L341.6 34.1 L342.4 34.4 L343.2 34.7 L344 35 L344.8 35.3 L345.6 35.6 L346.4 35.9 L347.2 36.2 L348 36.5 L348.8 36.8 L349.6 37.1 L350.4 37.4 L351.2 37.7 L352 38 L352.8 38.3 L353.6 38.7 L354.4 39 L355.2 39.3 L356 39.6 L356.8 39.9 L357.6 40.3 L358.4 40.6 L359.2 40.9 L360 41.3 L360.8 41.6 L361.6 42 L362.4 42.3 L363.2 42.7 L364 43 L364.8 43.4 L365.6 43.8 L366.4 44.2 L367.2 44.6 L368 45 L368.8 45.4 L369.6 45.8 L370.4 46.2 L371.2 46.7 L372 47.1 L372.8 47.6 L373.6 48.1 L374.4 48.6 L375.2 49.2 L376 49.7 L376.8 50.3 L377.6 50.8 L378.4 51.4 L379.2 52.1 L380 52.7 L380.8 53.4 L381.6 54.1 L382.4 54.8 L383.2 55.5 L384 56.3 L384.8 57.1 L385.6 57.9 L386.4 58.8 L387.2 59.6 L388 60.5 L388.8 61.5 L389.6 62.4 L390.4 63.4 L391.2 64.5 L392 65.5 L392.8 66.6 L393.6 67.7 L394.4 68.8 L395.2 70 L396 71.2 L396.8 72.3 L397.6 73.5 L398.4 74.7 L399.2 75.9 L400 77.2 L400.8 78.4 L401.6 79.6 L402.4 80.8 L403.2 82 L404 83.2 L404.8 84.4 L405.6 85.6 L406.4 86.8 L407.2 88 L408 89.1 L408.8 90.2 L409.6 91.3 L410.4 92.4 L411.2 93.4 L412 94.4 L412.8 95.3 L413.6 96.3 L414.4 97.2 L415.2 98 L416 98.8 L416.8 99.6 L417.6 100.4 L418.4 101.1 L419.2 101.8 L420 102.5 L420.8 103.1 L421.6 103.7 L422.4 104.2 L423.2 104.8 L424 105.3 L424.8 105.7 L425.6 106.1 L426.4 106.5 L427.2 106.9 L428 107.2 L428.8 107.5 L429.6 107.7 L430.4 107.9 L431.2 108.1 L432 108.2 L432.8 108.3 L433.6 108.4 L434.4 108.4 L435.2 108.4" stroke="#c8c000"/>
<path d="M308 12.9 L308.8 13.1 L309.6 13.4 L310.4 13.7 L311.2 13.9 L312 14.2 L312.8 14.4 L313.6 14.7 L314.4 14.9 L315.2 15.1 L316 15.4 L316.8 15.6 L317.6 15.9 L318.4 16.1 L319.2 16.3 L320 16.6 L320.8 16.8 L321.6 17 L322.4 17.3 L323.2 17.5 L324 17.7 L324.8 18 L325.6 18.2 L326.4 18.5 L327.2 18.7 L328 18.9 L328.8 19.2 L329.6 19.4 L330.4 19.7 L331.2 19.9 L332 20.2 L332.8 20.4 L333.6 20.7 L334.4 20.9 L335.2 21.2 L336 21.4 L336.8 21.7 L337.6 22 L338.4 22.2 L339.2 22.5 L340 22.8 L340.8 23.1 L341.6 23.4 L342.4 23.7 L343.2 24 L344 24.3 L344.8 24.6 L345.6 24.9 L346.4 25.2 L347.2 25.5 L348 25.9 L348.8 26.2 L349.6 26.6 L350.4 26.9 L351.2 27.3 L352 27.6 L352.8 28 L353.6 28.4 L354.4 28.8 L355.2 29.1 L356 29.5 L356.8 30 L357.6 30.4 L358.4 30.8 L359.2 31.2 L360 31.7 L360.8 32.1 L361.6 32.6 L362.4 33 L363.2 33.5 L364 34 L364.8 34.5 L365.6 35 L366.4 35.5 L367.2 36.1 L368 36.6 L368.8 37.2 L369.6 37.7 L370.4 38.3 L371.2 38.9 L372 39.5 L372.8 40.1 L373.6 40.7 L374.4 41.3 L375.2 42 L376 42.6 L376.8 43.3 L377.6 44 L378.4 44.7 L379.2 45.4 L380 46.1 L380.8 46.8 L381.6 47.6 L382.4 48.4 L383.2 49.1 L384 49.9 L384.8 50.8 L385.6 51.6 L386.4 52.4 L387.2 53.3 L388 54.2 L388.8 55.1 L389.6 56 L390.4 57 L391.2 57.9 L392 58.9 L392.8 59.9 L393.6 60.9 L394.4 62 L395.2 63.1 L396 64.3 L396.8 65.5 L397.6 66.7 L398.4 68 L399.2 69.4 L400 70.8 L400.8 72.3 L401.6 73.8 L402.4 75.4 L403.2 77 L404 78.6 L404.8 80.3 L405.6 81.9 L406.4 83.6 L407.2 85.3 L408 86.9 L408.8 88.6 L409.6 90.2 L410.4 91.7 L411.2 93.2 L412 94.6 L412.8 96 L413.6 97.3 L414.4 98.5 L415.2 99.6 L416 100.7 L416.8 101.6 L417.6 102.4 L418.4 103.1 L419.2 103.7 L420 104.2 L420.8 104.7 L421.6 105.1 L422.4 105.4 L423.2 105.7 L424 106 L424.8 106.2 L425.6 106.4 L426.4 106.5 L427.2 106.7 L428 106.8 L428.8 107 L429.6 107.1 L430.4 107.3 L431.2 107.5 L432 107.7 L432.8 108 L433.6 108.3 L434.4 108.7 L435.2 109.1" stroke="#c0101a"/>
</g>
<path d="M320.4 12.4 L340.4 18.9 M316.3 67.8 L331.2 79.8" stroke="#333" stroke-width="0.85"/>
<text x="332.2" y="13.3" font-family="'Liberation Serif', 'DejaVu Serif', serif" font-size="7" text-anchor="middle" fill="#333">−1</text>
<text x="317.2" y="81" font-family="'Liberation Serif', 'DejaVu Serif', serif" font-size="7" text-anchor="middle" fill="#333">−2.5</text>
<rect x="392" y="4.3" width="43.7" height="43.8" fill="#fff" stroke="#333" stroke-width="0.6"/>
<circle cx="400.3" cy="8.8" r="2.1" fill="none" stroke="#5050e0" stroke-width="0.6"/>
<text x="408.8" y="11.1" font-family="'Liberation Serif', 'DejaVu Serif', serif" font-size="6.9" fill="#222">0 min</text>
<circle cx="400.3" cy="15.6" r="2.1" fill="none" stroke="#50d0d8" stroke-width="0.6"/>
<text x="408.8" y="17.9" font-family="'Liberation Serif', 'DejaVu Serif', serif" font-size="6.9" fill="#222">48 min</text>
<circle cx="400.3" cy="22.3" r="2.1" fill="none" stroke="#50d050" stroke-width="0.6"/>
<text x="408.8" y="24.6" font-family="'Liberation Serif', 'DejaVu Serif', serif" font-size="6.9" fill="#222">98 min</text>
<circle cx="400.3" cy="29.1" r="2.1" fill="none" stroke="#444" stroke-width="0.6"/>
<text x="408.8" y="31.4" font-family="'Liberation Serif', 'DejaVu Serif', serif" font-size="6.9" fill="#222">208 min</text>
<circle cx="400.3" cy="35.8" r="2.1" fill="none" stroke="#c8c840" stroke-width="0.6"/>
<text x="408.8" y="38.1" font-family="'Liberation Serif', 'DejaVu Serif', serif" font-size="6.9" fill="#222">472 min</text>
<circle cx="400.3" cy="42.5" r="2.1" fill="none" stroke="#e05050" stroke-width="0.6"/>
<text x="408.8" y="44.8" font-family="'Liberation Serif', 'DejaVu Serif', serif" font-size="6.9" fill="#222">~ 15 days</text>
<rect x="307.8" y="141.3" width="127.9" height="111" fill="none" stroke="#333" stroke-width="0.8"/>
<path d="M317.3 252.3 v-1.3 M317.3 141.3 v1.3 M333.3 252.3 v-2.2 M333.3 141.3 v2.2 M349.3 252.3 v-1.3 M349.3 141.3 v1.3 M365.3 252.3 v-2.2 M365.3 141.3 v2.2 M381.3 252.3 v-1.3 M381.3 141.3 v1.3 M397.3 252.3 v-2.2 M397.3 141.3 v2.2 M413.3 252.3 v-1.3 M413.3 141.3 v1.3 M429.3 252.3 v-2.2 M429.3 141.3 v2.2 M307.8 141.8 h2.2 M435.7 141.8 h-2.2 M307.8 162.5 h2.2 M435.7 162.5 h-2.2 M307.8 183.2 h2.2 M435.7 183.2 h-2.2 M307.8 204 h2.2 M435.7 204 h-2.2 M307.8 224.7 h2.2 M435.7 224.7 h-2.2 M307.8 245.4 h2.2 M435.7 245.4 h-2.2" stroke="#333" stroke-width="0.5" fill="none"/>
<text x="333.3" y="259.6" font-family="'Liberation Serif', 'DejaVu Serif', serif" font-size="6.6" text-anchor="middle" fill="#333">0.4</text>
<text x="365.3" y="259.6" font-family="'Liberation Serif', 'DejaVu Serif', serif" font-size="6.6" text-anchor="middle" fill="#333">0.8</text>
<text x="397.3" y="259.6" font-family="'Liberation Serif', 'DejaVu Serif', serif" font-size="6.6" text-anchor="middle" fill="#333">1.2</text>
<text x="429.3" y="259.6" font-family="'Liberation Serif', 'DejaVu Serif', serif" font-size="6.6" text-anchor="middle" fill="#333">1.6</text>
<text x="305.4" y="144" font-family="'Liberation Serif', 'DejaVu Serif', serif" font-size="6.6" text-anchor="end" fill="#333">100</text>
<text x="305.4" y="164.7" font-family="'Liberation Serif', 'DejaVu Serif', serif" font-size="6.6" text-anchor="end" fill="#333">10</text>
<text x="305.4" y="185.4" font-family="'Liberation Serif', 'DejaVu Serif', serif" font-size="6.6" text-anchor="end" fill="#333">1</text>
<text x="305.4" y="206.2" font-family="'Liberation Serif', 'DejaVu Serif', serif" font-size="6.6" text-anchor="end" fill="#333">0.1</text>
<text x="305.4" y="226.9" font-family="'Liberation Serif', 'DejaVu Serif', serif" font-size="6.6" text-anchor="end" fill="#333">0.01</text>
<text x="305.4" y="247.6" font-family="'Liberation Serif', 'DejaVu Serif', serif" font-size="6.6" text-anchor="end" fill="#333">0.001</text>
<text x="372.5" y="269.6" font-family="'Liberation Serif', 'DejaVu Serif', serif" font-size="6.6" text-anchor="middle" fill="#333"><tspan font-style="italic">q</tspan> (Å<tspan font-size="4" dy="-2.5">−1</tspan><tspan dy="2.5">)</tspan></text>
<text transform="translate(284.5 193.5) rotate(-90)" font-family="'Liberation Serif', 'DejaVu Serif', serif" font-size="6" text-anchor="middle" fill="#333">I(<tspan font-style="italic">q</tspan>) (a.u.)</text>
<g fill="none" stroke-width="1.3" stroke-linejoin="round">
<path d="M308 148.7 L308.4 149.3 L309 149.8 L309.7 150.6 L310.4 151.7 L311.2 152.5 L312 153.2 L312.8 154.1 L313.6 154.9 L314.4 155.8 L315.3 156.4 L316.2 157.5 L317.1 158.1 L318 158.8 L318.8 159.5 L319.5 160.3 L320.1 160.3 L320.5 160.4 L320.8 160.3 L321 160 L321.1 159.9 L321.1 159.5 L321.2 159 L321.3 158.3 L321.5 157.1 L321.7 155.8 L322 155.1 L322.3 154.7 L322.5 155.3 L322.9 157.3 L323.2 159 L323.6 160.7 L324 161.4 L324.5 161.8 L325 162.7 L325.5 163.3 L326.1 163.9 L326.7 164.4 L327.3 165.3 L328 165.8 L328.7 166.4 L329.4 166.5 L330.1 167.2 L330.9 167.1 L331.7 167.4 L332.5 167.7 L333.4 167.8 L334.3 168 L335.2 168.5 L336.2 168.8 L337.1 168.7 L337.6 168.8 L338.2 169.1 L338.7 168.9 L339.2 169.1 L339.7 169.3 L340.3 169.3 L340.9 169.2 L341.4 169.2 L342 169.5 L342.6 169.8 L343.2 169.8 L343.8 169.4 L344.4 169.6 L345.1 169.7 L345.8 169.5 L346.4 169.8 L347.2 169.8 L347.9 169.9 L348.6 169.7 L349.3 170 L350 170 L350.8 169.8 L351.5 169.6 L352.2 169.8 L352.9 169.5 L353.6 169.8 L354.3 169.7 L355 169.5 L355.7 169.6 L356.3 169 L356.9 169.2 L357.6 169.1 L358.2 168.4 L358.8 167.7 L359.5 167.8 L360.1 168.2 L360.7 168.1 L361.3 167.7 L361.9 167.6 L362.5 167.3 L363.1 167.2 L363.8 166.8 L364.4 166.9 L365 166.5 L365.6 166.1 L366.3 165.9 L366.9 166 L367.5 165.9 L368.2 165.6 L368.8 165.1 L369.4 165.3 L370.1 165 L370.7 164.5 L371.3 164.4 L371.9 164.4 L372.6 163.9 L373.2 163.7 L373.8 163.7 L374.4 163.8 L375 163.7 L375.6 163.3 L376.2 163.5 L376.7 163.3 L377.3 163.2 L377.8 163 L378.4 163.1 L378.9 162.8 L379.4 162.9 L380 162.6 L380.5 162.4 L381.1 162.5 L381.6 162.4 L382.2 162.3 L382.8 162.3 L383.4 162.3 L384 162.3 L384.6 162.2 L385.3 162.2 L386 162.3 L386.6 162.4 L387.3 162.4 L388 162.5 L388.7 162.4 L389.4 162.6 L390.1 162.6 L390.9 162.9 L391.6 162.9 L392.3 163.1 L393 163 L393.7 163 L394.3 163.4 L395 163.3 L395.6 163.4 L396.3 163.4 L396.9 163.6 L397.5 163.9 L398 164.1 L398.6 164.1 L399.2 164.4 L399.8 164.3 L400.3 164.5 L400.9 164.6 L401.5 164.8 L402.2 164.9 L402.8 165.3 L403.5 165.4 L404.3 165.2 L405 165.4 L405.5 165.7 L406.1 165.7 L406.6 165.8 L407.2 165.8 L407.8 165.9 L408.4 165.7 L409 165.7 L409.6 165.9 L410.2 164.8 L410.9 162.8 L411.5 164.9 L412.1 166.2 L412.8 166.4 L413.5 165.3 L414.1 162.6 L414.8 165.2 L415.4 166.1 L416.1 166.5 L416.7 166.5 L417.4 166.4 L418.1 166.4 L418.7 166.3 L419.4 166.5 L420 166.6 L420.5 166.7 L421 166.6 L421.5 165.9 L422 164.5 L422.6 165.5 L423.1 166.3 L423.7 166.8 L424.2 166.4 L424.8 166.4 L425.4 166.4 L426 166.7 L426.5 166.7 L427.1 166.4 L427.7 166.7 L428.2 166.7 L428.8 166.4 L429.3 166.3 L429.9 166.6 L430.4 166.4 L430.9 166.2 L431.6 166.4 L432.2 164.9 L432.9 165.1 L433.4 166.2 L433.9 166.2 L434.5 166.1 L435.1 166.3 L435.7 166.2" stroke="#f00000"/>
<path d="M308 162.4 L308.4 163.1 L309 164 L309.7 164.7 L310.4 165.8 L311.2 166.8 L312 167.6 L312.8 168.6 L313.6 169.8 L314.4 170.6 L315.3 171.4 L316.2 172.3 L317.1 173.5 L318 174.4 L318.8 174.9 L319.5 175.7 L320.1 176.2 L320.5 176.4 L320.8 176.4 L320.9 176.4 L321 176.5 L321.1 176.3 L321.2 176.1 L321.3 175.6 L321.5 175.1 L321.8 174.1 L322.1 172.8 L322.4 172 L322.8 172.7 L323.1 174 L323.5 176.2 L324 176.9 L324.4 177.8 L324.9 178 L325.3 178.6 L325.8 179.1 L326.3 179.5 L326.9 180.5 L327.4 181.1 L328 181.4 L328.7 182.1 L329.4 182.4 L330.1 183 L330.9 182.9 L331.7 183.4 L332.5 183.7 L333.4 184.1 L334.3 184.5 L335.2 184.8 L336.2 184.9 L337.1 185 L337.6 185.3 L338.2 185.1 L338.7 185.2 L339.2 185.6 L339.7 185.5 L340.3 185.8 L340.9 185.4 L341.4 185.7 L342 185.6 L342.6 185.6 L343.2 185.7 L343.8 185.7 L344.4 185.9 L345.1 185.9 L345.8 186 L346.4 185.9 L347.2 186.1 L347.9 186 L348.6 186.3 L349.3 185.9 L350 186 L350.8 186 L351.5 185.9 L352.2 186.1 L352.9 185.7 L353.6 186 L354.3 185.7 L355 185.6 L355.7 185.7 L356.3 185.6 L356.9 185.3 L357.6 185.1 L358.2 185.4 L358.8 185 L359.5 184.7 L360.1 184.8 L360.7 184.6 L361.3 184.3 L361.9 184.2 L362.5 184.3 L363.1 183.9 L363.8 183.8 L364.4 183.9 L365 183.4 L365.6 183.3 L366.3 183 L366.9 183.1 L367.5 182.9 L368.2 182.7 L368.8 182.5 L369.4 182.2 L370.1 182.3 L370.7 182 L371.3 182 L371.9 181.6 L372.6 181.6 L373.2 181.1 L373.8 181.1 L374.4 181.4 L375 181.1 L375.6 181 L376.2 180.8 L376.7 180.7 L377.3 180.5 L377.8 180.4 L378.4 180.5 L378.9 180.5 L379.4 180.2 L380 180.3 L380.5 180 L381.1 180.2 L381.6 179.9 L382.2 180.1 L382.8 179.9 L383.4 180 L384 179.8 L384.6 180 L385.2 180.1 L385.9 179.8 L386.5 180 L387.1 180.2 L387.8 180.2 L388.4 180.2 L389.1 180.4 L389.7 180.3 L390.4 180.2 L391.1 180.4 L391.9 180.7 L392.4 180.6 L392.9 180.7 L393.4 180.6 L393.9 180.7 L394.5 181 L395 181 L395.6 180.9 L396.2 180.7 L396.8 181 L397.4 180.8 L398.1 181.3 L398.7 181.4 L399.2 181.4 L399.7 181.2 L400.2 181.6 L400.7 181.3 L401.2 181.7 L401.8 181.6 L402.3 181.4 L402.8 181.9 L403.3 181.7 L403.9 182 L404.4 182 L404.9 182 L405.5 182.2 L406 181.9 L406.5 182.3 L407 182.1 L407.5 182 L408 182.2 L408.6 182.1 L409.1 182.2 L409.7 182.5 L410.4 181.7 L411 181.2 L411.6 182.1 L412.2 182.4 L412.9 182.8 L413.5 182.4 L414.1 181.6 L414.7 182.4 L415.3 182.6 L415.9 182.8 L416.5 182.5 L417.1 182.8 L417.7 182.7 L418.3 182.7 L418.9 182.4 L419.5 182.3 L420.1 182.8 L420.6 182.5 L421.2 182.6 L421.8 182.7 L422.3 182.3 L422.9 182.6 L423.4 182.4 L423.9 182.6 L424.5 182.4 L425 182.2 L425.5 182.6 L426 182.3 L426.6 182.5 L427.1 182.5 L427.6 182.2 L428.2 182.4 L428.7 182.2 L429.2 182.1 L429.7 182.1 L430.2 182.5 L430.7 182.1 L431.2 182.2 L431.9 182.2 L432.6 181.9 L433.2 182.2 L433.9 182.2 L434.4 182.2 L434.9 182 L435.7 181.9" stroke="#c8c800"/>
<path d="M308 176.5 L308.3 177.5 L308.7 178.5 L309.2 179.6 L309.8 181.1 L310.4 182.3 L311.1 184.2 L311.8 185.2 L312.5 186.3 L313.3 187.4 L314.3 188 L314.9 188.7 L315.4 188.9 L315.9 189.5 L316.5 189.5 L317 190 L317.6 190.5 L318.6 191 L319.4 191.5 L320.1 192 L320.6 192.1 L320.9 192.2 L321 191.8 L321.1 192.1 L321.2 191.6 L321.2 191.8 L321.3 191.4 L321.5 191.1 L321.7 190.7 L321.9 190.2 L322.1 190.6 L322.3 190.7 L322.6 191.7 L322.9 192.6 L323.3 193.4 L323.8 194 L324.4 194.2 L325.1 194.8 L325.8 195.6 L326.6 195.7 L327.5 196.3 L328.3 197 L329.2 197.6 L330.1 197.9 L331 198.3 L331.9 199.1 L332.9 199.2 L333.8 199.4 L334.8 199.7 L335.8 200.2 L336.8 200.2 L337.7 200.6 L338.6 200.8 L339.5 200.9 L340.3 201 L341.2 201.3 L342.1 200.9 L343 201.5 L344 201.1 L344.5 201 L345 201.5 L345.5 201.4 L346.1 201.4 L346.6 201.2 L347.2 201.5 L347.8 201.3 L348.3 201.6 L348.9 201.3 L349.5 201.5 L350.1 201.5 L350.8 201.3 L351.4 201.4 L352.1 201.1 L352.8 201.4 L353.5 201.4 L354 201 L354.5 201.2 L355 201.2 L355.5 200.8 L356.1 201.1 L356.6 201.1 L357.2 200.5 L357.8 200.5 L358.4 200.3 L359 200.2 L359.6 200 L360.2 200.1 L360.9 199.8 L361.5 199.7 L362.1 199.7 L362.8 199.5 L363.4 199.6 L364.1 199.4 L364.7 198.9 L365.4 198.8 L366.1 198.5 L366.7 198.5 L367.4 198.3 L368 198.5 L368.7 198.4 L369.3 198.4 L370 197.8 L370.7 197.6 L371.3 197.9 L372 197.6 L372.5 197.8 L373 197.4 L373.5 197.3 L374 197 L374.5 197.5 L375 197.1 L375.5 197 L376.1 196.9 L376.6 197 L377.1 197 L377.6 196.7 L378.1 196.4 L378.6 196.5 L379.2 196.7 L379.7 196.3 L380.2 196.4 L380.7 196.2 L381.2 196.1 L381.7 196.1 L382.2 195.9 L382.8 196 L383.5 196.1 L384.1 195.6 L384.8 195.7 L385.4 196 L386 196 L386.6 195.4 L387.2 195.8 L387.8 195.8 L388.3 195.9 L388.9 195.7 L389.5 195.5 L390 195.7 L390.6 195.9 L391.1 196 L391.7 195.7 L392.2 196.1 L392.8 196.1 L393.3 196.2 L393.8 195.9 L394.3 196.2 L394.9 196.2 L395.4 196.4 L395.9 196.3 L396.4 196.3 L396.9 196.7 L397.4 196.5 L398 196.9 L398.5 196.6 L399 196.8 L399.5 197 L400 196.7 L400.5 197.1 L401.3 196.8 L402 197.4 L402.8 196.9 L403.5 197.5 L404.2 197.3 L404.9 197.3 L405.7 197.5 L406.4 197.7 L407.1 197.7 L407.9 197.6 L408.4 197.8 L408.9 197.7 L409.4 198.2 L409.9 197.8 L410.5 197.9 L411 197.7 L411.6 198.2 L412.1 197.8 L412.7 197.9 L413.3 198 L413.9 197.7 L414.4 197.9 L415 197.5 L415.6 197.4 L416.2 197.3 L416.9 197.4 L417.5 197.6 L418.1 197.1 L418.7 197.2 L419.3 197.3 L419.9 197 L420.5 196.8 L421.1 197 L421.7 196.8 L422.3 197.1 L422.8 197 L423.4 196.5 L423.9 196.6 L424.5 196.5 L425 196.2 L425.5 196.4 L426 196.7 L426.6 196.2 L427.1 196.4 L427.6 196.4 L428.2 196 L428.7 196.5 L429.2 195.9 L429.7 196 L430.2 196.2 L430.7 195.8 L431.2 195.9 L431.9 195.7 L432.6 195.9 L433.2 195.6 L433.9 195.6 L434.4 195.6 L434.9 195.5 L435.7 195.5" stroke="#000"/>
<path d="M308 190.3 L308.1 191.1 L308.3 191.5 L308.5 192.8 L308.7 193.5 L308.9 194.4 L309.2 195.5 L309.6 196.8 L310 197.3 L310.5 198.7 L311 199.3 L311.5 200.8 L312.2 201.4 L312.8 202.5 L313.5 203.6 L314.2 204 L315 204.8 L315.8 206 L316.7 206.6 L317.7 207.4 L318.6 207.7 L319.6 208.5 L320.1 208.6 L320.6 209 L321.6 209.5 L322.6 210.2 L323.5 210.5 L324.4 210.9 L325.3 211.5 L326.2 211.5 L327.1 212.3 L328 212.5 L329 212.6 L329.6 212.7 L330.1 213.1 L330.7 213.3 L331.2 213.6 L331.8 213.5 L332.3 213.7 L332.9 214.1 L333.5 213.9 L334.1 214.5 L334.7 214.6 L335.3 214.8 L336 214.9 L336.6 214.6 L337.3 215 L338 215 L338.7 214.9 L339.2 215.4 L339.7 215.2 L340.2 215.4 L340.7 215.3 L341.3 215 L341.8 215.5 L342.4 215.1 L343 215.2 L343.6 215.4 L344.2 215.2 L344.8 215.4 L345.4 215.5 L346 215.1 L346.7 215.5 L347.3 215.2 L347.9 215.4 L348.6 215.4 L349.2 215.5 L349.9 215 L350.5 215.1 L351.2 215.5 L351.8 215.2 L352.5 215.1 L353.1 215.1 L353.7 215.2 L354.4 215.2 L355 215.1 L355.6 214.9 L356.2 214.9 L356.9 214.8 L357.5 214.5 L358.1 214.9 L358.7 214.8 L359.3 214.6 L359.9 214.6 L360.6 214.2 L361.2 214.3 L361.8 213.8 L362.4 214 L363 213.9 L363.7 213.9 L364.3 213.7 L364.9 213.6 L365.5 213.1 L366.2 213.3 L366.8 213 L367.4 212.8 L368.1 212.7 L368.7 212.9 L369.4 212.8 L370 212.7 L370.7 212.5 L371.3 212.1 L372 212 L372.5 212.2 L373 211.9 L373.5 211.9 L374 211.7 L374.5 211.6 L375 211.9 L375.5 211.5 L376.1 211.8 L376.6 211.4 L377.1 211.7 L377.6 211.3 L378.1 211.2 L378.6 211.2 L379.2 210.9 L379.7 211.1 L380.2 211 L380.7 210.7 L381.2 211.2 L381.7 210.8 L382.2 210.5 L382.8 211.1 L383.5 210.6 L384.1 210.5 L384.8 210.4 L385.4 210.4 L386 210.7 L386.6 210.7 L387.2 210.6 L387.8 210.5 L388.3 210.5 L388.9 211 L389.5 210.6 L390 211.1 L390.6 211 L391.1 210.6 L391.7 211.1 L392.2 210.7 L392.8 211.2 L393.3 211.3 L393.8 211.3 L394.3 211.3 L394.9 211.6 L395.4 211.3 L395.9 211.6 L396.4 211.5 L396.9 211.6 L397.4 211.6 L398 212 L398.5 212 L399 212.2 L399.5 212.2 L400 212.2 L400.5 212.5 L401.3 212.5 L402 212.5 L402.8 212.5 L403.5 213 L404.2 212.8 L404.9 212.8 L405.7 213.1 L406.4 213.4 L407.1 213.7 L407.9 213.6 L408.4 213.7 L408.9 213.9 L409.4 213.8 L409.9 213.6 L410.5 213.7 L411 213.9 L411.6 213.6 L412.1 213.4 L412.7 213.7 L413.3 213.8 L413.9 213.4 L414.4 213.6 L415 213.6 L415.6 213.1 L416.2 213 L416.9 213.1 L417.5 212.9 L418.1 213.2 L418.7 213.1 L419.3 212.7 L419.9 212.8 L420.5 212.6 L421.1 212.2 L421.7 212.6 L422.3 212 L422.8 211.9 L423.4 212 L423.9 211.7 L424.5 211.9 L425 211.7 L425.5 212 L426 211.6 L426.6 211.8 L427.1 211.7 L427.6 211.5 L428.2 211.3 L428.7 211.2 L429.2 211.3 L429.7 211.2 L430.2 211.3 L430.7 211.1 L431.2 211 L431.9 211.1 L432.6 211.2 L433.2 210.7 L433.9 210.7 L434.4 210.5 L434.9 210.4 L435.7 210.3" stroke="#10e010"/>
<path d="M308 206.4 L308.2 207.1 L308.5 207.6 L308.9 208.5 L309.3 209.2 L309.7 210 L310.2 210.9 L310.7 211.4 L311.3 212.5 L311.9 213.4 L312.6 214.5 L313.4 215.2 L314.2 216.5 L315 217.4 L315.9 218.4 L316.7 219.3 L317.6 220 L318.5 221.1 L319.4 221.9 L320.3 222.4 L321.3 222.8 L322.2 223.6 L323.2 224.4 L324.2 225 L325.1 225.4 L326 225.4 L326.9 226.4 L327.8 226.6 L328.7 226.8 L329.6 227.5 L330.5 227.8 L331.5 228.1 L332.1 227.9 L332.6 228.2 L333.2 228.3 L333.7 228.3 L334.3 228.8 L334.9 228.8 L335.5 228.7 L336.1 229 L336.7 229.3 L337.4 229.2 L338 229.5 L338.6 229.4 L339.3 229.7 L340 229.2 L340.6 229.5 L341.3 229.6 L342 229.8 L342.7 230 L343.4 229.8 L344.1 229.8 L344.8 229.9 L345.6 229.9 L346.3 230 L347 230.2 L347.5 229.6 L348 229.8 L348.5 230.1 L349.1 229.6 L349.6 230.1 L350.1 229.6 L350.6 230 L351.2 230 L351.7 229.7 L352.2 229.7 L352.8 229.6 L353.3 229.8 L353.9 229.6 L354.4 229.6 L355 229.4 L355.6 229.5 L356.2 229.6 L356.7 229.4 L357.3 229.4 L357.9 228.8 L358.5 228.9 L359.2 228.6 L359.8 228.5 L360.4 228.6 L361 228 L361.6 228.1 L362.3 228.1 L362.9 228 L363.5 227.3 L364.2 227.3 L364.8 227.2 L365.5 227.3 L366.1 226.7 L366.8 226.9 L367.4 226.5 L368.1 226.5 L368.7 226.5 L369.4 225.9 L370 225.9 L370.7 225.7 L371.3 225.5 L372 225.5 L372.5 225.6 L373 225.4 L373.5 225 L374 225.3 L374.5 225.1 L375 224.7 L375.5 225 L376.1 224.9 L376.6 224.4 L377.1 224.8 L377.6 224.6 L378.1 224.1 L378.6 223.9 L379.2 224.3 L379.7 224.2 L380.2 223.7 L380.7 224 L381.2 223.9 L381.7 223.8 L382.2 223.8 L382.8 223.8 L383.5 223.3 L384.1 223.5 L384.8 223.6 L385.4 223.1 L386 223.3 L386.6 223.3 L387.2 223.4 L387.8 223.2 L388.3 223 L388.9 223.1 L389.5 223.2 L390 223 L390.6 223.5 L391.1 223.6 L391.7 223.3 L392.2 223.6 L392.8 223.7 L393.3 223.4 L393.8 223.9 L394.3 223.9 L394.9 223.8 L395.4 223.7 L395.9 223.9 L396.4 224.3 L396.9 224.2 L397.4 224.5 L398 224.1 L398.5 224.2 L399 224.4 L399.5 224.8 L400 224.4 L400.5 224.5 L401.3 225 L402 224.8 L402.8 225.3 L403.5 225.1 L404.2 225.3 L404.9 225.7 L405.7 226 L406.4 225.8 L407.1 226 L407.9 225.8 L408.4 226.1 L408.9 226.1 L409.4 226.5 L409.9 226.5 L410.5 226.5 L411 226.4 L411.6 226.5 L412.1 226.2 L412.7 226.3 L413.3 226.3 L413.9 226.2 L414.4 226.5 L415 226.1 L415.6 226.1 L416.2 226.1 L416.9 226.3 L417.5 226.1 L418.1 226 L418.7 225.9 L419.3 226.1 L419.9 226.1 L420.5 225.7 L421.1 225.7 L421.7 225.8 L422.3 225.4 L422.8 225.3 L423.4 225.2 L423.9 225.4 L424.5 225.5 L425 225.1 L425.5 225.2 L426 225.5 L426.6 225.2 L427.1 225.1 L427.6 225.4 L428.2 225.4 L428.7 225 L429.2 224.8 L429.7 225.1 L430.2 225.2 L430.7 225.3 L431.2 225.1 L431.9 224.8 L432.6 224.9 L433.2 224.8 L433.9 224.8 L434.4 224.8 L434.9 225.1 L435.7 225" stroke="#00c8d0"/>
<path d="M308 218 L308.3 218.4 L308.8 219.6 L309.3 220.2 L309.9 221.9 L310.5 223 L311.1 224.4 L311.8 225.3 L312.5 226.8 L313.2 227.2 L313.9 228.8 L314.7 229.7 L315.5 230.4 L316.3 231.7 L317.1 232.1 L317.9 233.4 L318.8 234 L319.7 234.7 L320.6 235.3 L321.5 236.3 L322.4 236.9 L323.4 237.1 L324.4 238.3 L325.4 238.3 L325.9 238.6 L326.4 238.9 L326.9 239.3 L327.4 239.8 L328 240.1 L328.5 240.1 L329 240.1 L329.6 240.2 L330.1 240.4 L330.6 240.9 L331.2 241.1 L331.8 241.3 L332.3 241.8 L332.9 241.6 L333.5 241.7 L334 241.9 L334.6 241.9 L335.2 242.6 L335.8 242.5 L336.4 242.6 L337 242.6 L337.6 242.6 L338.2 242.8 L338.9 243 L339.5 243 L340.1 243.5 L340.8 243.2 L341.4 243.1 L342 243 L342.7 243.1 L343.3 243.3 L344 243.6 L344.6 243.7 L345.2 243.3 L345.8 243.7 L346.4 243.5 L347 243.6 L347.5 243.6 L348.1 243.2 L348.7 243.2 L349.2 243.6 L349.8 243.6 L350.4 243.4 L351 243.7 L351.6 243.6 L352.2 243.2 L352.9 243 L353.5 243.2 L354.3 243.2 L355 242.8 L355.5 242.6 L356.1 242.8 L356.6 242.4 L357.2 242.8 L357.8 242.6 L358.4 242.3 L359 242.3 L359.6 242 L360.2 241.8 L360.8 241.7 L361.5 242 L362.1 241.6 L362.8 241.6 L363.4 241.2 L364.1 241.4 L364.7 241.1 L365.4 241 L366.1 240.7 L366.7 240.7 L367.4 240.3 L368 240.7 L368.7 240.4 L369.3 240.1 L370 240.1 L370.7 239.6 L371.3 239.6 L372 239.4 L372.5 239.8 L373 239.1 L373.5 239.3 L374 239.5 L374.5 239.3 L375 239.2 L375.5 238.8 L376.1 238.6 L376.6 238.9 L377.1 238.5 L377.6 238.7 L378.1 238.3 L378.6 238.5 L379.2 238.3 L379.7 238.4 L380.2 238.4 L380.7 237.9 L381.2 238.3 L381.7 237.5 L382.2 238.1 L382.8 237.4 L383.5 237.7 L384.1 237.5 L384.8 237.8 L385.4 237.4 L386 237.3 L386.6 237.7 L387.2 237.6 L387.8 237.7 L388.3 237.6 L388.9 237.3 L389.5 237.9 L390 237.6 L390.6 237.8 L391.1 237.6 L391.7 237.9 L392.2 238.2 L392.8 238.4 L393.3 238.4 L393.8 238.4 L394.3 238.7 L394.9 238.8 L395.4 238.6 L395.9 238.9 L396.4 239.1 L396.9 239.3 L397.4 239 L398 239.2 L398.5 239.3 L399 239.2 L399.5 239.5 L400 239.8 L400.5 239.8 L401.3 239.7 L402 240.2 L402.8 239.9 L403.5 240.5 L404.2 240.2 L404.9 240.3 L405.7 240.5 L406.4 240.8 L407.1 240.8 L407.9 241.3 L408.4 241.4 L408.9 241 L409.4 241.4 L409.9 241.4 L410.5 241.3 L411 241.1 L411.6 241.6 L412.1 241.6 L412.7 241 L413.3 241.2 L413.9 241.1 L414.4 241 L415 241.1 L415.6 241.4 L416.2 240.8 L416.9 241.3 L417.5 240.9 L418.1 240.6 L418.7 241.2 L419.3 240.7 L419.9 240.6 L420.5 240.4 L421.1 240.6 L421.7 240.3 L422.3 240.3 L422.8 240.3 L423.4 240.5 L423.9 240.3 L424.5 240.2 L425 240.3 L425.5 240.5 L426 240.4 L426.6 240.1 L427.1 240.5 L427.6 240.3 L428.2 240.2 L428.7 240.1 L429.2 239.9 L429.7 239.8 L430.2 240.3 L430.7 240 L431.2 239.7 L431.9 240.2 L432.6 240.1 L433.2 239.5 L433.9 239.9 L434.4 239.6 L434.9 239.8 L435.7 239.9" stroke="#0000e0"/>
</g>
<text x="315.3" y="151.6" font-family="'Liberation Serif', 'DejaVu Serif', serif" font-size="6.6" text-anchor="start" fill="#222">(001)</text>
<text x="354.2" y="162.6" font-family="'Liberation Serif', 'DejaVu Serif', serif" font-size="6.6" text-anchor="start" fill="#222">(003)</text>
<text x="388.8" y="156" font-family="'Liberation Serif', 'DejaVu Serif', serif" font-size="6.6" text-anchor="start" fill="#222">(100)</text>
<text x="404.4" y="153" font-family="'Liberation Serif', 'DejaVu Serif', serif" font-size="6.6" text-anchor="start" fill="#222">(101)</text>
<text x="415" y="161.8" font-family="'Liberation Serif', 'DejaVu Serif', serif" font-size="6.6" text-anchor="start" fill="#222">(102)</text>
<text x="422.6" y="155.2" font-family="'Liberation Serif', 'DejaVu Serif', serif" font-size="6.6" text-anchor="start" fill="#222">(103)</text>
<path d="M403.2 157.2 L408 161.5 M413.3 154.8 V159 M430.7 157.3 V162" stroke="#000" stroke-width="0.8"/>
<path d="M409.2 162.8 L406.5 161.7 L408.2 160.2 Z M413.3 160.6 L412.3 158.4 L414.3 158.4 Z M430.7 163.6 L429.7 161.4 L431.7 161.4 Z" fill="#000"/>
<text x="443.6" y="15.2" font-family="'Liberation Serif', 'DejaVu Serif', serif" font-weight="bold" font-size="9.6" fill="#000">j</text>
<text x="455.2" y="15" font-family="'Liberation Serif', 'DejaVu Serif', serif" font-weight="bold" font-size="8.6" letter-spacing="0.12" fill="#000">“Self-seeding growth”</text>
<rect x="472" y="25" width="7.6" height="3.8" fill="#1f4f9c" transform="rotate(-15 475.8 26.9)"/>
<path d="M479.8 27.2 L480.1 26.3 L480.3 25.2 L480.6 24.3 L481 23.9 L481.5 23.9 L482.2 24.5 L482.9 25.2 L483.6 25.9 L484.2 26.3 L484.7 26.1 L485 25.3 L485.3 24.3 L485.5 23.3 L485.8 22.6 L486.3 22.5 L486.9 22.8 L487.6 23.6 L488.4 24.3 L489 24.8 L489.5 24.8 L489.9 24.3 L490.2 23.4 L490.4 22.3 L490.7 21.5 L491.1 21.1 L491.7 21.3 L492.4 21.9 L493.1 22.7" stroke="#ee6e6e" stroke-width="0.7" fill="none"/>
<rect x="496" y="27.1" width="7.6" height="3.8" fill="#1f4f9c" transform="rotate(-30 499.8 29)"/>
<path d="M497.2 32.1 L496.9 32.5 L496.3 32.5 L495.5 32.1 L494.6 31.5 L493.8 31.2 L493.2 31.2 L492.9 31.7 L492.9 32.6 L493 33.7 L493 34.8 L492.8 35.5 L492.4 35.7 L491.7 35.5 L490.8 35.1 L490 34.7 L489.4 34.6 L489.1 35 L489 35.9 L489.1 37 L489.2 38.2 L489.2 39.2 L488.9 39.7 L488.3 39.7 L487.6 39.4 L486.8 39.1 L486.1 38.9 L485.7 39.2 L485.6 40 L485.7 41.1 L485.8 42.4" stroke="#ee6e6e" stroke-width="0.7" fill="none"/>
<rect x="454.5" y="36" width="7.6" height="3.8" fill="#1f4f9c" transform="rotate(-55 458.3 37.9)"/>
<path d="M459.4 34.4 L459.2 33.8 L459.5 33.3 L460.2 33.1 L461.2 32.9 L462.2 32.8 L462.9 32.5 L463.1 32 L462.7 31.3 L462 30.6 L461.3 29.8 L460.9 29.1 L460.9 28.6 L461.5 28.2 L462.4 28 L463.4 27.9 L464.2 27.6 L464.6 27.2 L464.4 26.6 L463.8 25.9 L463 25.1 L462.4 24.3 L462.2 23.7 L462.6 23.3 L463.4 23.1 L464.4 22.9 L465.3 22.7 L465.8 22.4 L465.8 21.8" stroke="#ee6e6e" stroke-width="0.7" fill="none"/>
<rect x="509" y="42.2" width="7.6" height="3.8" fill="#1f4f9c" transform="rotate(55 512.8 44.1)"/>
<path d="M510.5 41.1 L511.1 40.2 L511.5 39.5 L511.4 39 L510.8 38.7 L509.8 38.6 L508.7 38.6 L507.7 38.5 L507.2 38.2 L507.2 37.6 L507.6 36.9 L508.1 36.1 L508.6 35.3 L508.6 34.8 L508.1 34.4 L507.2 34.3 L506 34.3 L504.8 34.3 L504 34.1 L503.7 33.7 L503.9 33.1 L504.3 32.3 L504.7 31.6 L504.9 31 L504.5 30.6 L503.6 30.5 L502.4 30.5 L501.1 30.5 L500.1 30.5" stroke="#ee6e6e" stroke-width="0.7" fill="none"/>
<rect x="465.3" y="48.9" width="7.6" height="3.8" fill="#1f4f9c" transform="rotate(90 469.1 50.8)"/>
<path d="M467.6 46.7 L467.7 46.2 L468.3 45.9 L469.3 45.5 L470.2 45.2 L470.8 44.8 L470.9 44.3 L470.4 43.7 L469.6 43 L468.6 42.3 L467.9 41.7 L467.7 41.2 L468 40.7 L468.7 40.3 L469.5 40 L470.2 39.6 L470.3 39.1 L469.9 38.5 L469 37.8 L467.9 37.1 L467 36.5 L466.4 35.9 L466.3 35.3 L466.8 34.9 L467.5 34.5 L468.1 34.1 L468.3 33.7 L468 33.1 L467.1 32.4" stroke="#ee6e6e" stroke-width="0.7" fill="none"/>
<rect x="482.6" y="46.8" width="7.6" height="3.8" fill="#1f4f9c" transform="rotate(45 486.4 48.7)"/>
<path d="M484.9 45 L484.3 44.9 L483.3 45 L482.2 45.3 L481.3 45.4 L480.8 45.2 L480.6 44.7 L480.8 43.8 L481.2 42.9 L481.4 42.1 L481.3 41.5 L480.7 41.3 L479.8 41.5 L478.6 41.8 L477.5 42.1 L476.7 42.1 L476.3 41.8 L476.3 41.1 L476.5 40.3 L476.7 39.5 L476.7 38.9 L476.2 38.6 L475.3 38.7 L474.1 39.1 L472.9 39.4 L471.8 39.7 L471.2 39.6 L470.9 39.1 L471 38.4 L471.2 37.6 L471.1 37" stroke="#ee6e6e" stroke-width="0.7" fill="none"/>
<rect x="502.2" y="50.8" width="7.6" height="3.8" fill="#1f4f9c" transform="rotate(35 506 52.7)"/>
<path d="M503.9 49.7 L503.8 49.1 L503.3 48.9 L502.4 49 L501.4 49.2 L500.4 49.3 L499.8 49.2 L499.6 48.8 L499.7 47.9 L500.1 47 L500.5 46 L500.6 45.3 L500.2 44.9 L499.5 44.9 L498.5 45.1 L497.5 45.3 L496.7 45.3 L496.3 44.9 L496.4 44.2 L496.7 43.3 L497.1 42.3 L497.3 41.5 L497.2 40.9 L496.6 40.8 L495.7 40.9 L494.7 41.1 L493.8 41.2 L493.2 41 L493.1 40.4" stroke="#ee6e6e" stroke-width="0.7" fill="none"/>
<rect x="453.7" y="53.5" width="7.6" height="3.8" fill="#1f4f9c" transform="rotate(70 457.5 55.4)"/>
<path d="M457.4 51.1 L457.3 50.6 L456.7 50.4 L455.8 50.3 L454.8 50.4 L453.9 50.3 L453.5 50 L453.5 49.3 L454 48.5 L454.6 47.6 L455.1 46.7 L455.3 46 L455 45.6 L454.2 45.5 L453.3 45.4 L452.4 45.4 L451.8 45.1 L451.8 44.6 L452.2 43.8 L452.8 42.8 L453.5 41.8 L453.9 41 L453.9 40.5 L453.4 40.2 L452.6 40.1 L451.7 40 L451.1 39.8 L450.9 39.3 L451.2 38.6 L451.8 37.6 L452.6 36.6" stroke="#ee6e6e" stroke-width="0.7" fill="none"/>
<rect x="479.9" y="60.5" width="7.6" height="3.8" fill="#1f4f9c" transform="rotate(-10 483.7 62.4)"/>
<path d="M487.7 62.6 L488.3 63.1 L488.8 63 L489.2 62.4 L489.4 61.4 L489.7 60.4 L490 59.7 L490.4 59.4 L491 59.7 L491.7 60.4 L492.5 61.2 L493.2 61.8 L493.7 62 L494.1 61.6 L494.4 60.8 L494.7 59.8 L495 59 L495.4 58.5 L495.9 58.6 L496.6 59.2 L497.3 60.1 L498.1 60.8 L498.7 61.3 L499.2 61.2 L499.5 60.5 L499.8 59.6 L500.1 58.7 L500.4 58.1 L500.9 58" stroke="#ee6e6e" stroke-width="0.7" fill="none"/>
<rect x="509.5" y="62.1" width="7.6" height="3.8" fill="#1f4f9c" transform="rotate(-70 513.3 64)"/>
<path d="M513.2 67.9 L512.3 68.2 L511.3 68.4 L510.4 68.7 L510 69.1 L510.2 69.7 L510.8 70.4 L511.7 71.1 L512.4 71.8 L512.8 72.4 L512.6 72.9 L512 73.3 L511.1 73.5 L510.2 73.8 L509.8 74.2 L509.8 74.8 L510.4 75.4 L511.3 76.2 L512.3 77 L512.9 77.7 L513.1 78.2 L512.7 78.6 L512 79 L511.2 79.3 L510.7 79.6 L510.6 80.1 L511.1 80.8 L512 81.6 L513.1 82.4 L514 83.1 L514.5 83.8" stroke="#ee6e6e" stroke-width="0.7" fill="none"/>
<rect x="454.5" y="68.4" width="7.6" height="3.8" fill="#1f4f9c" transform="rotate(-35 458.3 70.3)"/>
<path d="M462.3 69.4 L462.7 69 L462.7 68.3 L462.6 67.2 L462.5 66.2 L462.6 65.5 L463.1 65.3 L463.8 65.4 L464.8 65.9 L465.7 66.5 L466.6 66.8 L467.1 66.7 L467.3 66.1 L467.3 65.2 L467.2 64.2 L467.3 63.4 L467.6 63.1 L468.3 63.1 L469.2 63.6 L470.3 64.2 L471.2 64.7 L471.9 64.8 L472.3 64.5 L472.4 63.8 L472.4 62.9" stroke="#ee6e6e" stroke-width="0.7" fill="none"/>
<rect x="471.2" y="67" width="7.6" height="3.8" fill="#1f4f9c" transform="rotate(-65 475 68.9)"/>
<path d="M473.1 72.3 L473.9 73 L474.4 73.7 L474.5 74.2 L474 74.6 L473.1 74.8 L471.9 75.1 L471 75.3 L470.4 75.7 L470.4 76.2 L470.8 76.8 L471.5 77.5 L472 78.2 L472.2 78.7 L471.8 79.2 L470.9 79.4 L469.6 79.6 L468.4 79.8 L467.6 80.1 L467.2 80.5 L467.3 81.1 L467.8 81.7 L468.3 82.4 L468.5 82.9 L468.2 83.4 L467.3 83.7 L466.1 83.8 L464.7 84 L463.5 84.2" stroke="#ee6e6e" stroke-width="0.7" fill="none"/>
<rect x="486.6" y="71.3" width="7.6" height="3.8" fill="#1f4f9c" transform="rotate(-30 490.4 73.2)"/>
<path d="M494.4 72.5 L494.4 71.6 L494.4 70.5 L494.4 69.6 L494.6 68.9 L495.1 68.8 L495.9 69 L496.7 69.6 L497.6 70.1 L498.3 70.3 L498.7 70 L498.8 69.2 L498.8 68.2 L498.8 67.1 L498.9 66.3 L499.2 65.9 L499.9 66 L500.7 66.4 L501.6 66.9 L502.3 67.3 L502.8 67.2 L503.1 66.5 L503.1 65.6 L503 64.4 L503 63.4 L503.2 62.8 L503.8 62.7 L504.5 63 L505.4 63.5" stroke="#ee6e6e" stroke-width="0.7" fill="none"/>
<rect x="483.9" y="86.5" width="2.2" height="13" fill="#000"/>
<path d="M481.4 99 L488.6 99 L485 104.5 Z" fill="#000"/>
<text x="522" y="93.6" font-family="'Liberation Serif', 'DejaVu Serif', serif" font-weight="bold" font-size="8" text-anchor="middle" fill="#000">Cooling from</text>
<text x="521.8" y="102.6" font-family="'Liberation Serif', 'DejaVu Serif', serif" font-weight="bold" font-size="8" text-anchor="middle" fill="#000">65°C to R.T.</text>
<circle cx="481" cy="137.5" r="4.5" fill="#e8d8e0" opacity="0.7"/>
<rect x="461" y="118.3" width="7.6" height="3.8" fill="#1f4f9c" transform="rotate(-70 464.8 120.2)"/>
<path d="M465.7 116.4 L466.8 116.4 L467.7 116.3 L468.2 115.9 L468.1 115.4 L467.7 114.6 L467 113.7 L466.4 112.9 L466.2 112.3 L466.5 111.9 L467.3 111.7 L468.3 111.6 L469.3 111.5 L469.9 111.2 L470 110.7 L469.6 110 L469 109.1 L468.3 108.3 L467.9 107.5 L467.9 107 L468.5 106.7" stroke="#ee6e6e" stroke-width="0.7" fill="none"/>
<rect x="481.5" y="112.4" width="7.6" height="3.8" fill="#1f4f9c" transform="rotate(-5 485.3 114.3)"/>
<path d="M481.5 115 L481.1 114 L480.6 113.2 L480.2 112.9 L479.6 113.1 L479.1 113.7 L478.5 114.6 L477.9 115.3 L477.4 115.5 L477 115.2 L476.5 114.3 L476.1 113.2 L475.7 112.2 L475.3 111.5 L474.8 111.4 L474.2 111.8 L473.7 112.5 L473.1 113.1 L472.6 113.5 L472.1 113.2 L471.7 112.4 L471.3 111.3 L470.9 110.1 L470.5 109.1 L470 108.6" stroke="#ee6e6e" stroke-width="0.7" fill="none"/>
<rect x="491.7" y="118.3" width="7.6" height="3.8" fill="#1f4f9c" transform="rotate(-45 495.5 120.2)"/>
<path d="M499.3 118.6 L499.6 118.2 L499.6 117.5 L499.3 116.5 L499 115.5 L498.9 114.7 L499.2 114.3 L499.9 114.3 L500.8 114.5 L501.9 114.8 L502.7 115 L503.3 114.8 L503.4 114.2 L503.2 113.3 L502.9 112.3 L502.7 111.4 L502.8 110.9 L503.4 110.7 L504.2 110.8 L505.3 111.2 L506.2 111.4 L506.9 111.4 L507.2 111" stroke="#ee6e6e" stroke-width="0.7" fill="none"/>
<rect x="510.3" y="130.4" width="7.6" height="3.8" fill="#1f4f9c" transform="rotate(35 514.1 132.3)"/>
<path d="M510.6 130.5 L510.9 129.5 L511.1 128.6 L511 128 L510.5 127.8 L509.7 127.9 L508.6 128.3 L507.6 128.6 L506.8 128.6 L506.4 128.3 L506.4 127.6 L506.6 126.7 L506.8 125.8 L506.8 125.2 L506.3 124.9 L505.5 125 L504.4 125.4 L503.3 125.8 L502.3 126.1 L501.7 126 L501.4 125.5 L501.5 124.8 L501.6 123.9 L501.6 123.2 L501.3 122.8" stroke="#ee6e6e" stroke-width="0.7" fill="none"/>
<rect x="508.4" y="143.4" width="7.6" height="3.8" fill="#1f4f9c" transform="rotate(-70 512.2 145.3)"/>
<path d="M512.2 149.2 L511.3 149.5 L510.2 149.7 L509.3 150 L508.8 150.4 L508.8 150.9 L509.3 151.5 L510 152.3 L510.7 152.9 L510.9 153.5 L510.6 154 L509.9 154.3 L508.8 154.5 L507.7 154.7 L506.9 155 L506.6 155.5 L506.8 156.1 L507.4 156.7 L508 157.4 L508.4 158 L508.3 158.5 L507.6 158.8 L506.5 159.1 L505.3 159.3 L504.2 159.5" stroke="#ee6e6e" stroke-width="0.7" fill="none"/>
<rect x="461.8" y="148" width="7.6" height="3.8" fill="#1f4f9c" transform="rotate(45 465.6 149.9)"/>
<path d="M462 148.5 L461.7 148 L461.8 147.1 L461.9 146 L462 145.1 L461.8 144.4 L461.3 144.3 L460.5 144.5 L459.6 145 L458.7 145.4 L458 145.5 L457.7 145.1 L457.6 144.3 L457.7 143.3 L457.9 142.2 L457.8 141.4 L457.5 141 L456.8 141.1 L455.9 141.5 L455 141.9 L454.3 142.1 L453.8 141.9 L453.6 141.3 L453.7 140.3 L453.9 139.2 L454 138.2 L453.8 137.6" stroke="#ee6e6e" stroke-width="0.7" fill="none"/>
<rect x="466.4" y="159.6" width="7.6" height="3.8" fill="#1f4f9c" transform="rotate(30 470.2 161.5)"/>
<path d="M467.2 158.7 L466.8 158 L466.3 157.8 L465.7 158.2 L465 158.8 L464.3 159.5 L463.7 160 L463.2 159.9 L462.9 159.3 L462.6 158.2 L462.4 157.1 L462.2 156.1 L461.8 155.5 L461.3 155.5 L460.6 156 L460 156.6 L459.3 157 L458.8 157 L458.4 156.5 L458.2 155.4 L458 154.1 L457.8 152.9 L457.5 152 L457.1 151.7 L456.6 151.8 L455.9 152.3 L455.3 152.7" stroke="#ee6e6e" stroke-width="0.7" fill="none"/>
<rect x="480.7" y="159.6" width="7.6" height="3.8" fill="#1f4f9c" transform="rotate(-5 484.5 161.5)"/>
<path d="M488.5 162.1 L489.2 162.5 L489.7 162.4 L490 161.8 L490.3 160.8 L490.5 159.9 L490.8 159.1 L491.3 158.9 L491.9 159.3 L492.6 160 L493.4 160.9 L494.1 161.5 L494.7 161.8 L495.1 161.4 L495.4 160.7 L495.7 159.7 L496 159 L496.4 158.6 L497 158.8 L497.7 159.5 L498.5 160.5 L499.2 161.3 L499.8 161.8 L500.4 161.8 L500.7 161.3 L501 160.4 L501.3 159.7" stroke="#ee6e6e" stroke-width="0.7" fill="none"/>
<path d="M485.4 136.2 L485.9 136.2 L486.4 136.7 L486.8 137.7 L487.2 138.7 L487.7 139.4 L488.1 139.5 L488.7 139 L489.3 138.1 L489.9 137.2 L490.4 136.6 L490.9 136.5 L491.4 137 L491.8 137.9 L492.2 138.9 L492.7 139.6 L493.2 139.7 L493.7 139.2 L494.3 138.3 L494.9 137.3 L495.4 136.6 L496 136.5 L496.4 137 L496.8 137.9 L497.2 138.9 L497.7 139.5 L498.2 139.6 L498.7 139 L499.3 138.1 L499.9 137.1 L500.5 136.4" stroke="#ee6e6e" stroke-width="0.7" fill="none"/>
<path d="M485.7 137.2 L485.5 138.3 L485.4 139.2 L485.6 139.9 L486.1 140 L487 139.7 L488 139.1 L488.9 138.7 L489.5 138.7 L489.8 139.1 L489.8 140 L489.7 141 L489.6 142 L489.8 142.6 L490.3 142.7 L491.2 142.3 L492.2 141.8 L493.2 141.3 L493.8 141.3 L494.2 141.7 L494.2 142.5 L494 143.5 L494 144.4 L494.2 145 L494.8 145.1 L495.7 144.7 L496.7 144.1" stroke="#ee6e6e" stroke-width="0.7" fill="none"/>
<path d="M486.7 137.1 L486.3 137.8 L485.6 138.7 L484.9 139.5 L484.7 140.1 L485 140.5 L485.8 140.8 L486.9 140.8 L488 140.9 L488.7 141.2 L488.9 141.6 L488.5 142.3 L487.9 143.1 L487.3 143.9 L487.1 144.5 L487.5 144.9 L488.3 145.1 L489.5 145.2 L490.6 145.2 L491.4 145.4 L491.6 145.9 L491.3 146.6 L490.8 147.3 L490.2 148.1 L490.1 148.7 L490.5 149.1 L491.4 149.2 L492.6 149.3 L493.8 149.3 L494.6 149.5 L494.9 149.9 L494.7 150.6 L494.2 151.3" stroke="#ee6e6e" stroke-width="0.7" fill="none"/>
<path d="M485.2 137.7 L486.1 138.2 L486.8 138.7 L486.9 139.2 L486.4 139.7 L485.5 140.2 L484.6 140.7 L484.1 141.2 L484.1 141.7 L484.7 142.2 L485.7 142.7 L486.8 143.2 L487.6 143.7 L487.8 144.2 L487.4 144.7 L486.7 145.2 L485.9 145.7 L485.5 146.2 L485.6 146.7 L486.4 147.2 L487.5 147.7 L488.7 148.3 L489.6 148.8 L490 149.3 L489.7 149.8 L489.1 150.3 L488.5 150.8" stroke="#ee6e6e" stroke-width="0.7" fill="none"/>
<path d="M484.7 137.2 L485.2 138.2 L485.5 139.2 L485.5 139.8 L485.1 140.1 L484.2 140 L483 139.7 L482 139.5 L481.2 139.6 L480.9 140 L481.1 140.7 L481.4 141.6 L481.6 142.5 L481.5 143 L481 143.2 L479.9 143 L478.7 142.7 L477.5 142.4 L476.6 142.3 L476.2 142.6 L476.3 143.3 L476.5 144.1 L476.6 144.9 L476.4 145.3 L475.7 145.4 L474.6 145.1 L473.2 144.7 L471.9 144.3 L471 144.2 L470.5 144.4 L470.4 145 L470.5 145.7 L470.5 146.4 L470.2 146.7 L469.4 146.7 L468.1 146.4" stroke="#ee6e6e" stroke-width="0.7" fill="none"/>
<path d="M485 137 L484.3 136.5 L483.8 136.5 L483.5 137.2 L483.3 138.1 L483.2 139.2 L482.9 140 L482.5 140.2 L481.8 139.9 L481 139.1 L480.2 138.3 L479.5 137.8 L479 137.8 L478.6 138.3 L478.4 139.3 L478.3 140.3 L478 141 L477.5 141.2 L476.8 140.8 L476 140 L475.2 139.1 L474.5 138.5 L473.9 138.5 L473.6 139 L473.3 139.8 L473.1 140.8 L472.8 141.4 L472.3 141.5 L471.6 141.1 L470.8 140.2 L470 139.3 L469.2 138.7 L468.6 138.5 L468.3 139 L468 139.8 L467.8 140.7 L467.5 141.3 L467 141.3 L466.3 140.8 L465.4 139.9" stroke="#ee6e6e" stroke-width="0.7" fill="none"/>
<path d="M485.3 137.5 L484.9 136.6 L484.5 136 L484 136 L483.4 136.6 L482.8 137.5 L482.2 138.2 L481.7 138.6 L481.2 138.4 L480.8 137.6 L480.4 136.4 L480 135.4 L479.6 134.7 L479.1 134.6 L478.5 135 L478 135.7 L477.4 136.4 L476.9 136.6 L476.4 136.3 L476 135.3 L475.6 134.1 L475.2 132.9 L474.8 132 L474.3 131.8 L473.8 132.1 L473.2 132.7 L472.7 133.2 L472.2 133.4 L471.7 132.9 L471.3 131.8 L470.9 130.4 L470.6 129.1 L470.1 128.1 L469.7 127.8 L469.2 128" stroke="#ee6e6e" stroke-width="0.7" fill="none"/>
<path d="M484.6 139 L484.5 138.2 L484.5 137.1 L484.5 136.1 L484.3 135.4 L483.8 135.3 L483 135.7 L482.1 136.3 L481.2 136.9 L480.5 137.2 L480 136.9 L479.9 136.2 L479.9 135.1 L479.8 134.2 L479.6 133.6 L479.1 133.5 L478.3 133.9 L477.3 134.6 L476.4 135.3 L475.6 135.6 L475.2 135.4 L475 134.7 L474.9 133.8 L474.8 132.9 L474.6 132.3 L474 132.3 L473.2 132.8 L472.2 133.5 L471.2 134.3 L470.5 134.6 L470 134.5 L469.7 133.9 L469.7 133 L469.6 132.1 L469.2 131.6" stroke="#ee6e6e" stroke-width="0.7" fill="none"/>
<path d="M486.5 136.7 L485.8 136.6 L484.8 136.8 L483.7 137.1 L482.8 137.2 L482.3 137 L482.3 136.4 L482.5 135.5 L482.8 134.5 L483 133.8 L482.7 133.4 L481.9 133.3 L480.8 133.7 L479.6 134 L478.6 134.3 L478 134.1 L477.8 133.6 L478 132.8 L478.2 132 L478.2 131.3 L477.8 131 L477 131 L475.8 131.4 L474.5 131.9 L473.3 132.2 L472.6 132.2 L472.4 131.8 L472.4 131.1 L472.5 130.3 L472.4 129.7 L471.9 129.5 L471 129.7 L469.7 130.1 L468.3 130.7 L467 131.1 L466.2 131.2 L465.8 130.8 L465.8 130.2 L465.8 129.5" stroke="#ee6e6e" stroke-width="0.7" fill="none"/>
<path d="M483.7 137.9 L483.9 137.4 L484.5 136.8 L485.4 136.2 L486.1 135.5 L486.4 135 L486 134.6 L485.1 134.2 L484 133.8 L483.1 133.5 L482.5 133.1 L482.6 132.5 L483.2 132 L484 131.3 L484.6 130.7 L484.8 130.2 L484.3 129.8 L483.4 129.4 L482.2 129.1 L481.1 128.7 L480.5 128.3 L480.5 127.8 L481 127.2 L481.7 126.6 L482.2 126 L482.3 125.5 L481.8 125.1 L480.7 124.7 L479.4 124.4 L478.3 124.1 L477.6 123.7 L477.5 123.2 L477.9 122.7 L478.5 122 L479 121.5 L479 121 L478.3 120.6 L477.2 120.2 L475.8 119.9 L474.6 119.6" stroke="#ee6e6e" stroke-width="0.7" fill="none"/>
<path d="M484 137.2 L484 136.7 L484.6 136.3 L485.5 136.2 L486.6 136.1 L487.5 135.9 L487.9 135.5 L487.8 134.9 L487.2 134.1 L486.5 133.3 L486 132.6 L486 132.1 L486.5 131.7 L487.6 131.6 L488.7 131.5 L489.6 131.3 L490 131 L489.9 130.4 L489.3 129.6 L488.6 128.8 L488.2 128.1 L488.2 127.5 L488.8 127.2 L489.8 127.1 L491 127 L491.9 126.9 L492.3 126.5 L492.2 125.9 L491.7 125.2 L491 124.4 L490.6 123.7 L490.6 123.1 L491.2 122.8 L492.3 122.7 L493.5 122.6 L494.4 122.5 L494.9 122.1 L494.8 121.6 L494.3 120.8" stroke="#ee6e6e" stroke-width="0.7" fill="none"/>
<path d="M485 137.3 L486 137.7 L486.9 138 L487.4 138 L487.6 137.4 L487.5 136.4 L487.2 135.3 L487 134.2 L487.1 133.6 L487.6 133.4 L488.4 133.6 L489.3 133.9 L490.1 134.1 L490.6 133.9 L490.7 133.2 L490.4 132.1 L490 130.8 L489.8 129.7 L489.8 128.9 L490.2 128.6 L490.9 128.7 L491.7 128.9 L492.4 129 L492.8 128.7 L492.8 127.9 L492.4 126.6 L492 125.3 L491.6 124 L491.5 123.1 L491.8 122.7 L492.4 122.7 L493.2 122.8" stroke="#ee6e6e" stroke-width="0.7" fill="none"/>
<rect x="481.3" y="133.7" width="8" height="8" fill="#1f4f9c" transform="rotate(40 485.3 137.7)"/>
<rect x="483.6" y="171.5" width="2.2" height="12.5" fill="#000"/>
<path d="M481.1 183.5 L488.3 183.5 L484.7 189 Z" fill="#000"/>
<text x="524.4" y="181.6" font-family="'Liberation Serif', 'DejaVu Serif', serif" font-weight="bold" font-size="8" text-anchor="middle" fill="#000">Keep at R.T.</text>
<g transform="translate(462 241) rotate(-38.80)">
<rect x="-2.5" y="-9.8" width="69.9" height="19.6" rx="2.5" fill="#fa868c" stroke="#e06070" stroke-width="0.4"/>
<rect x="-1.5" y="-4.8" width="66.9" height="11" fill="#8c2a5a"/>
<rect x="-1.5" y="-4.8" width="66.9" height="4" fill="#9a3666" opacity="0.8"/>
<ellipse cx="67.4" cy="0" rx="3.2" ry="9" fill="#f6a8b0" fill-opacity="0.85" stroke="#e07080" stroke-width="0.4"/>
<path d="M64.9 -5.6 L68.9 -3 L65.9 5.6 L62.9 3 Z" fill="#b87aa0" opacity="0.9"/>
</g>
<text x="498.6" y="266.5" font-family="'Liberation Serif', 'DejaVu Serif', serif" font-weight="bold" font-size="8" text-anchor="middle" fill="#000">Long, worm-like nanofibrils</text>
</svg>
</body></html>
